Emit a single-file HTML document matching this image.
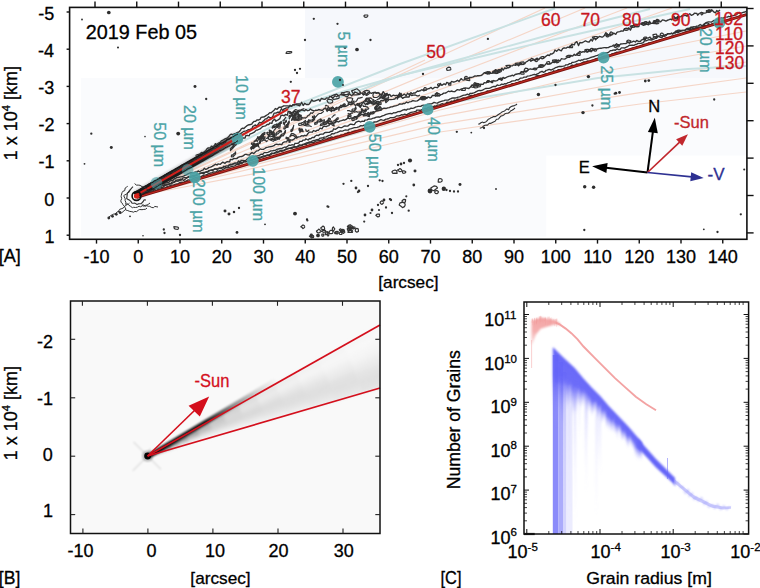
<!DOCTYPE html>
<html><head><meta charset="utf-8"><style>
html,body{margin:0;padding:0;background:#fff;width:760px;height:588px;overflow:hidden;font-family:"Liberation Sans",sans-serif;}
svg{display:block}
</style></head><body>
<svg width="760" height="588" viewBox="0 0 760 588" font-family="Liberation Sans, sans-serif">
<rect width="760" height="588" fill="#fff"/>
<path d="M81,78 H746 V155.4 H546.3 V236.5 H81 Z" fill="#fafbfd"/>
<rect x="305" y="8.3" width="441.5" height="69.7" fill="#f6f8fc"/>
<polyline points="136.5,196.0 425.0,60.0" fill="none" stroke="#f5d6c8" stroke-width="1.2" stroke-linejoin="round"/>
<polyline points="136.5,196.0 545.0,8.0" fill="none" stroke="#f5d6c8" stroke-width="1.2" stroke-linejoin="round"/>
<polyline points="136.5,196.0 585.0,8.0" fill="none" stroke="#f5d6c8" stroke-width="1.2" stroke-linejoin="round"/>
<polyline points="136.5,196.0 627.0,8.0" fill="none" stroke="#f5d6c8" stroke-width="1.2" stroke-linejoin="round"/>
<polyline points="136.5,196.0 672.0,8.0" fill="none" stroke="#f5d6c8" stroke-width="1.2" stroke-linejoin="round"/>
<polyline points="136.5,196.0 440.0,104.0 600.0,60.0 746.0,31.0" fill="none" stroke="#f5d6c8" stroke-width="1.2" stroke-linejoin="round"/>
<polyline points="136.5,196.0 440.0,110.0 600.0,72.0 746.0,46.0" fill="none" stroke="#f5d6c8" stroke-width="1.2" stroke-linejoin="round"/>
<polyline points="136.5,196.0 440.0,116.3 640.0,79.5 746.0,62.0" fill="none" stroke="#f5d6c8" stroke-width="1.2" stroke-linejoin="round"/>
<polyline points="136.5,196.0 440.0,124.2 640.0,92.6 746.0,78.0" fill="none" stroke="#f5d6c8" stroke-width="1.2" stroke-linejoin="round"/>
<polyline points="136.5,196.0 300.0,165.0 440.0,132.0 640.0,104.0 746.0,92.0" fill="none" stroke="#f5d6c8" stroke-width="1.2" stroke-linejoin="round"/>
<polyline points="136.5,196.0 288.7,107.9 400.0,64.0 540.0,13.7 555.0,8.5" fill="none" stroke="#c9e2e3" stroke-width="1.9" stroke-linejoin="round"/>
<polyline points="136.5,196.0 288.7,109.0 345.0,91.0 450.0,62.0 560.0,32.0 650.0,9.0" fill="none" stroke="#c9e2e3" stroke-width="1.9" stroke-linejoin="round"/>
<polyline points="136.5,196.0 300.0,150.0 455.8,101.8 598.0,78.0 688.0,69.0 746.0,66.0" fill="none" stroke="#c9e2e3" stroke-width="1.9" stroke-linejoin="round"/>
<polyline points="136.5,196.0 300.0,112.0 400.0,75.7 500.0,52.0 560.0,38.0 640.0,20.0 690.0,9.0" fill="none" stroke="#c9e2e3" stroke-width="1.9" stroke-linejoin="round"/>
<linearGradient id="bbg" gradientUnits="userSpaceOnUse" x1="136.5" y1="196" x2="246" y2="133"><stop offset="0" stop-color="#0a0a0a" stop-opacity="1"/><stop offset="0.6" stop-color="#111" stop-opacity="0.95"/><stop offset="0.82" stop-color="#222" stop-opacity="0.65"/><stop offset="1" stop-color="#333" stop-opacity="0"/></linearGradient>
<path d="M133.0,192.5 L246.0,127.5 L246.0,137.5 L138.0,198.6 Z" fill="url(#bbg)"/>
<path d="M134.0,190.4 L236.0,131.7 L236.0,144.7 L138.0,200.1 Z" fill="#444" opacity="0.22" filter="url(#bl1)"/>
<polyline points="149.8,185.6 151.0,185.1 152.9,183.0 154.3,182.6 155.3,181.3 156.7,180.9 158.5,180.2 159.7,178.8 161.6,179.5 162.8,177.2 164.8,178.5 165.5,176.5 166.8,175.7 168.9,174.8 169.7,172.4 171.3,172.1 172.9,172.2 174.0,171.2 175.9,169.6 177.2,169.8 178.5,168.2 180.2,169.4 181.2,166.1 183.2,165.7 184.5,164.8 185.3,167.1 187.1,163.8 188.6,162.5 189.5,161.4 191.5,160.1 193.2,160.0 194.4,161.0 195.8,157.3 197.6,158.6 198.5,157.2 200.2,156.3 201.6,157.4 202.6,154.8 204.2,154.0 205.7,153.1 206.8,152.7 208.8,151.9 209.6,150.9 211.8,151.0 212.4,148.2 214.7,148.8 216.0,148.1 217.1,146.3 218.4,147.7 219.7,143.7 221.1,144.5 222.8,144.2 224.4,142.8 225.6,142.1 227.0,139.1 228.8,139.5 230.0,138.6 231.0,137.8 233.3,138.3 234.6,135.3 235.6,136.0 237.3,135.8 238.1,135.3 239.7,134.1 241.3,133.1 242.5,132.3 243.9,131.3 246.1,130.8 247.3,130.3 248.4,129.6 249.9,129.5 251.9,128.7 252.8,126.3 253.8,125.9 255.5,124.9 256.7,125.9 258.0,124.5 259.5,122.3 261.3,122.9 263.1,121.2 264.4,120.0 265.3,118.8 266.6,118.8 268.6,116.8 269.5,117.4 271.6,117.9 272.9,116.1 274.2,113.1 275.1,113.1 276.3,113.0 277.7,112.2 279.7,112.2 281.4,108.7 282.9,110.6 284.2,108.7 284.9,108.8 286.3,107.9 288.4,107.9 290.1,105.2 291.7,106.4 292.7,104.9 295.1,104.1 296.8,104.9 298.6,105.3 299.8,105.8 301.6,102.3 303.2,105.5 304.7,103.3 306.3,104.5 308.6,104.5 309.6,103.7 311.8,99.8 313.2,101.2 314.5,101.1 317.1,100.2 318.8,99.5 319.9,101.2 321.4,98.4 323.1,99.0 325.1,99.4 326.4,97.9 328.7,98.1 329.9,96.3 332.1,97.4 333.3,97.6 335.0,95.7 336.7,96.8 338.0,95.5 339.5,95.2 341.6,94.4 343.6,94.0 345.0,94.4 346.7,94.6 348.4,94.0 349.7,94.1 351.7,95.7 353.4,94.2 354.9,92.0 356.8,92.8 358.5,93.7 360.0,92.7 362.1,93.3 363.5,95.0 364.8,91.8 366.7,94.8 368.0,92.5 369.6,92.7 371.4,93.3 372.9,92.6 375.4,92.1 376.3,93.4 378.0,92.5 380.4,94.6 382.1,94.0 383.2,91.6 385.3,94.7 386.3,93.7 388.2,95.3 389.7,94.4 391.2,96.5 393.4,95.2 394.8,95.6 396.8,95.3 398.8,95.8 400.3,96.4 401.3,95.5 402.7,95.3 404.3,94.1 406.2,95.8 407.6,93.1 409.0,94.6 411.1,92.6 412.1,94.0 414.0,92.8 415.2,93.1 417.5,91.0 418.3,91.3 420.7,90.5 421.8,89.7 423.9,90.9 424.8,90.3 426.3,89.9 427.7,88.8 429.4,88.5 431.1,87.4 432.6,88.9 434.4,87.4 435.5,87.4 437.3,87.7 439.1,86.0 440.3,83.4 441.8,85.4 444.1,83.7 445.6,84.7 446.8,82.4 448.9,83.3 449.8,83.7 451.7,81.4 453.0,82.0 454.3,82.0 455.8,81.3 457.5,80.3 459.0,81.5 461.1,78.6 462.3,79.8 464.0,80.1 465.3,78.3 467.6,78.8 469.2,77.5 470.8,77.5 471.7,77.3 473.3,76.9 475.0,75.9 476.6,76.1 477.6,75.7 479.6,75.7 480.8,75.6 482.5,74.6 484.5,72.6 486.1,73.4 487.7,73.9 488.9,72.2 491.1,73.3 492.3,73.2 493.3,72.6 495.4,69.6 497.1,71.0 498.5,70.0 500.0,70.8 501.9,68.1 503.2,70.1 504.8,67.8 505.9,68.6 507.6,67.8 508.8,67.8 510.9,65.8 512.4,65.9 513.3,64.9 515.7,65.4 517.0,63.9 518.6,65.8 519.8,64.6 521.1,63.4 522.8,64.5 524.9,63.7 526.0,62.0 527.7,61.1 529.3,59.8 530.9,61.2 532.1,60.5 534.1,59.5 534.9,60.5 536.5,58.8 538.7,59.8 540.2,57.7 541.5,58.5 543.0,58.2 544.3,57.6 546.6,55.8 547.7,55.0 549.6,55.5 550.5,53.8 552.0,54.0 553.9,52.6 555.0,50.0 556.6,51.3 558.8,49.2 560.2,50.4 561.3,50.8 562.6,48.7 564.1,47.8 566.0,48.2 567.3,47.2 569.6,47.7 570.3,46.5 571.9,44.2 574.3,44.9 575.2,42.8 576.8,41.6 578.6,45.6 579.9,42.4 581.1,42.9 582.7,42.5 585.1,41.0 585.9,41.0 587.4,41.8 589.1,42.0 591.1,39.3 592.4,41.1 593.9,37.7 595.6,39.8 596.9,38.4 598.7,37.0 599.5,36.4 602.0,37.2 602.9,36.8 604.4,35.4 605.9,32.7 607.8,34.3 609.1,35.3 610.4,34.1 612.7,33.8 613.8,33.2 615.9,34.3 616.9,32.3 618.1,31.9 619.8,31.6 621.3,30.9 623.1,31.2 624.5,28.6 626.1,28.3 627.5,28.6 628.8,27.8 630.4,30.1 632.3,26.1 633.6,25.5 635.2,26.4 636.9,26.8 638.9,26.5 639.5,23.5 641.1,24.2 643.2,22.5 644.9,24.9 646.9,23.7 648.4,24.9 649.4,21.2 650.9,23.4 653.1,23.3 655.0,21.9 656.4,20.5 657.7,21.2 659.6,21.0 660.7,21.9 662.4,19.9 663.8,20.1 666.0,21.1 667.0,20.5 669.1,19.7 670.5,19.1 671.8,19.8 673.7,16.0 675.6,18.5 677.5,16.9 678.5,17.4 680.8,16.7 681.5,15.9 683.5,15.9 684.9,15.1 686.9,16.2 687.9,15.0 689.8,13.8 691.3,15.4 693.5,14.4 694.4,13.1 696.8,13.3 697.6,15.2 699.2,13.5 701.5,12.4 702.6,13.1 704.1,13.2 706.0,12.8 707.3,11.9 708.7,12.3 710.1,11.5 711.7,9.8 714.1,12.2 715.5,12.9 716.7,10.5 718.1,11.6 720.0,10.0" fill="none" stroke="#333333" stroke-width="1.35" stroke-linejoin="round"/>
<polyline points="195.5,155.5 197.6,154.6 198.7,154.5 199.9,153.7 201.5,152.5 203.6,152.6 204.2,151.7 205.8,150.4 207.3,148.4 208.3,148.0 210.6,147.7 211.3,146.1 212.6,146.7 214.4,145.5 215.4,143.6 216.8,144.5 218.5,143.1 220.4,142.2 221.3,140.8 223.4,139.9 224.6,139.2 225.6,138.6 227.5,137.8 229.1,136.2 229.6,135.3 231.2,134.1 233.4,134.7 234.2,133.7 235.7,133.4 237.6,132.4 238.8,132.0 240.3,130.5 241.3,128.9 242.7,128.2 243.9,128.6 245.4,127.1 246.7,125.9 248.1,125.0 250.5,124.5 251.8,124.2 252.4,122.9 253.9,121.4 255.7,121.3 256.9,119.9 258.7,120.0 260.2,119.2 261.0,117.4 263.2,117.0 264.2,116.9 266.0,115.6 266.9,115.0 268.2,114.3 269.8,112.6 271.3,112.8 272.6,111.4 274.6,109.7 275.3,108.5 277.1,109.3 279.0,107.2 279.5,107.2 281.4,107.2 283.8,105.8 284.9,105.9 287.0,105.8 288.6,106.0 290.4,106.1 291.8,105.8 293.1,104.9 294.7,105.0 296.4,104.0 298.0,103.9 300.0,104.0" fill="none" stroke="#333333" stroke-width="1.35" stroke-linejoin="round"/>
<polyline points="231.5,143.7 233.1,144.9 234.6,143.3 236.2,143.7 237.2,142.0 239.1,141.0 240.5,140.1 242.0,139.2 243.1,137.9 245.1,138.1 245.8,135.7 247.3,135.3 249.2,135.8 249.9,134.1 251.8,133.4 253.4,132.6 254.3,132.2 256.2,130.1 257.2,130.2 258.7,129.5 260.1,128.9 261.6,127.6 262.7,126.5 264.1,126.2 265.7,125.8 267.1,124.4 268.9,124.5 269.6,122.9 271.9,123.4 272.4,121.3 274.7,119.1 275.8,121.3 277.5,120.1 278.3,119.8 279.9,118.6 281.1,115.3 282.6,115.1 284.2,115.9 285.3,114.5 287.5,115.2 288.1,111.4 289.5,111.5 291.9,112.9 293.3,112.6 294.9,111.3 296.5,112.4 297.9,110.7 299.5,110.2 300.7,110.1 302.5,110.0 304.7,110.8 305.7,109.4 307.6,110.7 309.1,110.4 310.4,108.9 311.9,110.2 314.1,111.0 315.9,110.2 317.2,110.4 318.7,109.5 320.9,110.2 322.5,110.2 323.8,108.9 325.7,107.9 326.8,110.4 328.1,107.6 330.3,108.3 331.5,107.6 333.5,108.7 334.6,109.0 336.8,107.8 338.5,107.8 339.4,106.6 341.1,107.6 342.4,106.4 345.0,106.5 346.3,106.2 348.0,105.2 349.0,104.0 350.8,104.8 353.0,103.6 354.6,104.2 355.4,105.7 357.3,104.1 359.3,103.7 360.7,106.6 362.1,103.6 363.5,102.2 365.7,104.7 366.9,103.3 368.8,103.8 370.5,102.2 371.7,102.4 373.2,101.9 375.3,100.6 377.2,101.9 378.0,101.4 379.5,102.4 381.1,100.5 383.1,100.9 384.5,99.2 386.1,99.4 388.1,99.3 390.0,99.6 390.9,99.6 392.9,99.4 394.8,99.0 395.8,97.6 397.1,97.6 399.1,97.1 400.9,95.8 402.6,98.4 403.7,97.6 405.6,97.0 407.1,96.9 409.1,97.0 409.9,94.3 411.6,95.5 413.3,95.1 415.3,95.0 417.1,95.9 418.2,96.0 420.0,95.0" fill="none" stroke="#333333" stroke-width="1.35" stroke-linejoin="round"/>
<polyline points="139.5,195.4 141.7,193.1 142.5,193.8 144.4,191.7 146.2,191.5 147.0,191.4 148.6,191.2 150.6,190.1 152.0,189.9 153.1,187.8 154.9,186.9 156.3,187.8 157.5,185.6 159.0,184.7 161.1,185.9 162.0,184.8 163.9,185.2 165.0,183.1 167.0,182.6 168.6,182.6 169.8,181.2 171.6,180.0 172.6,180.8 174.4,178.7 175.5,178.8 176.8,177.4 178.2,177.5 180.4,176.8 181.2,176.8 183.5,176.1 184.5,175.6 185.7,175.1 187.9,173.8 189.5,173.2 190.3,173.0 192.6,172.7 194.2,172.7 195.8,171.8 197.3,171.8 198.2,170.9 199.6,171.8 201.9,170.3 203.2,169.9 204.4,168.2 205.8,169.4 207.4,168.6 209.0,167.4 210.5,167.1 212.1,166.4 213.7,165.4 215.8,164.2 217.0,165.0 218.0,163.9 220.3,164.4 221.4,163.2 222.8,162.1 225.0,163.4 225.8,162.5 227.2,161.6 229.7,161.8 230.3,159.5 232.6,159.7 233.5,158.5 235.7,158.6 236.7,158.6 238.2,157.4 240.2,156.7 241.7,156.5 242.7,156.2 244.9,154.4 246.3,154.4 247.6,154.8 249.6,155.0 250.3,153.9 252.0,152.6 253.8,153.6 255.3,152.0 256.9,150.8 258.5,150.6 260.1,148.9 261.4,149.3 263.4,149.3 264.8,148.5 266.1,147.6 268.0,147.2 269.2,146.8 271.2,146.5 272.1,146.4 274.0,145.7 275.0,144.7 276.7,144.1 278.1,144.7 279.8,144.2 281.8,144.7 282.7,142.8 284.5,141.9 286.6,141.8 287.6,140.0 288.9,140.3 290.5,139.8 292.2,140.2 294.1,139.1 295.6,137.6 296.9,138.0 298.1,137.0 300.2,136.6 301.9,135.6 303.3,136.1 304.5,135.3 306.5,135.6 308.0,133.5 309.4,132.1 310.9,132.1 312.4,132.2 313.4,130.5 315.6,131.4 317.1,130.2 318.4,130.3 320.1,128.2 322.0,128.9 322.8,127.1 324.5,126.2 326.1,126.7 327.7,125.9 328.9,125.6 330.8,123.2 331.9,123.3 334.1,123.1 335.4,122.1 336.9,121.3 338.4,122.0 340.2,120.9 341.5,120.6 343.6,119.8 344.6,120.2 346.2,119.4 347.4,118.2 349.7,118.7 350.9,117.9 352.9,118.0 354.7,116.6 356.1,116.6 357.3,116.3 359.2,116.1 360.8,114.9 362.2,114.4 363.4,115.1 365.4,113.9 367.2,113.9 368.2,112.5 370.0,113.6 371.4,113.2 373.5,111.8 374.5,112.1 376.2,111.0 378.1,110.6 379.3,110.2 381.0,110.3 382.6,108.6 384.1,108.1 386.2,108.5 387.7,107.8 389.4,107.6 390.9,106.8 392.2,106.8 394.1,106.2 395.4,105.8 396.5,105.7 398.2,105.0 399.7,103.9 402.0,104.2 403.5,103.3 404.8,103.5 406.6,102.0 408.1,102.8 409.6,101.8 411.0,101.7 412.9,100.7 414.1,100.9 415.3,101.1 417.2,100.9 418.4,100.1 420.3,98.6 422.2,99.0 422.9,99.0 425.1,97.6 426.7,98.2 428.0,96.9 430.1,97.9 431.4,97.1 432.3,95.5 434.8,95.3 435.8,96.3 437.5,95.0 439.5,95.8 440.8,94.6 442.0,94.4 443.7,93.1 445.3,93.2 446.8,92.3 448.4,91.2 449.8,91.6 451.9,91.0 452.9,91.6 454.7,91.7 456.5,90.2 457.6,89.7 459.5,90.1 461.1,89.2 462.7,88.6 464.4,88.1 465.4,87.9 466.7,88.1 468.9,88.5 470.5,87.1 472.0,84.9 473.6,85.2 475.1,84.8 476.7,85.3 478.1,85.6 480.0,84.6 480.8,84.1 483.1,84.3 484.2,82.6 486.3,82.8 487.3,81.4 488.9,81.3 490.6,81.7 492.3,81.2 493.8,80.5 494.9,81.1 497.0,80.6 498.9,79.3 499.9,79.0 501.6,80.3 503.1,77.4 504.5,78.4 505.9,77.7 507.3,76.8 509.4,76.2 510.4,76.0 512.7,75.2 513.5,75.9 515.1,74.5 517.2,74.0 518.7,73.7 520.2,73.7 521.1,71.7 523.2,71.9 525.0,70.9 525.9,72.2 527.2,70.5 528.7,69.5 530.3,68.8 532.1,69.3 534.2,68.5 535.4,69.0 537.0,68.2 538.4,67.3 540.3,66.7 541.4,65.9 543.0,65.2 544.5,65.7 546.4,63.3 547.8,64.2 549.7,64.0 551.0,63.5 552.4,62.2 554.3,62.6 555.2,60.8 556.9,61.6 558.6,60.1 560.1,61.0 561.3,58.7 562.6,58.9 564.7,59.1 566.5,58.0 568.0,57.2 569.5,57.3 570.5,55.6 572.7,56.0 574.3,54.2 575.2,55.3 577.2,54.5 578.2,53.5 579.7,51.5 581.7,52.3 582.9,51.7 584.5,52.0 586.3,50.5 587.5,51.7 589.2,49.9 591.1,51.7 592.7,49.4 594.2,49.6 595.5,49.4 597.0,49.0 599.0,48.3 600.4,48.2 601.6,48.2 604.2,47.6 605.4,47.7 607.1,47.7 608.3,47.6 610.0,46.7 612.1,46.2 613.5,45.0 614.5,45.5 616.6,43.7 618.2,45.5 619.8,44.9 620.6,44.0 622.3,43.9 623.8,43.7 625.8,43.6 627.8,42.2 629.4,43.2 630.4,42.4 631.7,42.2 633.7,41.2 635.4,42.0 636.7,40.4 638.4,41.3 640.5,41.4 641.3,40.2 643.0,39.4 645.1,40.0 645.9,37.9 648.2,38.1 650.0,37.0 650.6,38.3 653.1,38.1 654.4,36.7 656.0,37.4 657.0,36.0 658.6,36.3 660.5,35.8 661.7,35.6 663.9,35.9 665.0,34.6 666.4,34.6 668.9,33.6 670.4,33.8 671.5,32.9 672.8,34.0 674.9,31.9 676.3,31.5 677.9,32.8 679.6,31.7 680.6,31.5 682.8,30.4 684.6,30.3 685.6,29.8 687.1,29.9 689.3,29.2 690.5,29.4 691.9,29.0 694.2,28.2 694.8,28.8 696.6,27.1 698.4,27.2 699.7,27.5 701.5,28.9 703.6,26.1 704.4,25.5 706.0,26.8 708.2,24.5 709.1,26.4 711.5,24.0 712.3,24.1 714.7,23.0 716.0,23.0" fill="none" stroke="#333333" stroke-width="1.35" stroke-linejoin="round"/>
<polyline points="139.9,195.4 142.0,195.0 142.7,194.9 144.3,193.8 145.9,192.3 147.3,193.0 149.2,192.2 150.5,191.4 152.5,191.2 154.2,189.7 155.0,189.2 157.2,188.1 158.0,188.5 160.3,187.0 161.9,187.7 163.1,187.3 164.6,185.8 166.5,185.0 168.0,184.7 169.1,184.0 170.9,183.6 171.8,182.1 173.9,181.9 175.0,181.2 177.3,179.9 178.3,180.0 180.3,179.0 181.1,179.9 183.1,177.8 184.6,177.6 185.7,177.6 188.2,177.3 188.8,177.1 190.5,176.5 191.9,175.9 194.0,175.5 195.5,175.2 197.0,173.9 198.1,174.1 200.4,173.7 201.2,173.2 203.1,172.5 204.2,172.4 206.1,172.4 208.1,172.0 208.9,170.4 210.4,170.3 212.6,170.7 213.8,169.6 215.7,168.9 217.4,168.8 218.7,168.3 219.8,168.3 221.5,168.4 223.5,166.9 224.9,166.6 226.2,165.9 228.2,165.8 229.2,164.9 230.9,164.1 231.9,164.4 233.8,163.4 235.0,163.0 237.4,162.7 238.6,160.9 240.3,162.2 241.1,160.3 243.2,160.4 244.4,160.7 246.2,160.1 247.4,158.7 249.3,157.4 250.6,158.5 252.1,157.4 253.9,156.8 255.8,156.1 256.9,156.0 258.5,155.6 259.6,155.2 261.3,154.2 262.8,154.2 264.2,152.6 266.3,152.7 267.8,152.3 269.4,151.7 270.7,150.9 272.3,150.8 273.7,150.5 275.4,150.3 276.8,149.4 278.3,149.0 280.4,148.5 281.5,148.6 282.9,147.9 284.9,147.0 285.8,147.4 287.6,146.4 288.8,145.1 291.0,145.3 291.9,144.7 294.1,145.2 295.0,143.3 297.1,143.4 298.6,143.0 300.0,141.3 301.8,141.4 303.1,140.1 304.9,140.1 305.8,138.8 308.1,140.0 309.3,138.7 310.8,138.7 312.2,137.4 314.1,137.5 315.3,136.0 316.9,135.2 318.3,135.6 319.9,134.4 321.4,134.1 323.4,134.0 324.6,132.7 325.8,132.5 327.8,132.3 329.3,132.4 330.6,131.5 332.7,131.0 333.6,128.8 335.3,129.3 336.5,128.7 338.5,127.1 340.3,127.6 341.6,127.7 343.2,126.7 344.9,125.9 346.4,126.1 347.7,126.1 349.5,124.7 350.7,124.2 352.7,124.5 354.3,124.6 355.8,122.4 357.3,121.7 358.8,121.2 360.6,122.0 361.9,121.2 364.2,121.3 364.9,120.1 367.2,119.8 368.9,118.9 370.4,119.1 371.4,119.0 373.2,118.1 374.4,118.0 376.4,117.2 378.4,116.8 379.6,117.2 381.3,116.4 382.4,115.8 384.0,115.3 386.1,114.3 387.1,114.1 388.9,113.7 390.7,113.5 392.1,113.8 393.6,112.7 394.9,112.8 396.4,112.5 398.0,111.7 400.3,111.5 401.7,110.7 402.6,110.1 405.0,109.5 406.1,110.2 407.5,109.1 409.8,109.0 411.0,108.1 412.4,108.4 413.6,108.1 416.1,106.8 417.1,106.6 418.3,106.3 420.7,106.4 422.3,105.4 423.8,105.2 425.5,105.6 426.6,105.0 428.0,104.1 429.9,103.9 431.6,103.9 432.8,103.2 434.0,102.4 435.8,102.9 437.3,103.2 439.1,102.1 440.5,101.6 442.1,101.1 444.1,100.6 445.2,100.1 446.7,100.1 448.2,100.1 449.8,99.2 451.2,98.5 452.9,97.9 455.0,98.0 456.6,97.6 458.1,97.1 459.6,96.8 460.8,96.3 463.0,95.4 464.1,95.1 465.3,95.1 467.4,94.1 468.8,94.8 470.2,93.3 471.6,93.5 473.8,92.9 475.0,92.4 476.3,91.6 478.3,90.7 479.8,90.5 480.8,90.7 482.5,90.1 484.5,89.0 485.5,88.5 487.5,88.3 488.9,88.4 490.4,87.8 491.8,87.1 493.7,86.4 495.7,86.5 497.2,84.9 498.1,85.4 500.2,85.1 501.7,84.2 503.2,84.5 504.8,83.6 506.0,84.0 507.8,82.7 509.6,82.4 511.0,81.7 511.8,81.1 513.5,80.9 515.3,80.7 516.5,79.6 518.1,80.0 520.3,78.2 521.3,78.1 523.0,77.8 524.1,77.1 526.5,77.1 527.2,76.1 529.6,75.9 530.5,75.5 531.9,75.2 534.3,74.3 535.6,74.8 536.8,74.1 538.7,73.4 539.6,72.4 542.0,71.3 543.3,72.3 544.9,71.7 546.1,70.3 547.2,70.2 549.2,69.4 551.2,70.0 551.9,69.6 554.0,68.6 555.4,67.7 557.4,67.2 558.2,66.6 559.6,66.3 561.2,66.5 562.9,66.2 564.8,65.8 565.9,64.8 567.6,64.8 569.7,63.6 571.2,63.7 571.9,62.5 574.2,62.2 575.4,61.9 577.1,61.2 578.6,60.2 580.3,60.7 581.2,59.9 582.8,60.0 584.2,59.1 586.4,59.0 587.6,58.6 589.2,58.1 590.6,57.5 591.8,57.1 594.3,56.5 595.6,55.8 597.4,55.4 598.5,55.0 599.9,54.9 601.0,54.8 603.5,53.4 605.1,52.8 606.3,52.9 607.3,52.8 608.8,52.1 610.6,50.6 612.0,50.5 614.3,49.9 615.1,50.4 617.2,48.8 618.3,49.6 619.8,49.7 621.4,47.9 623.4,47.8 624.4,48.1 626.3,47.2 628.0,46.3 629.7,45.1 630.8,45.4 632.1,45.2 633.9,45.4 635.0,44.7 636.9,44.1 638.0,43.4 639.9,43.3 641.0,43.3 643.4,42.6 644.5,40.9 645.9,40.8 647.6,40.2 649.1,39.6 651.1,40.0 652.7,39.5 653.8,39.2 655.4,38.2 656.5,38.2 658.3,36.2 660.4,37.3 661.9,37.7 663.2,35.9 664.9,36.3 666.3,35.4 667.5,33.6 669.2,33.7 670.9,33.6 672.7,33.7 673.4,33.1 675.3,33.1 676.5,31.7 678.5,31.1 679.9,30.4 681.4,30.4 682.7,30.5 684.7,30.5 685.8,29.4 687.3,28.4 689.3,28.2 690.8,28.3 692.0,27.1 693.9,26.7 695.5,26.8 696.5,26.2 698.4,25.9 700.2,24.5 701.8,25.6 703.4,25.0 704.4,23.8 706.0,22.7 708.4,21.9 709.2,21.9 711.4,22.1 712.6,21.4 713.8,20.5 715.7,20.2 717.7,19.0 719.2,19.9 721.0,18.0 722.6,18.1 723.5,18.0 725.6,17.1 727.1,17.2 728.4,16.4 730.4,16.9 731.3,15.4 733.4,15.7 735.2,15.1 736.1,14.9 737.8,13.5 739.3,12.5 741.3,13.2 742.4,12.7 744.7,12.0 746.0,11.5" fill="none" stroke="#333333" stroke-width="1.35" stroke-linejoin="round"/>
<polyline points="139.7,195.2 141.7,194.9 143.0,195.0 144.7,194.6 146.3,193.9 147.2,192.2 149.1,192.8 151.1,192.4 152.6,191.8 154.2,191.2 155.6,190.3 156.6,190.4 158.8,189.1 160.1,189.6 161.1,188.6 163.5,188.4 164.7,187.9 166.0,187.3 167.7,186.4 169.1,186.1 170.3,185.5 171.8,185.1 173.8,184.9 175.0,184.3 177.1,183.8 178.5,183.6 179.8,182.4 182.0,182.2 183.6,182.3 184.9,181.5 186.5,181.0 187.8,179.9 189.1,179.8 191.1,180.1 192.7,178.8 194.1,178.2 195.6,177.5 196.8,177.4 198.5,176.9 199.8,176.6 201.4,176.4 202.9,175.5 204.4,175.1 205.8,174.9 207.2,174.3 209.2,173.3 210.8,173.0 211.9,172.8 213.6,171.9 215.4,172.2 217.4,170.7 218.5,171.3 219.6,170.4 222.0,170.1 222.9,169.3 225.0,168.3 225.7,167.5 227.5,167.8 229.0,167.5 230.5,166.8 232.5,166.3 233.5,166.1 235.5,165.6 236.6,164.4 238.7,164.8 239.6,163.7 241.8,163.6 242.7,162.6 244.3,161.7 246.3,161.7 248.1,161.5 249.5,161.2 250.9,160.0 252.1,160.2 253.4,159.4 255.5,159.0 256.8,158.0 258.2,158.0 260.0,158.3 261.6,157.1 263.6,157.0 264.8,156.3 266.0,155.8 267.3,155.3 269.5,155.3 270.7,154.6 272.3,153.4 274.0,153.1 275.5,152.6 276.7,152.9 278.7,152.0 279.8,150.9 281.8,151.4 282.9,150.5 284.6,150.3 285.7,149.6 287.7,148.8 289.1,148.2 291.3,148.4 291.9,148.4 293.4,147.4 295.4,147.0 297.0,146.8 298.3,146.7 299.6,145.8 302.0,145.5 302.7,145.0 304.4,144.0 306.6,142.8 307.5,142.8 309.5,142.0 311.2,141.8 311.9,141.2 314.0,140.5 315.3,140.2 317.0,139.5 318.4,139.8 320.1,138.1 321.3,138.0 323.0,137.7 324.3,137.1 326.3,136.9 327.5,136.1 329.3,135.3 330.4,135.2 332.1,133.6 334.1,133.8 335.2,132.9 336.9,132.7 338.6,131.9 340.1,131.0 342.0,131.2 342.9,130.9 345.0,130.0 346.7,130.1 348.4,130.0 349.3,129.1 351.5,128.6 352.1,128.3 354.4,127.6 355.4,127.6 357.0,127.3 358.8,126.9 360.9,125.7 362.6,125.9 364.0,125.2 365.5,125.2 366.6,124.4 368.4,124.0 370.5,123.5 371.4,123.2 373.1,122.5 374.4,122.0 376.5,121.9 377.5,121.4 379.1,120.6 380.9,119.7 382.5,120.2 383.9,120.4 386.0,119.1 387.1,119.0 388.5,118.7 390.1,117.7 392.2,117.6 393.5,117.7 395.4,116.8 396.9,115.8 398.9,115.8 400.4,115.4 401.4,114.7 403.0,115.0 404.6,114.2 406.2,114.6 407.3,114.4 409.5,113.2 411.0,112.4 412.4,112.1 413.7,111.9 416.0,111.4 416.7,110.1 418.9,110.2 420.4,110.5 421.7,109.6 423.7,109.2 425.4,108.3 427.1,108.3 427.9,107.5 429.6,107.1 431.5,106.7 432.9,106.9 434.6,106.0 436.0,106.3 437.2,105.2 439.5,104.8 440.6,104.5 442.2,103.7 443.5,104.2 445.3,103.9 446.9,102.2 448.2,102.3 449.7,102.2 451.7,101.2 453.5,101.7 454.2,100.2 456.1,100.6 457.4,99.2 459.0,99.4 460.8,99.1 462.8,98.1 463.7,98.0 465.5,98.2 467.1,97.2 468.7,96.9 470.0,95.7 472.1,95.6 473.2,95.8 474.9,94.8 476.1,94.9 477.8,94.0 479.4,93.6 481.5,93.2 482.6,93.1 484.7,92.8 486.3,92.2 487.2,90.9 489.2,91.4 490.5,91.0 492.1,90.3 494.0,89.6 495.5,89.7 497.2,88.7 498.5,88.7 500.4,88.3 501.8,88.4 502.9,86.9 504.2,86.3 506.4,85.8 507.7,85.9 509.6,85.2 510.9,84.6 512.3,83.6 513.8,83.9 515.4,83.6 516.9,82.6 518.5,82.6 520.2,81.4 521.4,81.9 523.1,81.1 524.9,80.5 525.9,79.8 527.3,79.6 528.8,78.9 531.0,78.5 532.5,78.1 534.1,77.5 535.6,77.2 536.8,75.6 538.8,75.6 540.4,75.9 541.6,75.5 542.6,75.1 544.4,74.3 546.0,73.8 547.7,74.1 549.2,72.8 550.6,72.5 552.7,72.2 553.6,70.8 555.1,71.5 556.8,70.7 558.4,69.6 559.9,69.7 561.8,69.4 563.1,69.5 564.2,68.0 566.1,68.1 567.8,67.1 569.5,67.1 570.6,66.2 572.4,65.2 573.8,65.7 575.8,64.8 576.5,64.0 578.0,64.2 580.4,63.9 581.2,63.3 583.5,62.0 584.6,61.9 586.3,61.6 587.4,61.0 589.6,61.3 590.5,61.0 591.9,60.4 594.3,59.8 595.3,58.9 597.3,58.3 598.6,58.2 600.2,57.8 601.1,57.4 602.8,56.5 604.7,56.1 605.8,56.3 608.1,55.1 608.9,55.6 611.1,54.9 611.8,54.0 613.7,53.5 615.4,53.0 616.5,52.2 618.4,52.4 620.2,52.3 621.2,51.8 623.5,51.8 624.6,50.5 625.9,49.7 627.7,50.1 629.7,49.5 631.1,48.9 632.4,48.1 633.5,47.8 635.2,47.9 636.7,46.5 638.9,46.9 640.5,46.1 641.4,46.0 642.6,44.9 644.4,44.4 646.4,44.2 647.4,43.8 648.8,42.9 650.8,43.1 652.6,42.6 653.9,41.8 655.4,41.4 656.5,40.8 658.5,40.3 659.9,39.6 661.2,39.9 662.7,39.4 665.0,38.5 666.5,38.0 667.3,37.7 669.6,37.5 670.8,37.1 671.9,36.1 673.9,35.9 675.4,35.2 676.8,35.1 678.2,34.6 680.4,34.2 681.5,33.6 683.5,33.0 684.6,32.7 686.3,31.7 687.4,31.7 689.0,31.0 690.3,30.4 692.1,30.6 694.2,30.3 695.1,29.6 697.0,29.0 698.0,27.9 699.7,27.2 701.1,26.9 703.3,26.8 704.6,26.0 706.7,25.4 707.4,25.9 710.0,24.9 710.7,24.9 712.4,24.2 713.9,23.3 715.7,23.5 717.2,23.1 718.9,23.6 720.9,21.8 722.2,20.9 724.2,21.0 725.6,20.4 727.1,19.9 728.9,19.7 730.4,19.0 731.6,19.2 733.5,19.0 735.1,18.2 736.9,17.8 738.5,16.8 740.0,15.7 741.3,15.3 743.1,15.7 744.8,14.7 746.0,14.5" fill="none" stroke="#333333" stroke-width="1.35" stroke-linejoin="round"/>
<polyline points="140.0,195.7 142.0,194.9 143.4,194.2 144.5,192.9 146.0,191.9 147.9,191.7 149.9,191.6 151.2,190.3 152.9,189.4 154.5,188.8 156.1,187.7 157.3,188.7 159.3,187.9 160.4,186.2 162.4,185.9 163.2,185.7 164.9,185.2 167.2,184.1 168.4,184.4 169.8,183.6 171.9,183.5 173.2,182.5 174.4,182.3 176.4,180.9 178.0,181.3 178.9,180.6 181.1,180.0 182.0,179.5 183.7,180.4 185.1,179.2 187.3,177.8 188.4,176.5 190.0,177.3 192.0,177.1 192.7,177.1 194.6,176.1 196.6,175.3 197.6,175.0 199.1,174.0 200.4,173.0 202.3,173.1 203.7,173.8 205.6,172.0 206.5,171.6 208.9,171.1 209.9,170.6 211.5,170.0 213.2,169.7 214.8,168.7 216.3,169.4 218.3,168.8 219.8,167.9 221.5,167.7 223.2,167.4 223.9,166.2 225.8,167.4 228.0,167.1 228.8,165.2 230.3,165.0 232.3,164.8 233.8,163.7 235.9,163.8 237.1,164.1 239.3,162.6 240.6,161.9 241.9,162.9 243.8,161.6 245.0,161.7 247.1,161.4 248.7,160.3 250.0,160.2 251.9,160.0 252.7,159.7 254.4,159.0 256.0,158.3 258.2,158.0 259.0,157.2 261.2,156.9 262.2,156.7 263.5,155.8 265.3,155.9 267.4,154.9 268.9,154.8 270.0,154.4 271.8,153.0 272.9,153.5 274.6,153.3 276.2,151.8 277.5,151.0 279.1,151.7 280.6,150.5 282.4,150.3 283.4,150.7 285.7,149.0 287.4,148.7 288.2,148.5 290.0,148.2 291.9,147.4 293.5,146.8 294.4,146.6 296.9,147.0 298.1,145.7 299.5,144.8 301.6,145.2 302.7,144.4 304.7,144.2 306.4,144.2 307.6,142.9 309.6,143.1 310.4,142.7 312.3,142.6 314.0,142.4 315.7,141.0 317.1,140.9 319.1,140.6 320.7,140.5 322.2,139.8 323.9,138.6 325.6,139.2 327.0,139.1 328.8,137.8 329.6,137.8 331.7,136.9 332.9,137.8 335.1,137.0 336.1,136.4 337.5,136.2 339.6,136.3 340.9,134.9 342.8,135.5 344.0,134.6 345.3,133.6 347.1,133.2 348.5,132.4 350.8,132.7 351.6,132.2 353.4,131.5 355.4,131.0 356.9,131.2 358.1,130.5 360.0,130.0" fill="none" stroke="#333333" stroke-width="1.35" stroke-linejoin="round"/>
<polyline points="140.3,189.1 141.7,188.3 143.1,187.6 143.8,186.6 145.3,186.0 147.3,185.1 148.5,184.1 150.0,183.4 151.8,182.7 153.4,182.1 154.1,180.7 156.2,180.5 156.8,179.6 158.5,178.6 160.0,177.6 161.3,177.1 162.6,176.4 164.0,175.4 165.7,174.4 166.8,173.8 168.3,172.9 170.1,172.1 171.7,170.9 173.3,170.8 174.5,169.6 175.3,169.0 177.5,168.2 178.8,167.3 179.9,166.4 181.1,165.4 182.7,164.5 183.8,164.2 186.1,163.5 187.4,162.4 188.2,161.7 189.7,160.9 191.9,159.9 193.2,159.4 194.6,158.3 195.3,157.9 197.1,157.0 198.2,156.1 200.3,155.3 201.5,155.0 202.6,153.5 204.4,152.7 205.9,152.3 206.6,151.4 208.4,150.5 209.6,150.0 211.5,148.9 212.6,148.5 214.0,147.4 215.0,146.4 217.2,145.9 218.2,144.8 219.4,144.0 221.5,143.3 222.6,142.6 223.5,141.8 225.4,141.1 226.8,140.1 227.7,139.1 229.8,138.7 230.8,137.8 232.5,136.9 233.9,136.0 235.4,135.2 237.0,134.5 238.0,133.7" fill="none" stroke="#1a1a1a" stroke-width="0.9" stroke-linejoin="round"/>
<polyline points="384.9,98.6 385.6,99.9 386.1,100.6 387.4,99.3 388.1,98.5 388.5,100.3 387.1,101.5 385.8,102.7 385.5,101.1 384.9,100.7 384.9,98.6" fill="none" stroke="#333333" stroke-width="1.2" stroke-linejoin="round"/>
<polyline points="289.0,119.4 290.1,117.4 290.7,116.0 292.1,114.7 293.2,115.7 294.6,114.8 295.4,114.5" fill="none" stroke="#333333" stroke-width="1.2" stroke-linejoin="round"/>
<polyline points="230.4,148.6 232.3,147.0 234.3,144.1 236.3,143.1 236.4,144.6 234.6,146.0 232.5,148.5 230.4,150.5 230.4,148.6" fill="none" stroke="#333333" stroke-width="1.2" stroke-linejoin="round"/>
<polyline points="263.8,140.3 265.3,139.9 266.4,141.6 267.7,140.5" fill="none" stroke="#333333" stroke-width="1.2" stroke-linejoin="round"/>
<polyline points="231.5,154.9 232.0,154.9 232.8,155.1 233.7,153.7 234.7,153.3 235.6,151.9 235.6,153.7 235.0,154.8 234.1,155.6 233.3,156.6 231.7,156.9 231.4,156.8 231.5,154.9" fill="none" stroke="#333333" stroke-width="1.2" stroke-linejoin="round"/>
<polyline points="272.9,127.5 274.3,127.7 275.8,126.7 277.4,127.3 278.8,128.2 280.5,127.7" fill="none" stroke="#333333" stroke-width="1.2" stroke-linejoin="round"/>
<polyline points="376.6,99.6 377.5,99.6 378.9,98.7 380.4,97.5 381.5,97.7 382.3,98.4 383.1,98.9" fill="none" stroke="#333333" stroke-width="1.2" stroke-linejoin="round"/>
<polyline points="333.9,120.3 335.0,120.6 336.0,119.2 337.3,117.9 338.3,117.9 337.9,119.7 336.9,119.6 335.9,121.0 335.5,122.6 333.8,122.3 333.9,120.3" fill="none" stroke="#333333" stroke-width="1.2" stroke-linejoin="round"/>
<polyline points="348.0,114.8 348.5,115.6 349.2,115.0 350.2,114.5 350.8,114.7 351.1,116.1 350.3,116.4 349.0,116.4 348.0,117.8 347.8,117.0 348.0,114.8" fill="none" stroke="#333333" stroke-width="1.2" stroke-linejoin="round"/>
<polyline points="272.1,126.8 274.6,124.8 277.3,124.6 280.3,124.5 280.1,126.4 277.6,126.0 274.1,126.6 272.3,128.2 272.1,126.8" fill="none" stroke="#333333" stroke-width="1.2" stroke-linejoin="round"/>
<polyline points="366.5,101.3 368.1,102.1 369.4,102.3 370.8,103.3 372.1,103.9 373.2,102.0 374.7,102.0" fill="none" stroke="#333333" stroke-width="1.2" stroke-linejoin="round"/>
<polyline points="283.3,121.5 283.4,122.4 283.7,122.6 284.6,123.1 284.9,122.2 285.7,120.9 286.3,120.4 286.5,121.7 285.3,122.5 284.4,123.5 284.7,125.1 284.1,124.0 283.4,123.9 283.4,123.2 283.3,121.5" fill="none" stroke="#333333" stroke-width="1.2" stroke-linejoin="round"/>
<polyline points="266.9,131.9 268.2,132.9 269.3,132.5 270.2,130.8 271.2,130.9 271.5,132.7 270.1,132.4 269.3,134.6 267.8,134.7 266.9,133.5 266.9,131.9" fill="none" stroke="#333333" stroke-width="1.2" stroke-linejoin="round"/>
<polyline points="254.7,144.6 255.6,145.0 256.5,144.6 257.3,145.6 258.5,146.5 259.5,147.6" fill="none" stroke="#333333" stroke-width="1.2" stroke-linejoin="round"/>
<polyline points="293.0,117.8 294.1,117.9 295.7,117.5 296.7,117.9 298.0,117.8 299.2,115.5 299.2,117.5 297.6,119.8 296.5,119.6 295.4,119.7 293.6,119.8 293.1,119.6 293.0,117.8" fill="none" stroke="#333333" stroke-width="1.2" stroke-linejoin="round"/>
<polyline points="375.7,108.0 376.8,107.9 378.6,107.8 379.9,106.3 380.9,107.3 381.4,108.6 379.6,107.5 378.5,109.0 376.5,109.6 375.5,109.3 375.7,108.0" fill="none" stroke="#333333" stroke-width="1.2" stroke-linejoin="round"/>
<polyline points="299.6,130.2 300.3,131.2 301.1,129.3 302.3,129.2 302.2,130.9 301.3,131.1 299.9,132.4 299.8,132.0 299.6,130.2" fill="none" stroke="#333333" stroke-width="1.2" stroke-linejoin="round"/>
<polyline points="361.6,108.4 362.8,109.6 363.3,110.3 364.1,111.0 364.6,110.2 365.9,108.9 365.5,110.8 364.9,111.4 363.7,112.7 362.9,112.3 362.8,111.1 361.4,109.8 361.6,108.4" fill="none" stroke="#333333" stroke-width="1.2" stroke-linejoin="round"/>
<polyline points="268.0,136.5 269.2,134.7 270.0,135.4 270.9,134.5 271.8,134.8 273.1,134.2 274.4,133.9 274.7,135.5 272.6,136.4 271.3,136.5 270.9,136.6 269.9,136.8 269.0,136.1 268.1,138.1 268.0,136.5" fill="none" stroke="#333333" stroke-width="1.2" stroke-linejoin="round"/>
<polyline points="290.3,135.5 291.4,133.5 293.0,133.5 294.7,134.5 296.0,135.6 296.9,136.6 296.5,137.9 296.4,137.1 294.5,136.5 293.5,135.3 291.5,135.2 289.8,136.8 290.3,135.5" fill="none" stroke="#333333" stroke-width="1.2" stroke-linejoin="round"/>
<polyline points="253.7,142.6 254.4,140.9 255.1,141.4 256.2,139.6 257.5,137.9 258.3,136.4" fill="none" stroke="#333333" stroke-width="1.2" stroke-linejoin="round"/>
<polyline points="282.7,120.9 283.5,119.9 284.1,120.3 284.8,118.6 286.1,117.0" fill="none" stroke="#333333" stroke-width="1.2" stroke-linejoin="round"/>
<polyline points="315.0,117.7 316.6,115.8 318.1,114.2 319.3,113.5 320.9,113.5 322.2,112.6 323.8,111.3" fill="none" stroke="#333333" stroke-width="1.2" stroke-linejoin="round"/>
<polyline points="294.6,114.1 295.6,114.7 297.4,115.0 298.6,114.1 299.7,114.9 301.3,115.3 300.9,116.9 300.2,116.2 298.5,115.5 297.9,116.5 295.8,116.0 295.0,115.9 294.6,114.1" fill="none" stroke="#333333" stroke-width="1.2" stroke-linejoin="round"/>
<polyline points="397.2,97.0 398.0,95.5 398.9,94.4 399.7,92.7 400.2,94.0 400.8,95.0 401.2,93.3 401.5,95.0 401.1,97.1 400.3,95.8 399.7,94.1 398.8,96.3 398.3,97.5 397.2,99.1 397.2,97.0" fill="none" stroke="#333333" stroke-width="1.2" stroke-linejoin="round"/>
<polyline points="291.8,118.5 292.4,118.5 292.7,117.0 293.4,115.2 294.0,116.0 295.0,114.6 295.3,116.7 294.1,117.3 293.1,117.3 293.2,118.2 292.0,120.2 291.6,120.4 291.8,118.5" fill="none" stroke="#333333" stroke-width="1.2" stroke-linejoin="round"/>
<polyline points="356.2,116.9 358.0,115.4 359.1,113.5 360.4,112.3 362.0,110.5 361.7,112.0 360.6,113.7 358.9,115.5 357.8,117.3 356.6,118.9 356.2,116.9" fill="none" stroke="#333333" stroke-width="1.2" stroke-linejoin="round"/>
<polyline points="338.6,108.4 339.5,107.0 340.9,105.2 341.8,105.5 342.9,104.8 344.2,103.7 345.3,104.3 345.1,106.0 344.3,105.1 342.8,106.0 341.4,107.1 340.5,107.4 339.3,108.4 338.9,110.4 338.6,108.4" fill="none" stroke="#333333" stroke-width="1.2" stroke-linejoin="round"/>
<polyline points="352.0,118.0 353.0,118.8 353.8,118.6 354.7,117.8 355.1,117.3 355.9,117.3 356.7,117.4 356.6,119.1 355.9,119.0 355.2,119.0 354.9,119.7 354.0,120.4 352.6,120.7 351.8,119.8 352.0,118.0" fill="none" stroke="#333333" stroke-width="1.2" stroke-linejoin="round"/>
<polyline points="276.7,123.5 277.7,124.8 278.6,123.7 279.4,123.0 280.7,122.0 281.3,121.6 281.3,123.4 280.8,123.4 279.0,124.7 278.8,125.4 277.8,126.9 276.4,125.0 276.7,123.5" fill="none" stroke="#333333" stroke-width="1.2" stroke-linejoin="round"/>
<polyline points="375.1,107.2 376.3,105.7 378.1,104.4 379.1,102.1 378.7,104.0 378.5,106.0 376.3,106.9 375.1,109.3 375.1,107.2" fill="none" stroke="#333333" stroke-width="1.2" stroke-linejoin="round"/>
<polyline points="365.2,112.5 366.2,110.9 367.0,109.2 368.2,109.1 369.0,108.0" fill="none" stroke="#333333" stroke-width="1.2" stroke-linejoin="round"/>
<polyline points="314.5,122.7 315.5,122.7 316.7,122.0 318.1,120.3 319.4,119.8 321.0,120.3 320.7,121.8 319.5,121.7 317.8,122.0 316.8,124.0 315.5,124.2 314.9,124.5 314.5,122.7" fill="none" stroke="#333333" stroke-width="1.2" stroke-linejoin="round"/>
<polyline points="328.1,110.0 330.0,109.9 331.3,110.4 332.9,110.7 334.7,109.6" fill="none" stroke="#333333" stroke-width="1.2" stroke-linejoin="round"/>
<polyline points="363.8,113.9 365.5,113.6 367.1,114.3 369.3,115.1 369.4,116.8 366.7,115.7 366.0,115.7 363.5,115.9 363.8,113.9" fill="none" stroke="#333333" stroke-width="1.2" stroke-linejoin="round"/>
<polyline points="323.4,122.0 324.8,122.2 326.2,121.8 326.9,121.1 328.1,119.6 328.9,118.1 330.4,118.9 330.2,120.2 329.2,120.0 328.2,121.3 327.1,122.9 326.6,123.9 324.5,124.1 323.3,123.7 323.4,122.0" fill="none" stroke="#333333" stroke-width="1.2" stroke-linejoin="round"/>
<polyline points="269.4,129.6 270.4,130.7 271.6,131.5 272.3,131.9 273.3,133.0 274.3,132.7 274.1,134.1 273.5,134.9 272.0,133.6 271.9,133.0 270.0,132.5 269.2,131.0 269.4,129.6" fill="none" stroke="#333333" stroke-width="1.2" stroke-linejoin="round"/>
<polyline points="305.2,122.4 306.8,121.7 307.7,121.6 308.9,119.6 308.6,121.1 308.0,122.8 306.9,123.7 305.7,124.5 305.2,122.4" fill="none" stroke="#333333" stroke-width="1.2" stroke-linejoin="round"/>
<polyline points="251.1,146.9 253.5,146.5 255.7,144.5 258.1,143.1 258.1,145.1 255.2,145.8 253.7,148.6 250.7,148.2 251.1,146.9" fill="none" stroke="#333333" stroke-width="1.2" stroke-linejoin="round"/>
<polyline points="352.2,109.2 353.2,109.0 354.3,109.0 355.0,108.6 355.7,106.8 356.2,108.9 354.6,110.2 354.1,111.1 353.0,110.8 351.9,110.8 352.2,109.2" fill="none" stroke="#333333" stroke-width="1.2" stroke-linejoin="round"/>
<polyline points="256.3,141.5 256.6,140.2 257.5,141.3 258.0,140.3 258.8,138.5 259.6,136.7" fill="none" stroke="#333333" stroke-width="1.2" stroke-linejoin="round"/>
<polyline points="356.9,103.5 357.6,103.7 358.7,104.4 359.6,105.5 360.7,106.0 360.4,107.7 359.7,106.8 358.9,105.9 357.6,105.4 357.3,105.0 356.9,103.5" fill="none" stroke="#333333" stroke-width="1.2" stroke-linejoin="round"/>
<polyline points="259.2,137.2 260.5,136.1 262.1,134.1 263.7,133.0 265.0,132.4 264.7,134.3 263.4,134.3 261.7,135.7 260.4,138.0 258.7,139.1 259.2,137.2" fill="none" stroke="#333333" stroke-width="1.2" stroke-linejoin="round"/>
<polyline points="259.1,141.9 260.2,141.3 260.8,139.9 261.4,137.7 261.9,136.1 262.5,136.3 263.6,135.3 263.4,137.1 262.5,137.7 261.9,137.5 261.1,139.7 260.4,141.6 260.4,143.0 259.5,143.4 259.1,141.9" fill="none" stroke="#333333" stroke-width="1.2" stroke-linejoin="round"/>
<polyline points="305.3,129.3 305.8,129.4 306.2,131.0 306.7,131.3 307.7,131.4 308.4,130.4 309.3,130.4" fill="none" stroke="#333333" stroke-width="1.2" stroke-linejoin="round"/>
<polyline points="252.4,145.4 252.6,145.9 252.9,144.9 253.3,144.8 253.6,145.8 254.1,144.3 254.3,145.4" fill="none" stroke="#333333" stroke-width="1.2" stroke-linejoin="round"/>
<polyline points="251.1,147.8 252.5,146.4 254.1,145.7 255.3,145.6 256.4,144.8 257.4,143.4 258.5,144.2 258.3,145.7 257.8,145.5 256.6,146.3 254.8,147.3 254.6,147.0 252.1,147.9 251.3,149.8 251.1,147.8" fill="none" stroke="#333333" stroke-width="1.2" stroke-linejoin="round"/>
<polyline points="268.8,139.7 270.1,139.2 271.7,138.6 273.4,137.9 275.3,137.7" fill="none" stroke="#333333" stroke-width="1.2" stroke-linejoin="round"/>
<polyline points="298.4,123.6 301.0,123.1 303.2,122.2 305.5,120.4 305.1,122.2 303.3,124.4 301.1,125.1 298.9,125.3 298.4,123.6" fill="none" stroke="#333333" stroke-width="1.2" stroke-linejoin="round"/>
<polyline points="304.1,125.1 306.8,126.0 309.5,125.8 311.7,126.7" fill="none" stroke="#333333" stroke-width="1.2" stroke-linejoin="round"/>
<polyline points="355.4,102.1 356.7,100.6 358.2,98.0 359.5,98.2 361.2,97.7 362.7,97.0" fill="none" stroke="#333333" stroke-width="1.2" stroke-linejoin="round"/>
<polyline points="294.3,118.3 296.6,118.9 299.2,119.0 301.8,117.2 301.7,119.3 299.1,120.3 296.8,120.1 294.1,120.2 294.3,118.3" fill="none" stroke="#333333" stroke-width="1.2" stroke-linejoin="round"/>
<polyline points="265.7,138.4 266.6,138.4 267.6,137.6 268.3,139.1 269.0,138.0" fill="none" stroke="#333333" stroke-width="1.2" stroke-linejoin="round"/>
<polyline points="253.8,145.1 255.3,145.1 257.2,144.1 258.7,145.9" fill="none" stroke="#333333" stroke-width="1.2" stroke-linejoin="round"/>
<polyline points="320.3,118.6 321.1,119.3 322.1,120.3 323.4,120.2 324.5,119.9 324.1,121.7 323.5,122.2 322.1,121.8 321.1,120.7 320.2,120.1 320.3,118.6" fill="none" stroke="#333333" stroke-width="1.2" stroke-linejoin="round"/>
<polyline points="289.0,115.6 291.2,114.7 293.6,113.8 296.0,112.6 297.9,111.5 298.3,113.7 295.9,114.0 294.0,115.8 291.0,116.2 289.0,117.0 289.0,115.6" fill="none" stroke="#333333" stroke-width="1.2" stroke-linejoin="round"/>
<polyline points="347.1,110.6 349.1,110.6 350.5,111.2 352.0,112.0 353.4,111.6 355.5,112.4" fill="none" stroke="#333333" stroke-width="1.2" stroke-linejoin="round"/>
<polyline points="331.1,108.8 332.4,107.5 333.2,108.4 334.3,109.3 335.6,108.1 336.9,107.2 337.2,109.2 335.4,109.7 334.5,110.7 333.2,110.6 332.0,109.6 331.5,111.0 331.1,108.8" fill="none" stroke="#333333" stroke-width="1.2" stroke-linejoin="round"/>
<polyline points="320.7,123.8 323.0,123.8 325.3,122.2 327.4,120.7 327.9,122.2 325.6,124.2 322.9,125.0 320.3,125.6 320.7,123.8" fill="none" stroke="#333333" stroke-width="1.2" stroke-linejoin="round"/>
<polyline points="305.3,118.4 306.7,117.1 308.1,115.5 309.5,114.9 310.8,112.7 312.3,113.4 313.7,111.9" fill="none" stroke="#333333" stroke-width="1.2" stroke-linejoin="round"/>
<polyline points="286.2,125.1 286.5,124.6 287.5,124.9 287.7,123.1 288.5,122.2 289.0,121.1 289.2,121.0 289.3,122.8 288.5,122.6 288.8,124.1 288.2,124.7 287.6,126.5 286.6,126.6 286.5,126.4 286.2,125.1" fill="none" stroke="#333333" stroke-width="1.2" stroke-linejoin="round"/>
<polyline points="355.2,110.6 356.3,111.6 357.7,112.2 358.9,112.0 359.9,111.8 360.8,112.7 362.1,113.0" fill="none" stroke="#333333" stroke-width="1.2" stroke-linejoin="round"/>
<polyline points="270.5,139.1 273.6,139.5 276.1,137.3 278.5,137.1 278.4,138.5 276.5,138.7 273.3,141.3 270.7,140.3 270.5,139.1" fill="none" stroke="#333333" stroke-width="1.2" stroke-linejoin="round"/>
<polyline points="368.0,113.3 368.7,114.1 369.7,114.0 370.8,112.0 372.2,112.4 373.3,111.8 374.2,112.2 373.9,113.6 373.6,113.4 371.8,114.1 371.0,113.4 369.5,115.4 368.4,116.3 368.0,115.4 368.0,113.3" fill="none" stroke="#333333" stroke-width="1.2" stroke-linejoin="round"/>
<polyline points="326.7,111.9 328.1,110.2 328.9,110.0 330.1,108.5 331.3,108.6 332.6,107.0 333.9,108.0" fill="none" stroke="#333333" stroke-width="1.2" stroke-linejoin="round"/>
<polyline points="374.6,107.1 375.6,107.3 376.6,108.7 378.1,109.0 379.0,108.7 380.3,109.0 380.2,110.2 378.9,110.7 378.0,110.6 376.3,110.6 375.5,108.9 374.9,108.6 374.6,107.1" fill="none" stroke="#333333" stroke-width="1.2" stroke-linejoin="round"/>
<polyline points="272.7,134.9 273.9,135.5 275.6,133.8 276.9,132.3 277.9,131.7 279.7,130.3 281.3,130.8 281.6,132.0 280.0,131.7 278.3,133.6 277.0,134.1 275.7,136.0 273.4,136.9 273.2,137.0 272.7,134.9" fill="none" stroke="#333333" stroke-width="1.2" stroke-linejoin="round"/>
<polyline points="367.9,100.5 368.7,101.1 369.4,101.4 369.9,101.4 370.4,102.3 370.9,101.6 371.4,100.9" fill="none" stroke="#333333" stroke-width="1.2" stroke-linejoin="round"/>
<polyline points="283.7,127.6 285.0,126.8 286.2,125.5 287.6,125.4 288.1,127.2 285.9,127.6 285.1,128.6 284.0,129.1 283.7,127.6" fill="none" stroke="#333333" stroke-width="1.2" stroke-linejoin="round"/>
<polyline points="270.3,133.5 270.7,133.0 271.7,133.8 272.2,132.3 272.5,132.8 273.1,132.6 273.5,131.5" fill="none" stroke="#333333" stroke-width="1.2" stroke-linejoin="round"/>
<polyline points="366.9,104.7 368.0,103.9 368.6,102.3 369.5,101.4 370.8,100.2" fill="none" stroke="#333333" stroke-width="1.2" stroke-linejoin="round"/>
<polyline points="289.1,113.2 291.3,113.7 293.4,111.5 295.3,109.6 297.4,110.1" fill="none" stroke="#333333" stroke-width="1.2" stroke-linejoin="round"/>
<polyline points="296.0,113.7 297.8,112.3 300.0,111.1 302.1,109.2 304.4,108.5" fill="none" stroke="#333333" stroke-width="1.2" stroke-linejoin="round"/>
<polyline points="279.0,137.5 281.4,134.3 283.7,133.7 285.5,130.3 285.4,132.5 283.4,135.8 281.7,135.6 279.1,139.4 279.0,137.5" fill="none" stroke="#333333" stroke-width="1.2" stroke-linejoin="round"/>
<polyline points="312.4,118.2 312.5,116.4 312.5,116.7 312.8,116.9 313.3,117.6 313.8,116.7 314.4,115.0" fill="none" stroke="#333333" stroke-width="1.2" stroke-linejoin="round"/>
<polyline points="312.0,119.7 312.9,120.4 313.9,118.6 314.5,116.5 315.4,116.5" fill="none" stroke="#333333" stroke-width="1.2" stroke-linejoin="round"/>
<polyline points="359.0,103.6 360.6,103.1 362.9,102.0 365.3,100.5" fill="none" stroke="#333333" stroke-width="1.2" stroke-linejoin="round"/>
<polyline points="299.0,117.4 300.1,116.5 301.5,117.3 302.7,118.1 304.0,117.8 305.7,117.8" fill="none" stroke="#333333" stroke-width="1.2" stroke-linejoin="round"/>
<polyline points="274.7,140.4 276.4,139.9 277.5,139.5 279.0,138.2" fill="none" stroke="#333333" stroke-width="1.2" stroke-linejoin="round"/>
<polyline points="378.9,99.1 380.5,97.7 381.7,96.7 383.3,95.4 384.8,95.9 386.3,97.3" fill="none" stroke="#333333" stroke-width="1.2" stroke-linejoin="round"/>
<polyline points="260.2,136.6 262.0,135.9 263.6,137.0 265.1,136.8 264.6,138.9 263.8,138.8 262.1,137.9 259.9,138.7 260.2,136.6" fill="none" stroke="#333333" stroke-width="1.2" stroke-linejoin="round"/>
<polyline points="365.1,99.9 366.5,98.1 368.2,98.5 369.3,99.0 369.5,100.8 368.0,99.8 366.3,99.9 365.1,101.9 365.1,99.9" fill="none" stroke="#333333" stroke-width="1.2" stroke-linejoin="round"/>
<polyline points="325.1,106.4 326.1,105.2 327.2,105.7 328.0,106.0 328.6,107.5 329.7,108.9 330.1,109.1" fill="none" stroke="#333333" stroke-width="1.2" stroke-linejoin="round"/>
<polyline points="347.8,113.1 349.1,114.3 350.3,113.5 351.9,113.2 353.1,113.0" fill="none" stroke="#333333" stroke-width="1.2" stroke-linejoin="round"/>
<polyline points="257.5,136.7 259.2,138.0 260.6,139.1 262.4,139.1 264.1,137.9 263.6,140.0 262.3,140.9 260.5,141.1 259.4,139.6 257.6,138.1 257.5,136.7" fill="none" stroke="#333333" stroke-width="1.2" stroke-linejoin="round"/>
<polyline points="251.7,142.7 253.0,143.3 254.1,143.1 254.8,144.1 255.6,143.9 255.4,145.6 254.7,145.7 254.0,144.3 253.1,144.8 251.4,144.2 251.7,142.7" fill="none" stroke="#333333" stroke-width="1.2" stroke-linejoin="round"/>
<polyline points="291.1,129.4 291.9,130.0 292.3,128.6 293.4,126.8 293.7,125.3 293.3,127.2 293.2,128.1 292.8,130.0 291.6,131.6 290.8,131.3 291.1,129.4" fill="none" stroke="#333333" stroke-width="1.2" stroke-linejoin="round"/>
<polyline points="379.7,97.4 380.4,95.9 381.3,96.0 382.0,94.4 382.9,94.0" fill="none" stroke="#333333" stroke-width="1.2" stroke-linejoin="round"/>
<polyline points="271.0,134.8 272.2,133.6 273.3,132.2 274.1,130.2 275.2,129.1 276.7,127.0" fill="none" stroke="#333333" stroke-width="1.2" stroke-linejoin="round"/>
<polyline points="362.6,104.8 363.5,106.4 364.7,106.3 365.6,106.3 366.2,106.8 367.3,106.8 368.3,108.1" fill="none" stroke="#333333" stroke-width="1.2" stroke-linejoin="round"/>
<polyline points="331.6,117.6 332.7,116.6 334.0,115.2 335.5,114.6" fill="none" stroke="#333333" stroke-width="1.2" stroke-linejoin="round"/>
<polyline points="286.2,136.8 287.1,137.9 288.0,137.4 288.9,138.7 289.1,140.0 289.7,140.3 290.1,140.2 290.1,141.5 290.0,142.3 288.8,142.0 289.2,140.0 288.1,138.7 287.5,139.2 286.0,138.5 286.2,136.8" fill="none" stroke="#333333" stroke-width="1.2" stroke-linejoin="round"/>
<polyline points="328.4,122.2 329.7,121.0 330.9,121.9 331.6,121.0 332.2,122.0 332.7,123.1 333.9,124.7 334.2,125.9 332.3,125.2 331.8,124.0 332.1,122.7 330.9,124.0 329.9,123.2 328.6,123.9 328.4,122.2" fill="none" stroke="#333333" stroke-width="1.2" stroke-linejoin="round"/>
<polyline points="382.3,96.8 383.6,97.2 384.6,95.5 385.9,94.4 387.1,93.1 387.2,95.2 385.7,95.6 384.6,97.5 383.6,98.5 382.3,98.1 382.3,96.8" fill="none" stroke="#333333" stroke-width="1.2" stroke-linejoin="round"/>
<polyline points="288.6,112.6 289.9,111.7 291.6,113.4 293.2,114.6" fill="none" stroke="#333333" stroke-width="1.2" stroke-linejoin="round"/>
<polyline points="348.5,102.3 350.0,102.2 351.1,102.8 352.5,102.1 353.9,100.9 354.3,102.3 352.3,103.9 351.1,104.1 349.8,104.2 348.2,103.9 348.5,102.3" fill="none" stroke="#333333" stroke-width="1.2" stroke-linejoin="round"/>
<polyline points="298.8,128.5 299.7,128.4 300.5,129.3 301.6,129.1 302.7,130.2 303.2,131.7 301.7,131.0 300.8,130.8 299.8,130.2 299.1,130.4 298.8,128.5" fill="none" stroke="#333333" stroke-width="1.2" stroke-linejoin="round"/>
<polyline points="308.0,121.9 309.9,120.3 312.3,119.9 314.8,117.4 314.6,119.5 312.3,121.5 309.6,122.0 307.9,123.1 308.0,121.9" fill="none" stroke="#333333" stroke-width="1.2" stroke-linejoin="round"/>
<polyline points="300.5,123.3 302.5,124.5 304.8,125.4 307.3,124.6 309.5,124.0" fill="none" stroke="#333333" stroke-width="1.2" stroke-linejoin="round"/>
<polyline points="325.7,109.6 326.6,109.8 327.3,110.2 328.5,110.1 329.7,110.2 330.8,111.1 332.0,111.9" fill="none" stroke="#333333" stroke-width="1.2" stroke-linejoin="round"/>
<polyline points="373.3,103.4 375.9,102.4 378.5,103.4 381.1,102.7 381.1,104.3 378.7,104.7 375.7,103.6 372.9,104.9 373.3,103.4" fill="none" stroke="#333333" stroke-width="1.2" stroke-linejoin="round"/>
<polyline points="339.5,97.0 338.7,98.4 336.5,98.9 333.7,99.5 332.1,97.9 331.4,96.0 334.1,94.9 336.8,94.2 338.4,95.7 339.5,97.0" fill="none" stroke="#333333" stroke-width="1.2" stroke-linejoin="round"/>
<polyline points="349.0,94.0 348.5,95.3 346.9,97.1 344.5,95.6 341.4,95.0 341.3,92.9 344.5,92.4 346.6,91.7 349.5,92.2 349.0,94.0" fill="none" stroke="#333333" stroke-width="1.2" stroke-linejoin="round"/>
<polyline points="360.5,92.0 360.1,94.3 356.7,94.8 353.5,94.9 352.9,92.8 351.5,90.9 354.2,89.9 356.9,88.8 358.9,90.4 360.5,92.0" fill="none" stroke="#333333" stroke-width="1.2" stroke-linejoin="round"/>
<polyline points="369.8,93.0 368.5,94.3 366.7,95.4 364.6,94.5 362.5,93.8 362.9,92.3 364.2,91.1 366.7,90.4 369.4,91.2 369.8,93.0" fill="none" stroke="#333333" stroke-width="1.2" stroke-linejoin="round"/>
<polyline points="379.7,95.0 378.6,96.4 376.7,97.5 373.8,97.4 372.9,95.7 373.1,94.3 373.8,92.6 376.6,92.9 379.4,93.2 379.7,95.0" fill="none" stroke="#333333" stroke-width="1.2" stroke-linejoin="round"/>
<polyline points="352.3,100.0 352.0,101.1 350.6,102.4 348.3,102.0 347.0,100.7 346.5,99.1 348.1,97.8 350.6,97.8 352.7,98.5 352.3,100.0" fill="none" stroke="#333333" stroke-width="1.2" stroke-linejoin="round"/>
<polyline points="374.2,100.0 372.3,101.1 370.7,102.4 367.8,102.1 366.2,100.8 366.0,99.2 368.1,98.1 370.7,97.9 372.0,99.0 374.2,100.0" fill="none" stroke="#333333" stroke-width="1.2" stroke-linejoin="round"/>
<polyline points="388.2,96.0 388.7,97.5 386.6,98.3 384.2,98.0 382.9,96.8 383.6,95.4 384.5,94.2 386.5,94.1 388.7,94.5 388.2,96.0" fill="none" stroke="#333333" stroke-width="1.2" stroke-linejoin="round"/>
<polyline points="332.8,101.0 332.5,102.4 330.6,103.2 328.4,102.8 327.5,101.6 327.0,100.3 328.5,99.2 330.4,99.5 332.0,99.9 332.8,101.0" fill="none" stroke="#333333" stroke-width="1.2" stroke-linejoin="round"/>
<polyline points="533.7,59.5 532.8,60.2 531.7,60.4 530.6,60.0 530.7,59.1 531.6,58.3 532.9,58.7 533.7,59.5" fill="none" stroke="#333333" stroke-width="1.2" stroke-linejoin="round"/>
<polyline points="597.6,37.6 597.0,38.5 594.7,38.4 592.7,38.1 592.4,37.0 594.7,36.6 597.2,36.5 597.6,37.6" fill="none" stroke="#333333" stroke-width="1.2" stroke-linejoin="round"/>
<polyline points="645.2,24.1 644.8,24.8 643.4,25.4 642.2,24.6 642.3,23.7 643.4,22.9 645.1,23.3 645.2,24.1" fill="none" stroke="#333333" stroke-width="1.2" stroke-linejoin="round"/>
<polyline points="521.0,63.8 519.7,64.5 517.2,64.9 515.0,64.2 515.4,63.3 517.5,63.1 519.2,63.2 521.0,63.8" fill="none" stroke="#333333" stroke-width="1.2" stroke-linejoin="round"/>
<polyline points="659.2,20.2 658.4,20.7 657.2,21.0 655.9,20.6 656.2,19.9 657.1,19.3 658.4,19.7 659.2,20.2" fill="none" stroke="#333333" stroke-width="1.2" stroke-linejoin="round"/>
<polyline points="490.4,72.9 489.6,73.9 487.4,73.7 485.2,73.4 485.5,72.4 487.2,71.7 489.4,72.0 490.4,72.9" fill="none" stroke="#333333" stroke-width="1.2" stroke-linejoin="round"/>
<polyline points="440.3,84.8 439.9,85.4 438.8,85.7 437.6,85.2 437.6,84.3 438.8,83.7 439.8,84.2 440.3,84.8" fill="none" stroke="#333333" stroke-width="1.2" stroke-linejoin="round"/>
<polyline points="467.4,77.5 467.0,78.3 465.8,78.7 464.4,78.2 464.8,77.0 465.8,76.4 467.1,76.6 467.4,77.5" fill="none" stroke="#333333" stroke-width="1.2" stroke-linejoin="round"/>
<polyline points="677.9,19.1 676.9,19.9 675.1,20.3 673.4,19.7 673.8,18.7 675.0,17.9 677.2,18.2 677.9,19.1" fill="none" stroke="#333333" stroke-width="1.2" stroke-linejoin="round"/>
<polyline points="656.2,22.6 655.1,23.2 654.1,23.6 652.6,23.2 653.2,22.3 654.1,21.7 655.6,21.7 656.2,22.6" fill="none" stroke="#333333" stroke-width="1.2" stroke-linejoin="round"/>
<polyline points="651.2,23.5 649.6,24.2 647.4,24.5 645.5,23.9 646.0,23.1 647.4,22.4 649.8,22.7 651.2,23.5" fill="none" stroke="#333333" stroke-width="1.2" stroke-linejoin="round"/>
<polyline points="613.0,33.4 612.6,34.7 610.9,35.0 609.4,34.2 610.1,32.9 610.9,31.8 612.3,32.5 613.0,33.4" fill="none" stroke="#333333" stroke-width="1.2" stroke-linejoin="round"/>
<polyline points="611.5,35.2 609.9,35.9 607.9,36.1 606.7,35.5 606.2,34.8 608.1,34.5 609.9,34.5 611.5,35.2" fill="none" stroke="#333333" stroke-width="1.2" stroke-linejoin="round"/>
<polyline points="637.8,25.3 637.5,26.3 635.2,26.5 633.6,25.8 633.6,24.8 635.2,24.1 637.4,24.3 637.8,25.3" fill="none" stroke="#333333" stroke-width="1.2" stroke-linejoin="round"/>
<polyline points="643.3,23.7 643.0,24.4 641.9,24.7 641.2,24.0 641.2,23.3 641.9,22.8 643.2,22.8 643.3,23.7" fill="none" stroke="#333333" stroke-width="1.2" stroke-linejoin="round"/>
<polyline points="501.7,71.0 500.5,71.9 498.6,72.3 497.2,71.5 497.2,70.5 498.6,69.7 501.2,69.7 501.7,71.0" fill="none" stroke="#333333" stroke-width="1.2" stroke-linejoin="round"/>
<polyline points="537.5,60.5 537.2,61.3 535.9,61.6 535.1,60.9 534.7,60.0 535.9,59.3 537.2,59.7 537.5,60.5" fill="none" stroke="#333333" stroke-width="1.2" stroke-linejoin="round"/>
<polyline points="679.8,17.2 679.4,17.9 678.3,17.8 677.4,17.5 677.3,16.9 678.3,16.5 679.6,16.5 679.8,17.2" fill="none" stroke="#333333" stroke-width="1.2" stroke-linejoin="round"/>
<polyline points="572.7,46.8 572.3,47.7 570.6,47.6 569.6,47.1 569.3,46.4 570.6,45.9 572.5,45.8 572.7,46.8" fill="none" stroke="#333333" stroke-width="1.2" stroke-linejoin="round"/>
<polyline points="544.0,57.6 543.5,58.5 542.2,58.8 541.1,58.2 540.9,57.0 542.3,56.5 543.8,56.5 544.0,57.6" fill="none" stroke="#333333" stroke-width="1.2" stroke-linejoin="round"/>
<polyline points="608.5,35.8 608.0,37.0 606.9,36.8 606.2,36.3 605.7,35.2 606.8,34.4 607.7,35.0 608.5,35.8" fill="none" stroke="#333333" stroke-width="1.2" stroke-linejoin="round"/>
<polyline points="628.7,29.4 627.6,30.1 626.0,30.5 624.2,30.0 624.8,28.9 626.1,28.4 627.7,28.6 628.7,29.4" fill="none" stroke="#333333" stroke-width="1.2" stroke-linejoin="round"/>
<polyline points="703.2,13.7 702.5,14.4 701.6,14.9 701.0,14.1 700.9,13.3 701.6,12.5 702.8,12.7 703.2,13.7" fill="none" stroke="#333333" stroke-width="1.2" stroke-linejoin="round"/>
<polyline points="659.1,22.8 658.2,23.7 656.4,23.8 654.7,23.3 654.8,22.2 656.4,21.7 658.7,21.4 659.1,22.8" fill="none" stroke="#333333" stroke-width="1.2" stroke-linejoin="round"/>
<polyline points="655.6,21.5 655.3,22.3 654.2,22.6 653.4,21.9 653.4,21.0 654.3,20.5 655.5,20.5 655.6,21.5" fill="none" stroke="#333333" stroke-width="1.2" stroke-linejoin="round"/>
<polyline points="657.3,22.2 657.3,23.4 655.4,23.3 654.1,22.7 654.0,21.6 655.2,20.6 656.9,21.3 657.3,22.2" fill="none" stroke="#333333" stroke-width="1.2" stroke-linejoin="round"/>
<polyline points="711.7,10.9 710.8,11.6 709.0,11.8 708.0,11.2 707.8,10.6 708.9,9.8 710.6,10.3 711.7,10.9" fill="none" stroke="#333333" stroke-width="1.2" stroke-linejoin="round"/>
<polyline points="710.2,11.1 710.1,12.1 708.3,12.2 706.4,11.7 706.4,10.5 708.4,10.3 710.1,10.2 710.2,11.1" fill="none" stroke="#333333" stroke-width="1.2" stroke-linejoin="round"/>
<polyline points="451.0,84.3 450.7,85.2 449.6,85.2 448.5,84.9 448.8,83.8 449.6,83.3 450.8,83.2 451.0,84.3" fill="none" stroke="#333333" stroke-width="1.2" stroke-linejoin="round"/>
<polyline points="635.6,26.4 634.6,27.2 632.4,27.3 630.2,26.9 630.6,25.9 632.5,25.6 634.5,25.6 635.6,26.4" fill="none" stroke="#333333" stroke-width="1.2" stroke-linejoin="round"/>
<polyline points="538.6,58.9 537.9,59.6 536.9,59.7 535.8,59.4 536.3,58.6 536.9,58.2 537.7,58.4 538.6,58.9" fill="none" stroke="#333333" stroke-width="1.2" stroke-linejoin="round"/>
<polyline points="426.5,88.9 426.1,90.1 424.8,90.1 423.5,89.6 424.0,88.3 424.8,87.5 425.9,87.9 426.5,88.9" fill="none" stroke="#333333" stroke-width="1.2" stroke-linejoin="round"/>
<polyline points="490.9,72.8 490.4,73.5 487.9,73.7 486.4,73.1 486.4,72.5 488.1,72.1 490.2,72.2 490.9,72.8" fill="none" stroke="#333333" stroke-width="1.2" stroke-linejoin="round"/>
<polyline points="647.0,22.5 646.5,23.3 645.3,23.2 644.6,22.8 644.5,22.1 645.2,21.6 646.5,21.6 647.0,22.5" fill="none" stroke="#333333" stroke-width="1.2" stroke-linejoin="round"/>
<polyline points="524.8,63.3 523.0,64.2 521.0,64.8 519.0,64.0 519.7,62.7 521.2,62.1 523.6,61.9 524.8,63.3" fill="none" stroke="#333333" stroke-width="1.2" stroke-linejoin="round"/>
<polyline points="510.6,66.3 510.0,67.2 507.9,67.5 506.8,66.7 505.9,65.6 508.0,65.3 509.9,65.3 510.6,66.3" fill="none" stroke="#333333" stroke-width="1.2" stroke-linejoin="round"/>
<polyline points="497.7,72.0 497.3,73.3 494.7,73.2 492.3,72.8 492.8,71.4 494.7,70.7 497.2,70.8 497.7,72.0" fill="none" stroke="#333333" stroke-width="1.2" stroke-linejoin="round"/>
<polyline points="497.8,71.7 497.3,72.9 496.2,73.6 495.7,72.2 495.7,71.3 496.2,70.2 497.4,70.5 497.8,71.7" fill="none" stroke="#333333" stroke-width="1.2" stroke-linejoin="round"/>
<polyline points="469.7,79.4 469.7,80.6 467.7,80.5 465.9,80.0 465.6,78.8 467.7,78.6 469.4,78.5 469.7,79.4" fill="none" stroke="#333333" stroke-width="1.2" stroke-linejoin="round"/>
<polyline points="499.8,71.9 498.3,73.0 496.2,72.9 494.0,72.6 494.1,71.2 496.1,70.7 497.8,71.1 499.8,71.9" fill="none" stroke="#333333" stroke-width="1.2" stroke-linejoin="round"/>
<polyline points="571.3,56.1 570.3,56.7 568.3,57.1 566.1,56.6 566.9,55.8 568.4,55.3 571.0,55.3 571.3,56.1" fill="none" stroke="#333333" stroke-width="1.2" stroke-linejoin="round"/>
<polyline points="478.0,86.8 477.2,87.6 475.1,87.9 473.6,87.2 474.0,86.5 475.2,85.9 476.9,86.2 478.0,86.8" fill="none" stroke="#333333" stroke-width="1.2" stroke-linejoin="round"/>
<polyline points="596.8,50.0 596.2,51.0 595.1,51.1 594.0,50.6 594.2,49.5 595.0,48.6 595.9,49.3 596.8,50.0" fill="none" stroke="#333333" stroke-width="1.2" stroke-linejoin="round"/>
<polyline points="550.0,62.9 549.1,63.9 548.0,64.0 546.8,63.6 546.8,62.1 548.0,61.7 549.2,61.6 550.0,62.9" fill="none" stroke="#333333" stroke-width="1.2" stroke-linejoin="round"/>
<polyline points="437.9,94.1 437.6,95.1 436.7,95.2 435.7,94.8 435.9,93.6 436.6,92.7 437.6,93.1 437.9,94.1" fill="none" stroke="#333333" stroke-width="1.2" stroke-linejoin="round"/>
<polyline points="426.2,98.2 424.9,99.6 422.3,100.0 420.5,98.9 420.5,97.5 422.3,96.6 425.0,96.7 426.2,98.2" fill="none" stroke="#333333" stroke-width="1.2" stroke-linejoin="round"/>
<polyline points="580.1,54.3 580.0,55.3 577.8,55.3 576.6,54.7 576.7,53.9 577.8,53.1 580.3,53.1 580.1,54.3" fill="none" stroke="#333333" stroke-width="1.2" stroke-linejoin="round"/>
<polyline points="663.7,34.3 663.1,35.6 661.5,35.6 660.2,35.0 660.5,33.7 661.6,33.0 662.7,33.3 663.7,34.3" fill="none" stroke="#333333" stroke-width="1.2" stroke-linejoin="round"/>
<polyline points="440.3,94.7 439.6,95.7 437.2,96.1 436.0,95.1 435.1,94.0 437.2,93.2 439.4,93.8 440.3,94.7" fill="none" stroke="#333333" stroke-width="1.2" stroke-linejoin="round"/>
<polyline points="617.2,46.5 616.5,47.2 615.2,47.6 614.3,46.9 613.7,46.0 615.3,45.6 616.5,45.9 617.2,46.5" fill="none" stroke="#333333" stroke-width="1.2" stroke-linejoin="round"/>
<polyline points="709.5,24.3 708.5,25.5 705.8,25.6 704.0,24.9 704.5,23.8 705.9,23.1 708.2,23.2 709.5,24.3" fill="none" stroke="#333333" stroke-width="1.2" stroke-linejoin="round"/>
<polyline points="544.2,66.3 542.4,67.0 540.5,67.4 538.9,66.7 539.2,65.9 540.5,65.1 543.1,65.2 544.2,66.3" fill="none" stroke="#333333" stroke-width="1.2" stroke-linejoin="round"/>
<polyline points="657.2,35.5 656.3,36.9 654.6,36.8 653.2,36.2 653.0,34.6 654.7,34.3 656.3,34.0 657.2,35.5" fill="none" stroke="#333333" stroke-width="1.2" stroke-linejoin="round"/>
<polyline points="693.7,28.7 693.0,29.9 691.1,29.8 690.1,29.1 689.9,28.2 690.9,27.0 692.8,27.7 693.7,28.7" fill="none" stroke="#333333" stroke-width="1.2" stroke-linejoin="round"/>
<polyline points="705.2,27.5 704.5,28.4 702.5,28.6 701.7,27.8 701.7,27.2 702.7,26.8 704.1,26.8 705.2,27.5" fill="none" stroke="#333333" stroke-width="1.2" stroke-linejoin="round"/>
<polyline points="524.3,73.1 524.0,74.1 521.6,74.2 520.6,73.4 520.2,72.7 521.5,72.0 523.7,72.3 524.3,73.1" fill="none" stroke="#333333" stroke-width="1.2" stroke-linejoin="round"/>
<polyline points="537.0,68.9 536.1,69.7 535.0,69.8 533.6,69.5 533.7,68.4 535.0,68.1 535.9,68.4 537.0,68.9" fill="none" stroke="#333333" stroke-width="1.2" stroke-linejoin="round"/>
<polyline points="706.5,26.5 705.7,27.8 704.4,27.5 703.2,27.1 703.4,25.9 704.3,25.2 705.5,25.4 706.5,26.5" fill="none" stroke="#333333" stroke-width="1.2" stroke-linejoin="round"/>
<polyline points="678.4,31.6 677.8,32.2 676.7,32.6 675.7,32.0 675.6,31.2 676.8,30.9 678.0,30.9 678.4,31.6" fill="none" stroke="#333333" stroke-width="1.2" stroke-linejoin="round"/>
<polyline points="427.4,98.1 425.7,98.6 424.2,98.7 422.4,98.5 422.0,97.6 424.0,97.0 426.0,97.3 427.4,98.1" fill="none" stroke="#333333" stroke-width="1.2" stroke-linejoin="round"/>
<polyline points="476.4,84.2 476.3,85.4 474.8,85.2 473.9,84.6 473.8,83.6 474.7,82.6 476.0,83.3 476.4,84.2" fill="none" stroke="#333333" stroke-width="1.2" stroke-linejoin="round"/>
<polyline points="631.3,41.2 630.0,41.9 628.5,42.1 626.7,41.7 627.0,40.7 628.3,40.0 630.0,40.5 631.3,41.2" fill="none" stroke="#333333" stroke-width="1.2" stroke-linejoin="round"/>
<polyline points="543.4,65.9 543.0,66.9 540.6,67.3 539.3,66.3 538.9,65.4 540.7,64.7 542.6,65.1 543.4,65.9" fill="none" stroke="#333333" stroke-width="1.2" stroke-linejoin="round"/>
<polyline points="559.5,61.3 558.4,62.3 556.6,62.8 554.9,62.0 555.4,60.8 556.8,60.3 558.4,60.3 559.5,61.3" fill="none" stroke="#333333" stroke-width="1.2" stroke-linejoin="round"/>
<polyline points="679.9,31.1 679.0,31.7 678.0,32.2 677.3,31.5 677.2,30.7 678.1,30.1 679.3,30.2 679.9,31.1" fill="none" stroke="#333333" stroke-width="1.2" stroke-linejoin="round"/>
<polyline points="590.1,50.4 589.3,51.4 587.0,52.1 584.8,51.1 585.0,49.7 587.4,49.4 589.2,49.5 590.1,50.4" fill="none" stroke="#333333" stroke-width="1.2" stroke-linejoin="round"/>
<polyline points="473.6,86.2 473.3,87.3 472.2,87.2 471.1,86.8 471.5,85.8 472.2,85.4 473.1,85.4 473.6,86.2" fill="none" stroke="#333333" stroke-width="1.2" stroke-linejoin="round"/>
<polyline points="701.6,28.3 700.4,29.2 697.9,29.1 695.6,28.8 696.2,27.9 697.9,27.5 700.2,27.5 701.6,28.3" fill="none" stroke="#333333" stroke-width="1.2" stroke-linejoin="round"/>
<polyline points="502.7,79.1 502.5,79.7 500.7,79.7 499.6,79.4 498.6,78.7 500.5,78.1 502.6,78.4 502.7,79.1" fill="none" stroke="#333333" stroke-width="1.2" stroke-linejoin="round"/>
<polyline points="619.5,46.0 619.0,46.7 618.2,46.9 617.4,46.4 617.2,45.4 618.1,44.7 619.3,44.9 619.5,46.0" fill="none" stroke="#333333" stroke-width="1.2" stroke-linejoin="round"/>
<polyline points="593.8,49.6 592.9,50.5 591.8,51.0 590.4,50.3 590.5,48.9 591.8,48.4 593.1,48.5 593.8,49.6" fill="none" stroke="#333333" stroke-width="1.2" stroke-linejoin="round"/>
<polyline points="479.6,84.3 478.2,85.2 476.0,85.7 475.1,84.7 474.7,83.8 476.2,83.3 478.0,83.5 479.6,84.3" fill="none" stroke="#333333" stroke-width="1.2" stroke-linejoin="round"/>
<polyline points="465.5,89.5 465.0,90.4 463.7,90.5 461.6,90.3 462.2,88.9 463.6,88.4 465.1,88.5 465.5,89.5" fill="none" stroke="#333333" stroke-width="1.2" stroke-linejoin="round"/>
<polyline points="489.7,81.5 488.9,82.1 487.8,82.5 486.6,82.0 487.0,81.2 487.8,80.5 489.2,80.7 489.7,81.5" fill="none" stroke="#333333" stroke-width="1.2" stroke-linejoin="round"/>
<polyline points="528.6,70.1 527.2,71.1 525.7,71.5 524.2,70.8 524.4,69.5 525.5,68.2 527.7,68.6 528.6,70.1" fill="none" stroke="#333333" stroke-width="1.2" stroke-linejoin="round"/>
<polyline points="480.9,85.4 480.0,86.7 478.0,86.9 477.0,85.8 476.6,84.8 478.0,83.9 479.5,84.5 480.9,85.4" fill="none" stroke="#333333" stroke-width="1.2" stroke-linejoin="round"/>
<polyline points="493.0,82.1 492.7,82.6 492.0,82.7 491.3,82.4 490.9,81.7 491.8,81.1 493.0,81.3 493.0,82.1" fill="none" stroke="#333333" stroke-width="1.2" stroke-linejoin="round"/>
<polyline points="646.8,37.9 646.2,38.4 644.9,38.6 643.4,38.3 643.9,37.5 644.9,37.0 646.5,37.2 646.8,37.9" fill="none" stroke="#333333" stroke-width="1.2" stroke-linejoin="round"/>
<polyline points="424.2,97.9 423.9,98.9 422.5,99.1 421.9,98.3 421.3,97.3 422.6,96.8 423.7,97.2 424.2,97.9" fill="none" stroke="#333333" stroke-width="1.2" stroke-linejoin="round"/>
<polyline points="557.0,60.6 556.5,61.3 554.7,61.3 552.5,61.1 552.6,60.1 554.7,59.9 556.4,59.9 557.0,60.6" fill="none" stroke="#333333" stroke-width="1.2" stroke-linejoin="round"/>
<polyline points="478.3,124.1 479.4,124.0 480.9,122.8 482.7,122.1 483.7,122.7 485.6,122.0 486.5,121.4 488.2,119.3 489.6,118.8 490.4,118.1 492.5,117.3 493.3,116.5 495.4,116.6 496.7,115.8 497.7,115.0 499.6,113.7 501.2,112.6 502.0,111.9 503.8,111.2 504.9,110.7 507.0,108.9 508.7,109.8 509.5,107.8 510.9,106.8 512.3,106.1 514.4,105.6 515.7,105.1 517.0,104.0" fill="none" stroke="#333333" stroke-width="1.1" stroke-linejoin="round"/>
<polyline points="479.8,128.3 482.0,127.6 483.2,126.3 484.9,125.3 486.5,125.0 487.2,125.3 489.4,123.2 490.6,123.4 492.4,122.5 494.0,121.7 495.1,121.3 496.5,119.3 498.5,119.0 499.7,117.4 501.1,116.0 502.6,115.6 503.4,115.3 504.9,113.8 506.6,113.2 507.9,113.3 509.6,112.2 510.5,111.0 512.0,110.2 513.7,109.2 515.0,108.0" fill="none" stroke="#333333" stroke-width="1.1" stroke-linejoin="round"/>
<line x1="136.1" y1="195.2" x2="288" y2="109.2" stroke="#d0201c" stroke-width="2.1"/>
<line x1="136.5" y1="197.5" x2="746.5" y2="14.7" stroke="#7a1410" stroke-width="2.8"/>
<line x1="136.5" y1="197.5" x2="746.5" y2="14.7" stroke="#c42a22" stroke-width="1.0"/>
<circle cx="337.9" cy="81.9" r="5.9" fill="#4ba4a7" fill-opacity="0.93"/>
<circle cx="237.4" cy="138.6" r="5.9" fill="#4ba4a7" fill-opacity="0.93"/>
<circle cx="252.8" cy="160.9" r="5.9" fill="#4ba4a7" fill-opacity="0.93"/>
<circle cx="194.8" cy="177.3" r="5.9" fill="#4ba4a7" fill-opacity="0.93"/>
<circle cx="187.6" cy="169.9" r="5.9" fill="#4ba4a7" fill-opacity="0.6"/>
<circle cx="156.5" cy="183" r="5.9" fill="#4ba4a7" fill-opacity="0.6"/>
<circle cx="369.7" cy="126.9" r="5.9" fill="#4ba4a7" fill-opacity="0.93"/>
<circle cx="427.7" cy="109.3" r="5.9" fill="#4ba4a7" fill-opacity="0.93"/>
<circle cx="603.5" cy="57.6" r="5.9" fill="#4ba4a7" fill-opacity="0.93"/>
<circle cx="719.3" cy="22.9" r="5.9" fill="#4ba4a7" fill-opacity="0.93"/>
<polyline points="140.3,189.2 141.2,188.4 143.2,188.0 144.7,186.9 145.8,186.0 146.7,185.4 148.7,184.7 149.7,183.6 151.0,183.0 153.2,182.3 153.9,181.0 156.0,180.6 156.9,179.7 158.4,179.0 160.2,178.3 161.5,177.5 163.1,176.3 164.2,175.6 165.7,174.7 166.9,173.9 168.1,173.3 170.0,172.5 171.5,171.8 172.8,171.0 174.5,169.8 176.2,168.8 177.1,168.5 178.1,167.6 180.1,166.9 181.1,165.9 183.0,165.0 184.7,164.2 185.8,163.3 187.2,162.4 188.5,161.9 189.9,161.2 190.9,160.0 192.6,159.4 193.9,158.8 195.6,157.7 196.9,157.2 198.8,156.3 199.4,155.1 201.6,154.9 202.7,153.9 204.5,153.0 205.5,152.6 207.3,151.5 208.0,150.5 209.6,149.8 210.9,149.0 212.4,148.1 214.2,147.5 214.9,146.6 216.9,145.9 218.0,145.1 219.3,144.1 221.1,143.2 222.9,142.8 224.4,142.0 225.3,141.1 226.6,140.4 228.5,139.4 229.2,138.8 230.8,138.0 232.7,136.9 234.1,136.5 234.8,135.3 236.8,134.7 238.0,133.9" fill="none" stroke="#1a1a1a" stroke-width="1.0" stroke-linejoin="round"/>
<polyline points="139.6,196.0 141.1,195.6 142.4,194.6 144.3,193.7 145.6,192.6 147.4,192.3 148.8,191.5 150.3,190.2 151.0,189.6 153.3,188.9 154.5,188.2 155.6,187.1 157.0,186.8 158.2,185.5 159.6,184.8 161.5,183.9 163.0,183.2 164.3,182.5 166.1,181.5 166.8,180.9 169.0,180.0 170.0,179.1 171.8,178.3 173.2,177.6 174.4,176.7 175.9,176.0 177.2,175.1 178.6,175.0 180.1,173.5 181.0,172.7 183.2,171.8 184.0,171.3 185.8,170.3 187.1,169.3 188.3,168.6 190.3,167.8 191.8,167.3 192.7,166.3 194.0,165.5 195.2,164.8 196.7,164.0 198.9,163.1 199.7,162.4 201.5,161.4 203.2,160.8 204.3,160.1 205.0,159.3 206.7,158.3 208.2,157.2 209.5,156.6 211.5,155.9 213.0,155.4 213.6,154.3 215.0,153.5 216.9,152.4 218.4,151.7 219.3,150.7 221.4,150.2 222.7,149.5 224.0,148.9 224.9,147.8 226.6,147.2 228.4,146.3 230.0,145.7 231.0,144.4 232.6,143.9 233.8,143.0 235.6,142.5 236.5,141.5 238.0,140.7" fill="none" stroke="#1a1a1a" stroke-width="1.0" stroke-linejoin="round"/>
<polyline points="133.0,186.6 131.6,188.1 130.2,189.9 128.8,192.2 128.2,192.5 127.4,192.9 127.0,196.4 126.7,198.5 128.2,199.6 129.1,199.8 130.9,201.4 132.1,203.2 133.6,203.2 134.9,203.1 137.0,204.5 138.2,203.9 139.6,203.7 141.2,203.6 143.2,201.5 144.0,199.9 146.0,200.0" fill="none" stroke="#333333" stroke-width="1.1" stroke-linejoin="round"/>
<polyline points="130.0,189.6 129.0,190.9 127.9,192.8 126.7,194.1 124.8,194.9 123.7,195.7 124.8,198.0 125.2,198.8 125.1,200.4 126.0,202.9 125.6,204.3 127.7,203.8 128.8,205.2 130.7,206.4 132.4,207.7 133.6,207.3 135.5,207.5 137.4,207.2 139.1,206.2 140.4,206.8 142.8,205.6 144.0,206.3 145.9,205.1 147.0,205.1 148.3,204.3 150.0,203.0" fill="none" stroke="#333333" stroke-width="1.0" stroke-linejoin="round"/>
<polyline points="129.5,203.1 128.5,204.0 127.5,204.4 125.4,205.6 124.5,206.8 123.0,208.1 121.9,208.6 119.7,209.3 118.6,211.2 117.1,212.0 115.9,213.3 115.0,213.9 113.3,214.2 112.2,214.7 110.0,216.2 109.0,217.0" fill="none" stroke="#333333" stroke-width="1.0" stroke-linejoin="round"/>
<polyline points="141.8,205.1 143.8,205.0 145.7,206.3 146.7,205.7 148.4,206.3 149.6,206.3 151.8,207.5 153.6,207.7 154.7,206.4 156.9,206.8 158.0,207.0" fill="none" stroke="#333333" stroke-width="1.0" stroke-linejoin="round"/>
<polyline points="127.7,186.3 126.5,187.1 125.2,188.0 124.7,190.7 122.8,191.3 122.0,192.7 121.3,195.4 121.1,196.3 121.7,198.7 120.8,200.7 121.2,202.5 122.4,203.3 122.8,204.5 124.2,206.1 125.1,207.6 125.9,209.0 124.8,210.1 123.9,211.0 121.9,212.6 120.6,213.5 119.6,212.7 118.0,211.0" fill="none" stroke="#333333" stroke-width="1.0" stroke-linejoin="round"/>
<polyline points="134.6,183.6 136.4,185.1 138.2,185.1 140.1,185.3 142.1,186.7 143.4,186.6 145.0,187.7 146.7,189.0 148.0,190.0" fill="none" stroke="#333333" stroke-width="1.0" stroke-linejoin="round"/>
<polyline points="125.5,209.9 127.8,210.6 129.8,211.4 131.9,211.7 133.6,212.2 134.9,211.4 136.4,211.7 138.4,210.2 139.7,209.5 142.0,209.7 143.2,209.5 145.6,209.2 147.0,208.0" fill="none" stroke="#333333" stroke-width="1.0" stroke-linejoin="round"/>
<circle cx="136.5" cy="196" r="2.6" fill="#d8231d"/>
<circle cx="136.5" cy="196" r="4.4" fill="none" stroke="#111" stroke-width="1.6"/>
<circle cx="108.8" cy="12.5" r="1.84" fill="#2e2e2e"/>
<circle cx="82" cy="19.5" r="0.92" fill="#2e2e2e"/>
<circle cx="118" cy="47.5" r="1.03" fill="#2e2e2e"/>
<circle cx="91.3" cy="133.7" r="1.15" fill="#2e2e2e"/>
<circle cx="178.2" cy="133.6" r="1.95" fill="#2e2e2e"/>
<circle cx="145" cy="136.6" r="0.80" fill="#2e2e2e"/>
<circle cx="313.8" cy="18.8" r="1.15" fill="#2e2e2e"/>
<circle cx="305" cy="40" r="1.15" fill="#2e2e2e"/>
<circle cx="295" cy="70" r="1.15" fill="#2e2e2e"/>
<circle cx="297" cy="73" r="1.15" fill="#2e2e2e"/>
<circle cx="300" cy="68.8" r="1.15" fill="#2e2e2e"/>
<circle cx="290.8" cy="81.8" r="1.15" fill="#2e2e2e"/>
<circle cx="195" cy="86.5" r="1.49" fill="#2e2e2e"/>
<circle cx="206.2" cy="99" r="1.15" fill="#2e2e2e"/>
<circle cx="337.5" cy="23.8" r="1.15" fill="#2e2e2e"/>
<circle cx="345" cy="47.5" r="1.49" fill="#2e2e2e"/>
<circle cx="357" cy="49.5" r="1.84" fill="#2e2e2e"/>
<circle cx="370.5" cy="40" r="1.15" fill="#2e2e2e"/>
<circle cx="340" cy="80" r="1.15" fill="#2e2e2e"/>
<circle cx="343" cy="85" r="1.03" fill="#2e2e2e"/>
<circle cx="111.3" cy="147.5" r="1.49" fill="#2e2e2e"/>
<circle cx="84.5" cy="163.8" r="0.92" fill="#2e2e2e"/>
<circle cx="108.8" cy="218" r="1.38" fill="#2e2e2e"/>
<circle cx="112.5" cy="216.3" r="1.38" fill="#2e2e2e"/>
<circle cx="116.3" cy="214.3" r="1.38" fill="#2e2e2e"/>
<circle cx="120" cy="212.5" r="1.38" fill="#2e2e2e"/>
<circle cx="130" cy="216.3" r="0.92" fill="#2e2e2e"/>
<circle cx="163.8" cy="229.5" r="1.15" fill="#2e2e2e"/>
<circle cx="164.5" cy="233" r="1.15" fill="#2e2e2e"/>
<circle cx="180" cy="235" r="1.15" fill="#2e2e2e"/>
<circle cx="143" cy="235.8" r="0.80" fill="#2e2e2e"/>
<circle cx="225" cy="211" r="1.49" fill="#2e2e2e"/>
<circle cx="229" cy="214" r="1.49" fill="#2e2e2e"/>
<circle cx="234" cy="212" r="1.26" fill="#2e2e2e"/>
<circle cx="239" cy="208" r="1.15" fill="#2e2e2e"/>
<circle cx="237" cy="232.4" r="1.38" fill="#2e2e2e"/>
<circle cx="265" cy="224.3" r="0.92" fill="#2e2e2e"/>
<circle cx="295" cy="213.6" r="1.95" fill="#2e2e2e"/>
<circle cx="307" cy="219.4" r="1.15" fill="#2e2e2e"/>
<circle cx="327.5" cy="206.4" r="1.15" fill="#2e2e2e"/>
<circle cx="318" cy="235.4" r="1.84" fill="#2e2e2e"/>
<circle cx="343.5" cy="183.8" r="1.15" fill="#2e2e2e"/>
<circle cx="351.3" cy="180.9" r="1.15" fill="#2e2e2e"/>
<circle cx="356" cy="188" r="1.38" fill="#2e2e2e"/>
<circle cx="359" cy="191" r="1.38" fill="#2e2e2e"/>
<circle cx="368" cy="186" r="1.15" fill="#2e2e2e"/>
<circle cx="379.7" cy="180.3" r="1.15" fill="#2e2e2e"/>
<circle cx="365" cy="215" r="1.38" fill="#2e2e2e"/>
<circle cx="372" cy="210" r="1.38" fill="#2e2e2e"/>
<circle cx="378" cy="205" r="1.15" fill="#2e2e2e"/>
<circle cx="384" cy="200" r="1.38" fill="#2e2e2e"/>
<circle cx="389.9" cy="199.1" r="1.15" fill="#2e2e2e"/>
<circle cx="408.7" cy="210.7" r="1.15" fill="#2e2e2e"/>
<circle cx="401" cy="164" r="1.38" fill="#2e2e2e"/>
<circle cx="404" cy="163" r="1.15" fill="#2e2e2e"/>
<circle cx="398" cy="165" r="1.15" fill="#2e2e2e"/>
<circle cx="410" cy="160.5" r="2.07" fill="#2e2e2e"/>
<circle cx="415" cy="171" r="1.49" fill="#2e2e2e"/>
<circle cx="413.8" cy="185" r="1.38" fill="#2e2e2e"/>
<circle cx="430" cy="191" r="2.42" fill="#2e2e2e"/>
<circle cx="443.8" cy="188.8" r="2.18" fill="#2e2e2e"/>
<circle cx="446.5" cy="190" r="1.15" fill="#2e2e2e"/>
<circle cx="450" cy="191" r="1.15" fill="#2e2e2e"/>
<circle cx="454" cy="191.5" r="1.15" fill="#2e2e2e"/>
<circle cx="458" cy="191.5" r="1.15" fill="#2e2e2e"/>
<circle cx="460" cy="184.5" r="1.49" fill="#2e2e2e"/>
<circle cx="382.5" cy="181" r="1.15" fill="#2e2e2e"/>
<circle cx="391" cy="200" r="1.15" fill="#2e2e2e"/>
<circle cx="386" cy="207.5" r="1.15" fill="#2e2e2e"/>
<circle cx="392" cy="213" r="1.15" fill="#2e2e2e"/>
<circle cx="496" cy="189" r="0.92" fill="#2e2e2e"/>
<circle cx="487.9" cy="38.9" r="1.15" fill="#2e2e2e"/>
<circle cx="423" cy="74" r="1.15" fill="#2e2e2e"/>
<circle cx="588.4" cy="76.6" r="1.72" fill="#2e2e2e"/>
<circle cx="538.4" cy="94.5" r="1.72" fill="#2e2e2e"/>
<circle cx="555.5" cy="85" r="1.15" fill="#2e2e2e"/>
<circle cx="583" cy="112.6" r="1.72" fill="#2e2e2e"/>
<circle cx="592.4" cy="105.5" r="1.15" fill="#2e2e2e"/>
<circle cx="456.8" cy="131.8" r="1.15" fill="#2e2e2e"/>
<circle cx="471.3" cy="132.6" r="0.92" fill="#2e2e2e"/>
<circle cx="484" cy="128" r="1.15" fill="#2e2e2e"/>
<circle cx="614.7" cy="93.7" r="1.15" fill="#2e2e2e"/>
<circle cx="584.7" cy="186.8" r="1.72" fill="#2e2e2e"/>
<circle cx="593.6" cy="187.3" r="1.72" fill="#2e2e2e"/>
<circle cx="645.3" cy="81" r="1.38" fill="#2e2e2e"/>
<circle cx="648.8" cy="80.6" r="1.38" fill="#2e2e2e"/>
<circle cx="615.9" cy="93.2" r="1.38" fill="#2e2e2e"/>
<circle cx="619.5" cy="92.5" r="1.38" fill="#2e2e2e"/>
<circle cx="714.2" cy="99.5" r="1.15" fill="#2e2e2e"/>
<circle cx="744.2" cy="169.5" r="1.03" fill="#2e2e2e"/>
<circle cx="740.8" cy="214.3" r="1.15" fill="#2e2e2e"/>
<circle cx="584.3" cy="230" r="1.15" fill="#2e2e2e"/>
<circle cx="703.8" cy="229.3" r="0.92" fill="#2e2e2e"/>
<circle cx="717.5" cy="232" r="1.15" fill="#2e2e2e"/>
<polyline points="442.5,180.5 441.4,181.7 440.0,182.2 438.2,182.1 438.3,180.5 438.5,179.1 440.0,178.5 441.6,179.0 442.5,180.5" fill="none" stroke="#333333" stroke-width="1.2" stroke-linejoin="round"/>
<polyline points="304.9,226.7 304.2,227.8 303.0,228.6 302.1,227.5 300.8,226.7 302.0,225.8 303.0,224.9 304.2,225.6 304.9,226.7" fill="none" stroke="#333333" stroke-width="1.2" stroke-linejoin="round"/>
<polyline points="451.0,68.7 450.6,69.9 449.0,70.2 447.0,70.3 446.5,68.7 447.6,67.6 449.0,67.1 450.3,67.6 451.0,68.7" fill="none" stroke="#333333" stroke-width="1.2" stroke-linejoin="round"/>
<polyline points="405.3,205.0 404.4,206.6 402.5,207.6 401.0,206.3 399.2,205.0 400.0,202.9 402.5,202.3 404.7,203.1 405.3,205.0" fill="none" stroke="#333333" stroke-width="1.2" stroke-linejoin="round"/>
<polyline points="405.5,201.0 405.3,202.2 404.0,202.3 402.4,202.4 402.0,201.0 402.9,200.0 404.0,199.3 405.6,199.6 405.5,201.0" fill="none" stroke="#333333" stroke-width="1.2" stroke-linejoin="round"/>
<polyline points="396.9,172.0 397.1,173.4 395.0,173.2 392.9,173.3 391.9,172.0 393.0,170.7 395.0,170.0 396.8,170.9 396.9,172.0" fill="none" stroke="#333333" stroke-width="1.2" stroke-linejoin="round"/>
<polyline points="401.9,170.0 401.6,171.2 400.0,171.7 398.7,171.0 397.6,170.0 399.0,169.2 400.0,168.5 401.0,169.2 401.9,170.0" fill="none" stroke="#333333" stroke-width="1.2" stroke-linejoin="round"/>
<polyline points="437.7,188.0 435.6,189.2 434.0,190.7 431.5,189.9 430.8,188.0 432.4,186.9 434.0,185.9 436.3,186.3 437.7,188.0" fill="none" stroke="#333333" stroke-width="1.2" stroke-linejoin="round"/>
<polyline points="438.7,192.0 438.1,192.8 437.0,193.7 435.3,193.3 434.6,192.0 435.4,190.8 437.0,190.5 438.0,191.2 438.7,192.0" fill="none" stroke="#333333" stroke-width="1.2" stroke-linejoin="round"/>
<polyline points="178.8,228.0 178.0,229.3 176.0,229.1 174.8,228.8 174.1,228.0 173.9,226.6 176.0,226.8 177.6,227.0 178.8,228.0" fill="none" stroke="#333333" stroke-width="1.2" stroke-linejoin="round"/>
<polyline points="292.1,52.5 290.1,53.2 288.5,53.5 286.1,53.5 286.3,52.5 286.8,51.8 288.5,51.6 291.1,51.5 292.1,52.5" fill="none" stroke="#333333" stroke-width="1.2" stroke-linejoin="round"/>
<polyline points="368.0,16.0 367.3,16.8 366.0,17.5 364.5,16.9 363.9,16.0 364.6,15.2 366.0,15.0 367.6,15.0 368.0,16.0" fill="none" stroke="#333333" stroke-width="1.2" stroke-linejoin="round"/>
<polyline points="406.1,172.0 405.2,172.9 404.0,173.3 402.7,173.0 402.4,172.0 402.5,170.9 404.0,170.9 405.0,171.2 406.1,172.0" fill="none" stroke="#333333" stroke-width="1.2" stroke-linejoin="round"/>
<polyline points="324.5,228.0 324.7,229.3 323.0,229.6 321.5,229.2 320.7,228.0 321.9,227.1 323.0,226.0 324.3,227.0 324.5,228.0" fill="none" stroke="#333333" stroke-width="1.2" stroke-linejoin="round"/>
<polyline points="379.6,215.3 379.3,216.4 377.9,217.0 376.9,216.2 375.8,215.3 376.7,214.3 377.9,214.0 379.4,214.1 379.6,215.3" fill="none" stroke="#333333" stroke-width="1.2" stroke-linejoin="round"/>
<polyline points="383.8,202.6 382.9,203.5 382.0,204.4 380.8,203.8 380.1,202.6 380.8,201.4 382.0,200.7 383.0,201.6 383.8,202.6" fill="none" stroke="#333333" stroke-width="1.2" stroke-linejoin="round"/>
<polyline points="351.1,229.0 350.2,229.8 349.1,230.4 347.8,229.9 347.2,229.0 348.0,228.2 349.1,228.1 350.4,228.1 351.1,229.0" fill="none" stroke="#333333" stroke-width="1.2" stroke-linejoin="round"/>
<polyline points="329.1,234.1 328.7,235.4 328.0,236.0 327.4,235.0 327.2,234.1 327.1,232.8 328.0,232.4 328.8,232.9 329.1,234.1" fill="none" stroke="#333333" stroke-width="1.2" stroke-linejoin="round"/>
<polyline points="325.9,231.2 325.3,231.9 323.5,232.3 322.3,231.7 321.0,231.2 322.3,230.7 323.5,230.3 325.3,230.5 325.9,231.2" fill="none" stroke="#333333" stroke-width="1.2" stroke-linejoin="round"/>
<polyline points="313.9,236.6 313.4,237.6 312.4,237.5 311.8,237.2 311.5,236.6 311.4,235.6 312.4,235.7 313.3,235.6 313.9,236.6" fill="none" stroke="#333333" stroke-width="1.2" stroke-linejoin="round"/>
<polyline points="352.8,231.2 352.3,232.4 350.9,232.4 349.5,232.3 348.5,231.2 349.7,230.1 350.9,229.4 351.9,230.2 352.8,231.2" fill="none" stroke="#333333" stroke-width="1.2" stroke-linejoin="round"/>
<polyline points="338.2,232.5 338.1,233.5 337.1,234.1 336.1,233.4 335.5,232.5 336.0,231.6 337.1,231.4 338.2,231.5 338.2,232.5" fill="none" stroke="#333333" stroke-width="1.2" stroke-linejoin="round"/>
<polyline points="342.0,233.2 341.8,234.4 340.7,234.5 339.7,234.3 339.1,233.2 339.9,232.4 340.7,231.9 341.5,232.4 342.0,233.2" fill="none" stroke="#333333" stroke-width="1.2" stroke-linejoin="round"/>
<polyline points="345.0,231.8 344.5,232.6 343.5,233.4 342.3,232.7 341.6,231.8 342.5,231.0 343.5,230.8 344.4,231.1 345.0,231.8" fill="none" stroke="#333333" stroke-width="1.2" stroke-linejoin="round"/>
<polyline points="333.2,232.1 332.5,233.3 331.0,233.7 329.4,233.3 329.1,232.1 329.7,231.0 331.0,230.2 332.5,230.8 333.2,232.1" fill="none" stroke="#333333" stroke-width="1.2" stroke-linejoin="round"/>
<polyline points="355.5,227.7 355.1,228.5 353.4,228.6 351.7,228.5 351.2,227.7 352.3,227.2 353.4,227.0 354.6,227.1 355.5,227.7" fill="none" stroke="#333333" stroke-width="1.2" stroke-linejoin="round"/>
<polyline points="344.6,230.5 344.3,231.3 342.8,232.0 341.6,231.2 340.7,230.5 341.5,229.8 342.8,229.4 344.0,229.9 344.6,230.5" fill="none" stroke="#333333" stroke-width="1.2" stroke-linejoin="round"/>
<polyline points="323.7,235.1 323.7,236.0 322.8,236.3 322.0,235.9 321.8,235.1 321.9,234.1 322.8,234.1 323.9,234.0 323.7,235.1" fill="none" stroke="#333333" stroke-width="1.2" stroke-linejoin="round"/>
<polyline points="341.7,229.9 341.3,230.5 340.5,230.6 339.8,230.5 339.3,229.9 339.8,229.2 340.5,228.9 341.3,229.2 341.7,229.9" fill="none" stroke="#333333" stroke-width="1.2" stroke-linejoin="round"/>
<polyline points="313.0,236.2 313.1,237.5 311.6,238.0 310.5,237.1 309.4,236.2 310.6,235.4 311.6,234.7 312.5,235.4 313.0,236.2" fill="none" stroke="#333333" stroke-width="1.2" stroke-linejoin="round"/>
<polyline points="343.6,231.3 343.0,232.1 341.9,232.3 340.8,232.0 340.3,231.3 340.9,230.6 341.9,230.4 343.1,230.5 343.6,231.3" fill="none" stroke="#333333" stroke-width="1.2" stroke-linejoin="round"/>
<polyline points="351.6,231.5 351.2,232.4 349.6,232.5 348.0,232.5 348.2,231.5 347.9,230.4 349.6,230.3 351.3,230.5 351.6,231.5" fill="none" stroke="#333333" stroke-width="1.2" stroke-linejoin="round"/>
<polyline points="353.7,227.8 353.4,228.8 352.5,228.7 351.7,228.6 351.2,227.8 351.8,227.2 352.5,226.9 353.3,227.0 353.7,227.8" fill="none" stroke="#333333" stroke-width="1.2" stroke-linejoin="round"/>
<polyline points="328.3,233.2 327.8,234.4 326.7,234.6 325.3,234.7 325.4,233.2 325.8,232.4 326.7,231.7 328.0,231.8 328.3,233.2" fill="none" stroke="#333333" stroke-width="1.2" stroke-linejoin="round"/>
<polyline points="335.0,229.1 334.1,230.0 333.4,231.2 332.5,230.3 332.3,229.1 332.5,228.0 333.4,226.9 334.2,228.1 335.0,229.1" fill="none" stroke="#333333" stroke-width="1.2" stroke-linejoin="round"/>
<polyline points="358.4,230.0 358.4,231.4 356.8,232.2 355.4,231.2 355.3,230.0 355.6,229.0 356.8,228.4 358.2,228.9 358.4,230.0" fill="none" stroke="#333333" stroke-width="1.2" stroke-linejoin="round"/>
<polyline points="320.5,231.1 320.1,232.4 318.7,233.0 317.2,232.4 316.5,231.1 317.7,230.2 318.7,229.1 320.0,229.9 320.5,231.1" fill="none" stroke="#333333" stroke-width="1.2" stroke-linejoin="round"/>
<polyline points="352.8,226.5 352.1,227.8 350.1,227.8 348.5,227.6 347.4,226.5 348.5,225.3 350.1,224.7 351.4,225.6 352.8,226.5" fill="none" stroke="#333333" stroke-width="1.2" stroke-linejoin="round"/>
<polyline points="312.1,235.4 311.9,236.1 311.3,236.3 310.5,236.3 310.3,235.4 310.5,234.4 311.3,234.0 312.1,234.4 312.1,235.4" fill="none" stroke="#333333" stroke-width="1.2" stroke-linejoin="round"/>
<polyline points="337.6,232.7 336.9,233.3 336.1,233.7 334.9,233.6 334.6,232.7 335.0,231.9 336.1,231.8 337.0,232.0 337.6,232.7" fill="none" stroke="#333333" stroke-width="1.2" stroke-linejoin="round"/>
<polyline points="352.6,227.8 351.3,228.6 350.0,229.6 348.5,228.8 348.2,227.8 348.8,227.1 350.0,226.8 351.1,227.1 352.6,227.8" fill="none" stroke="#333333" stroke-width="1.2" stroke-linejoin="round"/>
<polyline points="350.9,227.4 350.9,228.8 349.7,229.3 348.8,228.5 348.4,227.4 348.8,226.2 349.7,225.8 350.8,226.0 350.9,227.4" fill="none" stroke="#333333" stroke-width="1.2" stroke-linejoin="round"/>
<circle cx="364.2" cy="221.6" r="1.1" fill="#333"/>
<circle cx="370.5" cy="213" r="1.1" fill="#333"/>
<circle cx="379" cy="210" r="1.1" fill="#333"/>
<circle cx="390.5" cy="199.5" r="1.1" fill="#333"/>
<circle cx="406.3" cy="196.3" r="1.1" fill="#333"/>
<circle cx="357.9" cy="192.1" r="1.1" fill="#333"/>
<circle cx="307.4" cy="220.5" r="1.1" fill="#333"/>
<circle cx="328.4" cy="206.8" r="1.1" fill="#333"/>
<rect x="69.6" y="7.4" width="677.3" height="231.9" fill="none" stroke="#111" stroke-width="1.6"/>
<line x1="96.50" y1="239.3" x2="96.50" y2="243.6" stroke="#111" stroke-width="1.4"/>
<line x1="95.00" y1="7.4" x2="95.00" y2="1.6" stroke="#111" stroke-width="1.4"/>
<line x1="138.25" y1="239.3" x2="138.25" y2="243.6" stroke="#111" stroke-width="1.4"/>
<line x1="136.75" y1="7.4" x2="136.75" y2="1.6" stroke="#111" stroke-width="1.4"/>
<line x1="180.00" y1="239.3" x2="180.00" y2="243.6" stroke="#111" stroke-width="1.4"/>
<line x1="178.50" y1="7.4" x2="178.50" y2="1.6" stroke="#111" stroke-width="1.4"/>
<line x1="221.75" y1="239.3" x2="221.75" y2="243.6" stroke="#111" stroke-width="1.4"/>
<line x1="220.25" y1="7.4" x2="220.25" y2="1.6" stroke="#111" stroke-width="1.4"/>
<line x1="263.50" y1="239.3" x2="263.50" y2="243.6" stroke="#111" stroke-width="1.4"/>
<line x1="262.00" y1="7.4" x2="262.00" y2="1.6" stroke="#111" stroke-width="1.4"/>
<line x1="305.25" y1="239.3" x2="305.25" y2="243.6" stroke="#111" stroke-width="1.4"/>
<line x1="303.75" y1="7.4" x2="303.75" y2="1.6" stroke="#111" stroke-width="1.4"/>
<line x1="347.00" y1="239.3" x2="347.00" y2="243.6" stroke="#111" stroke-width="1.4"/>
<line x1="345.50" y1="7.4" x2="345.50" y2="1.6" stroke="#111" stroke-width="1.4"/>
<line x1="388.75" y1="239.3" x2="388.75" y2="243.6" stroke="#111" stroke-width="1.4"/>
<line x1="387.25" y1="7.4" x2="387.25" y2="1.6" stroke="#111" stroke-width="1.4"/>
<line x1="430.50" y1="239.3" x2="430.50" y2="243.6" stroke="#111" stroke-width="1.4"/>
<line x1="429.00" y1="7.4" x2="429.00" y2="1.6" stroke="#111" stroke-width="1.4"/>
<line x1="472.25" y1="239.3" x2="472.25" y2="243.6" stroke="#111" stroke-width="1.4"/>
<line x1="470.75" y1="7.4" x2="470.75" y2="1.6" stroke="#111" stroke-width="1.4"/>
<line x1="514.00" y1="239.3" x2="514.00" y2="243.6" stroke="#111" stroke-width="1.4"/>
<line x1="512.50" y1="7.4" x2="512.50" y2="1.6" stroke="#111" stroke-width="1.4"/>
<line x1="555.75" y1="239.3" x2="555.75" y2="243.6" stroke="#111" stroke-width="1.4"/>
<line x1="554.25" y1="7.4" x2="554.25" y2="1.6" stroke="#111" stroke-width="1.4"/>
<line x1="597.50" y1="239.3" x2="597.50" y2="243.6" stroke="#111" stroke-width="1.4"/>
<line x1="596.00" y1="7.4" x2="596.00" y2="1.6" stroke="#111" stroke-width="1.4"/>
<line x1="639.25" y1="239.3" x2="639.25" y2="243.6" stroke="#111" stroke-width="1.4"/>
<line x1="637.75" y1="7.4" x2="637.75" y2="1.6" stroke="#111" stroke-width="1.4"/>
<line x1="681.00" y1="239.3" x2="681.00" y2="243.6" stroke="#111" stroke-width="1.4"/>
<line x1="679.50" y1="7.4" x2="679.50" y2="1.6" stroke="#111" stroke-width="1.4"/>
<line x1="722.75" y1="239.3" x2="722.75" y2="243.6" stroke="#111" stroke-width="1.4"/>
<line x1="721.25" y1="7.4" x2="721.25" y2="1.6" stroke="#111" stroke-width="1.4"/>
<line x1="66.6" y1="12.0" x2="69.6" y2="12.0" stroke="#111" stroke-width="1.4"/>
<line x1="66.6" y1="49.2" x2="69.6" y2="49.2" stroke="#111" stroke-width="1.4"/>
<line x1="66.6" y1="86.4" x2="69.6" y2="86.4" stroke="#111" stroke-width="1.4"/>
<line x1="66.6" y1="123.60000000000001" x2="69.6" y2="123.60000000000001" stroke="#111" stroke-width="1.4"/>
<line x1="66.6" y1="160.8" x2="69.6" y2="160.8" stroke="#111" stroke-width="1.4"/>
<line x1="66.6" y1="198.0" x2="69.6" y2="198.0" stroke="#111" stroke-width="1.4"/>
<line x1="66.6" y1="235.20000000000002" x2="69.6" y2="235.20000000000002" stroke="#111" stroke-width="1.4"/>
<line x1="746.9" y1="8.5" x2="753.6" y2="8.5" stroke="#111" stroke-width="1.4"/>
<line x1="746.9" y1="45.9" x2="753.6" y2="45.9" stroke="#111" stroke-width="1.4"/>
<line x1="746.9" y1="83.3" x2="753.6" y2="83.3" stroke="#111" stroke-width="1.4"/>
<line x1="746.9" y1="120.7" x2="753.6" y2="120.7" stroke="#111" stroke-width="1.4"/>
<line x1="746.9" y1="158.1" x2="753.6" y2="158.1" stroke="#111" stroke-width="1.4"/>
<line x1="746.9" y1="195.5" x2="753.6" y2="195.5" stroke="#111" stroke-width="1.4"/>
<line x1="746.9" y1="232.9" x2="753.6" y2="232.9" stroke="#111" stroke-width="1.4"/>
<defs><filter id="bl1"><feGaussianBlur stdDeviation="1.0"/></filter><filter id="bl2"><feGaussianBlur stdDeviation="1.6"/></filter></defs>
<rect x="70.5" y="301" width="309.5" height="232.5" fill="rgb(249,249,249)"/>
<clipPath id="cpB"><rect x="71" y="301.5" width="308.5" height="231.5"/></clipPath>
<g clip-path="url(#cpB)" filter="url(#bl2)"><path d="M152.8,453.1 L158.1,450.1 L158.1,450.3 L152.9,453.1 Z" fill="rgb(128,128,128)" stroke="rgb(128,128,128)" stroke-width="0.6"/><path d="M152.9,453.1 L158.1,450.3 L158.2,450.4 L152.9,453.2 Z" fill="rgb(119,119,119)" stroke="rgb(119,119,119)" stroke-width="0.6"/><path d="M152.9,453.2 L158.2,450.4 L158.3,450.6 L152.9,453.3 Z" fill="rgb(111,111,111)" stroke="rgb(111,111,111)" stroke-width="0.6"/><path d="M152.9,453.3 L158.3,450.6 L158.4,450.7 L153.0,453.4 Z" fill="rgb(105,105,105)" stroke="rgb(105,105,105)" stroke-width="0.6"/><path d="M153.0,453.4 L158.4,450.7 L158.4,450.9 L153.0,453.4 Z" fill="rgb(100,100,100)" stroke="rgb(100,100,100)" stroke-width="0.6"/><path d="M153.0,453.4 L158.4,450.9 L158.5,451.0 L153.1,453.5 Z" fill="rgb(98,98,98)" stroke="rgb(98,98,98)" stroke-width="0.6"/><path d="M153.1,453.5 L158.5,451.0 L158.6,451.2 L153.1,453.6 Z" fill="rgb(99,99,99)" stroke="rgb(99,99,99)" stroke-width="0.6"/><path d="M153.1,453.6 L158.6,451.2 L158.7,451.3 L153.1,453.7 Z" fill="rgb(101,101,101)" stroke="rgb(101,101,101)" stroke-width="0.6"/><path d="M153.1,453.7 L158.7,451.3 L158.7,451.5 L153.2,453.7 Z" fill="rgb(105,105,105)" stroke="rgb(105,105,105)" stroke-width="0.6"/><path d="M153.2,453.7 L158.7,451.5 L158.8,451.7 L153.2,453.8 Z" fill="rgb(109,109,109)" stroke="rgb(109,109,109)" stroke-width="0.6"/><path d="M153.2,453.8 L158.8,451.7 L158.8,451.8 L153.2,453.9 Z" fill="rgb(113,113,113)" stroke="rgb(113,113,113)" stroke-width="0.6"/><path d="M153.2,453.9 L158.8,451.8 L158.9,452.0 L153.3,454.0 Z" fill="rgb(116,116,116)" stroke="rgb(116,116,116)" stroke-width="0.6"/><path d="M153.3,454.0 L158.9,452.0 L159.0,452.1 L153.3,454.1 Z" fill="rgb(119,119,119)" stroke="rgb(119,119,119)" stroke-width="0.6"/><path d="M153.3,454.1 L159.0,452.1 L159.0,452.3 L153.3,454.2 Z" fill="rgb(121,121,121)" stroke="rgb(121,121,121)" stroke-width="0.6"/><path d="M153.3,454.2 L159.0,452.3 L159.1,452.5 L153.3,454.2 Z" fill="rgb(122,122,122)" stroke="rgb(122,122,122)" stroke-width="0.6"/><path d="M153.3,454.2 L159.1,452.5 L159.1,452.6 L153.4,454.3 Z" fill="rgb(123,123,123)" stroke="rgb(123,123,123)" stroke-width="0.6"/><path d="M158.1,450.1 L163.3,447.2 L163.4,447.4 L158.1,450.3 Z" fill="rgb(136,136,136)" stroke="rgb(136,136,136)" stroke-width="0.6"/><path d="M158.1,450.3 L163.4,447.4 L163.5,447.6 L158.2,450.4 Z" fill="rgb(127,127,127)" stroke="rgb(127,127,127)" stroke-width="0.6"/><path d="M158.2,450.4 L163.5,447.6 L163.6,447.8 L158.3,450.6 Z" fill="rgb(118,118,118)" stroke="rgb(118,118,118)" stroke-width="0.6"/><path d="M158.3,450.6 L163.6,447.8 L163.8,448.1 L158.4,450.7 Z" fill="rgb(110,110,110)" stroke="rgb(110,110,110)" stroke-width="0.6"/><path d="M158.4,450.7 L163.8,448.1 L163.9,448.3 L158.4,450.9 Z" fill="rgb(105,105,105)" stroke="rgb(105,105,105)" stroke-width="0.6"/><path d="M158.4,450.9 L163.9,448.3 L164.0,448.5 L158.5,451.0 Z" fill="rgb(102,102,102)" stroke="rgb(102,102,102)" stroke-width="0.6"/><path d="M158.5,451.0 L164.0,448.5 L164.1,448.8 L158.6,451.2 Z" fill="rgb(102,102,102)" stroke="rgb(102,102,102)" stroke-width="0.6"/><path d="M158.6,451.2 L164.1,448.8 L164.2,449.0 L158.7,451.3 Z" fill="rgb(104,104,104)" stroke="rgb(104,104,104)" stroke-width="0.6"/><path d="M158.7,451.3 L164.2,449.0 L164.3,449.2 L158.7,451.5 Z" fill="rgb(108,108,108)" stroke="rgb(108,108,108)" stroke-width="0.6"/><path d="M158.7,451.5 L164.3,449.2 L164.4,449.5 L158.8,451.7 Z" fill="rgb(113,113,113)" stroke="rgb(113,113,113)" stroke-width="0.6"/><path d="M158.8,451.7 L164.4,449.5 L164.5,449.7 L158.8,451.8 Z" fill="rgb(119,119,119)" stroke="rgb(119,119,119)" stroke-width="0.6"/><path d="M158.8,451.8 L164.5,449.7 L164.6,450.0 L158.9,452.0 Z" fill="rgb(125,125,125)" stroke="rgb(125,125,125)" stroke-width="0.6"/><path d="M158.9,452.0 L164.6,450.0 L164.6,450.2 L159.0,452.1 Z" fill="rgb(130,130,130)" stroke="rgb(130,130,130)" stroke-width="0.6"/><path d="M159.0,452.1 L164.6,450.2 L164.7,450.5 L159.0,452.3 Z" fill="rgb(135,135,135)" stroke="rgb(135,135,135)" stroke-width="0.6"/><path d="M159.0,452.3 L164.7,450.5 L164.8,450.7 L159.1,452.5 Z" fill="rgb(140,140,140)" stroke="rgb(140,140,140)" stroke-width="0.6"/><path d="M159.1,452.5 L164.8,450.7 L164.9,450.9 L159.1,452.6 Z" fill="rgb(144,144,144)" stroke="rgb(144,144,144)" stroke-width="0.6"/><path d="M163.3,447.2 L170.2,443.2 L170.4,443.6 L163.4,447.4 Z" fill="rgb(147,147,147)" stroke="rgb(147,147,147)" stroke-width="0.6"/><path d="M163.4,447.4 L170.4,443.6 L170.6,443.9 L163.5,447.6 Z" fill="rgb(137,137,137)" stroke="rgb(137,137,137)" stroke-width="0.6"/><path d="M163.5,447.6 L170.6,443.9 L170.8,444.2 L163.6,447.8 Z" fill="rgb(127,127,127)" stroke="rgb(127,127,127)" stroke-width="0.6"/><path d="M163.6,447.8 L170.8,444.2 L170.9,444.5 L163.8,448.1 Z" fill="rgb(119,119,119)" stroke="rgb(119,119,119)" stroke-width="0.6"/><path d="M163.8,448.1 L170.9,444.5 L171.1,444.9 L163.9,448.3 Z" fill="rgb(113,113,113)" stroke="rgb(113,113,113)" stroke-width="0.6"/><path d="M163.9,448.3 L171.1,444.9 L171.3,445.2 L164.0,448.5 Z" fill="rgb(111,111,111)" stroke="rgb(111,111,111)" stroke-width="0.6"/><path d="M164.0,448.5 L171.3,445.2 L171.4,445.6 L164.1,448.8 Z" fill="rgb(112,112,112)" stroke="rgb(112,112,112)" stroke-width="0.6"/><path d="M164.1,448.8 L171.4,445.6 L171.6,445.9 L164.2,449.0 Z" fill="rgb(115,115,115)" stroke="rgb(115,115,115)" stroke-width="0.6"/><path d="M164.2,449.0 L171.6,445.9 L171.7,446.2 L164.3,449.2 Z" fill="rgb(121,121,121)" stroke="rgb(121,121,121)" stroke-width="0.6"/><path d="M164.3,449.2 L171.7,446.2 L171.8,446.6 L164.4,449.5 Z" fill="rgb(129,129,129)" stroke="rgb(129,129,129)" stroke-width="0.6"/><path d="M164.4,449.5 L171.8,446.6 L172.0,446.9 L164.5,449.7 Z" fill="rgb(139,139,139)" stroke="rgb(139,139,139)" stroke-width="0.6"/><path d="M164.5,449.7 L172.0,446.9 L172.1,447.3 L164.6,450.0 Z" fill="rgb(148,148,148)" stroke="rgb(148,148,148)" stroke-width="0.6"/><path d="M164.6,450.0 L172.1,447.3 L172.2,447.6 L164.6,450.2 Z" fill="rgb(158,158,158)" stroke="rgb(158,158,158)" stroke-width="0.6"/><path d="M164.6,450.2 L172.2,447.6 L172.3,448.0 L164.7,450.5 Z" fill="rgb(168,168,168)" stroke="rgb(168,168,168)" stroke-width="0.6"/><path d="M164.7,450.5 L172.3,448.0 L172.4,448.3 L164.8,450.7 Z" fill="rgb(177,177,177)" stroke="rgb(177,177,177)" stroke-width="0.6"/><path d="M164.8,450.7 L172.4,448.3 L172.6,448.7 L164.9,450.9 Z" fill="rgb(185,185,185)" stroke="rgb(185,185,185)" stroke-width="0.6"/><path d="M170.2,443.2 L177.2,439.3 L177.5,439.7 L170.4,443.6 Z" fill="rgb(159,159,159)" stroke="rgb(159,159,159)" stroke-width="0.6"/><path d="M170.4,443.6 L177.5,439.7 L177.7,440.2 L170.6,443.9 Z" fill="rgb(147,147,147)" stroke="rgb(147,147,147)" stroke-width="0.6"/><path d="M170.6,443.9 L177.7,440.2 L177.9,440.6 L170.8,444.2 Z" fill="rgb(137,137,137)" stroke="rgb(137,137,137)" stroke-width="0.6"/><path d="M170.8,444.2 L177.9,440.6 L178.1,441.0 L170.9,444.5 Z" fill="rgb(130,130,130)" stroke="rgb(130,130,130)" stroke-width="0.6"/><path d="M170.9,444.5 L178.1,441.0 L178.3,441.5 L171.1,444.9 Z" fill="rgb(125,125,125)" stroke="rgb(125,125,125)" stroke-width="0.6"/><path d="M171.1,444.9 L178.3,441.5 L178.5,441.9 L171.3,445.2 Z" fill="rgb(124,124,124)" stroke="rgb(124,124,124)" stroke-width="0.6"/><path d="M171.3,445.2 L178.5,441.9 L178.7,442.3 L171.4,445.6 Z" fill="rgb(126,126,126)" stroke="rgb(126,126,126)" stroke-width="0.6"/><path d="M171.4,445.6 L178.7,442.3 L178.9,442.8 L171.6,445.9 Z" fill="rgb(133,133,133)" stroke="rgb(133,133,133)" stroke-width="0.6"/><path d="M171.6,445.9 L178.9,442.8 L179.1,443.2 L171.7,446.2 Z" fill="rgb(142,142,142)" stroke="rgb(142,142,142)" stroke-width="0.6"/><path d="M171.7,446.2 L179.1,443.2 L179.3,443.7 L171.8,446.6 Z" fill="rgb(153,153,153)" stroke="rgb(153,153,153)" stroke-width="0.6"/><path d="M171.8,446.6 L179.3,443.7 L179.5,444.1 L172.0,446.9 Z" fill="rgb(166,166,166)" stroke="rgb(166,166,166)" stroke-width="0.6"/><path d="M172.0,446.9 L179.5,444.1 L179.6,444.6 L172.1,447.3 Z" fill="rgb(180,180,180)" stroke="rgb(180,180,180)" stroke-width="0.6"/><path d="M172.1,447.3 L179.6,444.6 L179.8,445.1 L172.2,447.6 Z" fill="rgb(192,192,192)" stroke="rgb(192,192,192)" stroke-width="0.6"/><path d="M172.2,447.6 L179.8,445.1 L179.9,445.5 L172.3,448.0 Z" fill="rgb(204,204,204)" stroke="rgb(204,204,204)" stroke-width="0.6"/><path d="M172.3,448.0 L179.9,445.5 L180.1,446.0 L172.4,448.3 Z" fill="rgb(214,214,214)" stroke="rgb(214,214,214)" stroke-width="0.6"/><path d="M172.4,448.3 L180.1,446.0 L180.2,446.5 L172.6,448.7 Z" fill="rgb(222,222,222)" stroke="rgb(222,222,222)" stroke-width="0.6"/><path d="M177.2,439.3 L185.9,434.4 L186.2,434.9 L177.5,439.7 Z" fill="rgb(170,170,170)" stroke="rgb(170,170,170)" stroke-width="0.6"/><path d="M177.5,439.7 L186.2,434.9 L186.5,435.5 L177.7,440.2 Z" fill="rgb(159,159,159)" stroke="rgb(159,159,159)" stroke-width="0.6"/><path d="M177.7,440.2 L186.5,435.5 L186.8,436.1 L177.9,440.6 Z" fill="rgb(149,149,149)" stroke="rgb(149,149,149)" stroke-width="0.6"/><path d="M177.9,440.6 L186.8,436.1 L187.1,436.6 L178.1,441.0 Z" fill="rgb(143,143,143)" stroke="rgb(143,143,143)" stroke-width="0.6"/><path d="M178.1,441.0 L187.1,436.6 L187.4,437.2 L178.3,441.5 Z" fill="rgb(140,140,140)" stroke="rgb(140,140,140)" stroke-width="0.6"/><path d="M178.3,441.5 L187.4,437.2 L187.6,437.8 L178.5,441.9 Z" fill="rgb(141,141,141)" stroke="rgb(141,141,141)" stroke-width="0.6"/><path d="M178.5,441.9 L187.6,437.8 L187.9,438.3 L178.7,442.3 Z" fill="rgb(145,145,145)" stroke="rgb(145,145,145)" stroke-width="0.6"/><path d="M178.7,442.3 L187.9,438.3 L188.1,438.9 L178.9,442.8 Z" fill="rgb(154,154,154)" stroke="rgb(154,154,154)" stroke-width="0.6"/><path d="M178.9,442.8 L188.1,438.9 L188.4,439.5 L179.1,443.2 Z" fill="rgb(165,165,165)" stroke="rgb(165,165,165)" stroke-width="0.6"/><path d="M179.1,443.2 L188.4,439.5 L188.6,440.1 L179.3,443.7 Z" fill="rgb(179,179,179)" stroke="rgb(179,179,179)" stroke-width="0.6"/><path d="M179.3,443.7 L188.6,440.1 L188.8,440.7 L179.5,444.1 Z" fill="rgb(193,193,193)" stroke="rgb(193,193,193)" stroke-width="0.6"/><path d="M179.5,444.1 L188.8,440.7 L189.1,441.3 L179.6,444.6 Z" fill="rgb(206,206,206)" stroke="rgb(206,206,206)" stroke-width="0.6"/><path d="M179.6,444.6 L189.1,441.3 L189.3,441.8 L179.8,445.1 Z" fill="rgb(218,218,218)" stroke="rgb(218,218,218)" stroke-width="0.6"/><path d="M179.8,445.1 L189.3,441.8 L189.5,442.4 L179.9,445.5 Z" fill="rgb(228,228,228)" stroke="rgb(228,228,228)" stroke-width="0.6"/><path d="M179.9,445.5 L189.5,442.4 L189.6,443.0 L180.1,446.0 Z" fill="rgb(235,235,235)" stroke="rgb(235,235,235)" stroke-width="0.6"/><path d="M180.1,446.0 L189.6,443.0 L189.8,443.6 L180.2,446.5 Z" fill="rgb(240,240,240)" stroke="rgb(240,240,240)" stroke-width="0.6"/><path d="M185.9,434.4 L196.4,428.5 L196.8,429.2 L186.2,434.9 Z" fill="rgb(182,182,182)" stroke="rgb(182,182,182)" stroke-width="0.6"/><path d="M186.2,434.9 L196.8,429.2 L197.1,429.9 L186.5,435.5 Z" fill="rgb(171,171,171)" stroke="rgb(171,171,171)" stroke-width="0.6"/><path d="M186.5,435.5 L197.1,429.9 L197.5,430.6 L186.8,436.1 Z" fill="rgb(163,163,163)" stroke="rgb(163,163,163)" stroke-width="0.6"/><path d="M186.8,436.1 L197.5,430.6 L197.9,431.3 L187.1,436.6 Z" fill="rgb(159,159,159)" stroke="rgb(159,159,159)" stroke-width="0.6"/><path d="M187.1,436.6 L197.9,431.3 L198.2,432.1 L187.4,437.2 Z" fill="rgb(158,158,158)" stroke="rgb(158,158,158)" stroke-width="0.6"/><path d="M187.4,437.2 L198.2,432.1 L198.6,432.8 L187.6,437.8 Z" fill="rgb(162,162,162)" stroke="rgb(162,162,162)" stroke-width="0.6"/><path d="M187.6,437.8 L198.6,432.8 L198.9,433.5 L187.9,438.3 Z" fill="rgb(168,168,168)" stroke="rgb(168,168,168)" stroke-width="0.6"/><path d="M187.9,438.3 L198.9,433.5 L199.2,434.2 L188.1,438.9 Z" fill="rgb(177,177,177)" stroke="rgb(177,177,177)" stroke-width="0.6"/><path d="M188.1,438.9 L199.2,434.2 L199.5,435.0 L188.4,439.5 Z" fill="rgb(188,188,188)" stroke="rgb(188,188,188)" stroke-width="0.6"/><path d="M188.4,439.5 L199.5,435.0 L199.8,435.7 L188.6,440.1 Z" fill="rgb(200,200,200)" stroke="rgb(200,200,200)" stroke-width="0.6"/><path d="M188.6,440.1 L199.8,435.7 L200.1,436.5 L188.8,440.7 Z" fill="rgb(211,211,211)" stroke="rgb(211,211,211)" stroke-width="0.6"/><path d="M188.8,440.7 L200.1,436.5 L200.4,437.2 L189.1,441.3 Z" fill="rgb(222,222,222)" stroke="rgb(222,222,222)" stroke-width="0.6"/><path d="M189.1,441.3 L200.4,437.2 L200.6,438.0 L189.3,441.8 Z" fill="rgb(230,230,230)" stroke="rgb(230,230,230)" stroke-width="0.6"/><path d="M189.3,441.8 L200.6,438.0 L200.9,438.7 L189.5,442.4 Z" fill="rgb(237,237,237)" stroke="rgb(237,237,237)" stroke-width="0.6"/><path d="M189.5,442.4 L200.9,438.7 L201.1,439.5 L189.6,443.0 Z" fill="rgb(241,241,241)" stroke="rgb(241,241,241)" stroke-width="0.6"/><path d="M189.6,443.0 L201.1,439.5 L201.3,440.3 L189.8,443.6 Z" fill="rgb(245,245,245)" stroke="rgb(245,245,245)" stroke-width="0.6"/><path d="M196.4,428.5 L208.6,421.6 L209.1,422.5 L196.8,429.2 Z" fill="rgb(194,194,194)" stroke="rgb(194,194,194)" stroke-width="0.6"/><path d="M196.8,429.2 L209.1,422.5 L209.5,423.4 L197.1,429.9 Z" fill="rgb(185,185,185)" stroke="rgb(185,185,185)" stroke-width="0.6"/><path d="M197.1,429.9 L209.5,423.4 L210.0,424.3 L197.5,430.6 Z" fill="rgb(179,179,179)" stroke="rgb(179,179,179)" stroke-width="0.6"/><path d="M197.5,430.6 L210.0,424.3 L210.4,425.2 L197.9,431.3 Z" fill="rgb(177,177,177)" stroke="rgb(177,177,177)" stroke-width="0.6"/><path d="M197.9,431.3 L210.4,425.2 L210.9,426.1 L198.2,432.1 Z" fill="rgb(179,179,179)" stroke="rgb(179,179,179)" stroke-width="0.6"/><path d="M198.2,432.1 L210.9,426.1 L211.3,427.0 L198.6,432.8 Z" fill="rgb(184,184,184)" stroke="rgb(184,184,184)" stroke-width="0.6"/><path d="M198.6,432.8 L211.3,427.0 L211.7,427.9 L198.9,433.5 Z" fill="rgb(190,190,190)" stroke="rgb(190,190,190)" stroke-width="0.6"/><path d="M198.9,433.5 L211.7,427.9 L212.1,428.8 L199.2,434.2 Z" fill="rgb(196,196,196)" stroke="rgb(196,196,196)" stroke-width="0.6"/><path d="M199.2,434.2 L212.1,428.8 L212.5,429.7 L199.5,435.0 Z" fill="rgb(203,203,203)" stroke="rgb(203,203,203)" stroke-width="0.6"/><path d="M199.5,435.0 L212.5,429.7 L212.9,430.7 L199.8,435.7 Z" fill="rgb(211,211,211)" stroke="rgb(211,211,211)" stroke-width="0.6"/><path d="M199.8,435.7 L212.9,430.7 L213.2,431.6 L200.1,436.5 Z" fill="rgb(219,219,219)" stroke="rgb(219,219,219)" stroke-width="0.6"/><path d="M200.1,436.5 L213.2,431.6 L213.6,432.5 L200.4,437.2 Z" fill="rgb(226,226,226)" stroke="rgb(226,226,226)" stroke-width="0.6"/><path d="M200.4,437.2 L213.6,432.5 L213.9,433.5 L200.6,438.0 Z" fill="rgb(232,232,232)" stroke="rgb(232,232,232)" stroke-width="0.6"/><path d="M200.6,438.0 L213.9,433.5 L214.2,434.4 L200.9,438.7 Z" fill="rgb(237,237,237)" stroke="rgb(237,237,237)" stroke-width="0.6"/><path d="M200.9,438.7 L214.2,434.4 L214.5,435.4 L201.1,439.5 Z" fill="rgb(241,241,241)" stroke="rgb(241,241,241)" stroke-width="0.6"/><path d="M201.1,439.5 L214.5,435.4 L214.8,436.3 L201.3,440.3 Z" fill="rgb(244,244,244)" stroke="rgb(244,244,244)" stroke-width="0.6"/><path d="M208.6,421.6 L222.5,413.8 L223.1,414.8 L209.1,422.5 Z" fill="rgb(206,206,206)" stroke="rgb(206,206,206)" stroke-width="0.6"/><path d="M209.1,422.5 L223.1,414.8 L223.7,415.9 L209.5,423.4 Z" fill="rgb(198,198,198)" stroke="rgb(198,198,198)" stroke-width="0.6"/><path d="M209.5,423.4 L223.7,415.9 L224.3,417.0 L210.0,424.3 Z" fill="rgb(195,195,195)" stroke="rgb(195,195,195)" stroke-width="0.6"/><path d="M210.0,424.3 L224.3,417.0 L224.8,418.1 L210.4,425.2 Z" fill="rgb(196,196,196)" stroke="rgb(196,196,196)" stroke-width="0.6"/><path d="M210.4,425.2 L224.8,418.1 L225.3,419.2 L210.9,426.1 Z" fill="rgb(199,199,199)" stroke="rgb(199,199,199)" stroke-width="0.6"/><path d="M210.9,426.1 L225.3,419.2 L225.9,420.3 L211.3,427.0 Z" fill="rgb(203,203,203)" stroke="rgb(203,203,203)" stroke-width="0.6"/><path d="M211.3,427.0 L225.9,420.3 L226.4,421.5 L211.7,427.9 Z" fill="rgb(205,205,205)" stroke="rgb(205,205,205)" stroke-width="0.6"/><path d="M211.7,427.9 L226.4,421.5 L226.8,422.6 L212.1,428.8 Z" fill="rgb(208,208,208)" stroke="rgb(208,208,208)" stroke-width="0.6"/><path d="M212.1,428.8 L226.8,422.6 L227.3,423.7 L212.5,429.7 Z" fill="rgb(211,211,211)" stroke="rgb(211,211,211)" stroke-width="0.6"/><path d="M212.5,429.7 L227.3,423.7 L227.8,424.9 L212.9,430.7 Z" fill="rgb(215,215,215)" stroke="rgb(215,215,215)" stroke-width="0.6"/><path d="M212.9,430.7 L227.8,424.9 L228.2,426.0 L213.2,431.6 Z" fill="rgb(220,220,220)" stroke="rgb(220,220,220)" stroke-width="0.6"/><path d="M213.2,431.6 L228.2,426.0 L228.6,427.2 L213.6,432.5 Z" fill="rgb(226,226,226)" stroke="rgb(226,226,226)" stroke-width="0.6"/><path d="M213.6,432.5 L228.6,427.2 L229.0,428.3 L213.9,433.5 Z" fill="rgb(231,231,231)" stroke="rgb(231,231,231)" stroke-width="0.6"/><path d="M213.9,433.5 L229.0,428.3 L229.4,429.5 L214.2,434.4 Z" fill="rgb(236,236,236)" stroke="rgb(236,236,236)" stroke-width="0.6"/><path d="M214.2,434.4 L229.4,429.5 L229.8,430.7 L214.5,435.4 Z" fill="rgb(241,241,241)" stroke="rgb(241,241,241)" stroke-width="0.6"/><path d="M214.5,435.4 L229.8,430.7 L230.1,431.8 L214.8,436.3 Z" fill="rgb(244,244,244)" stroke="rgb(244,244,244)" stroke-width="0.6"/><path d="M222.5,413.8 L238.2,404.9 L238.9,406.2 L223.1,414.8 Z" fill="rgb(216,216,216)" stroke="rgb(216,216,216)" stroke-width="0.6"/><path d="M223.1,414.8 L238.9,406.2 L239.6,407.5 L223.7,415.9 Z" fill="rgb(210,210,210)" stroke="rgb(210,210,210)" stroke-width="0.6"/><path d="M223.7,415.9 L239.6,407.5 L240.3,408.9 L224.3,417.0 Z" fill="rgb(210,210,210)" stroke="rgb(210,210,210)" stroke-width="0.6"/><path d="M224.3,417.0 L240.3,408.9 L241.0,410.2 L224.8,418.1 Z" fill="rgb(213,213,213)" stroke="rgb(213,213,213)" stroke-width="0.6"/><path d="M224.8,418.1 L241.0,410.2 L241.6,411.5 L225.3,419.2 Z" fill="rgb(215,215,215)" stroke="rgb(215,215,215)" stroke-width="0.6"/><path d="M225.3,419.2 L241.6,411.5 L242.2,412.9 L225.9,420.3 Z" fill="rgb(216,216,216)" stroke="rgb(216,216,216)" stroke-width="0.6"/><path d="M225.9,420.3 L242.2,412.9 L242.8,414.2 L226.4,421.5 Z" fill="rgb(215,215,215)" stroke="rgb(215,215,215)" stroke-width="0.6"/><path d="M226.4,421.5 L242.8,414.2 L243.4,415.6 L226.8,422.6 Z" fill="rgb(214,214,214)" stroke="rgb(214,214,214)" stroke-width="0.6"/><path d="M226.8,422.6 L243.4,415.6 L244.0,417.0 L227.3,423.7 Z" fill="rgb(214,214,214)" stroke="rgb(214,214,214)" stroke-width="0.6"/><path d="M227.3,423.7 L244.0,417.0 L244.5,418.4 L227.8,424.9 Z" fill="rgb(216,216,216)" stroke="rgb(216,216,216)" stroke-width="0.6"/><path d="M227.8,424.9 L244.5,418.4 L245.1,419.7 L228.2,426.0 Z" fill="rgb(220,220,220)" stroke="rgb(220,220,220)" stroke-width="0.6"/><path d="M228.2,426.0 L245.1,419.7 L245.6,421.1 L228.6,427.2 Z" fill="rgb(225,225,225)" stroke="rgb(225,225,225)" stroke-width="0.6"/><path d="M228.6,427.2 L245.6,421.1 L246.1,422.5 L229.0,428.3 Z" fill="rgb(230,230,230)" stroke="rgb(230,230,230)" stroke-width="0.6"/><path d="M229.0,428.3 L246.1,422.5 L246.5,424.0 L229.4,429.5 Z" fill="rgb(235,235,235)" stroke="rgb(235,235,235)" stroke-width="0.6"/><path d="M229.4,429.5 L246.5,424.0 L247.0,425.4 L229.8,430.7 Z" fill="rgb(239,239,239)" stroke="rgb(239,239,239)" stroke-width="0.6"/><path d="M229.8,430.7 L247.0,425.4 L247.4,426.8 L230.1,431.8 Z" fill="rgb(243,243,243)" stroke="rgb(243,243,243)" stroke-width="0.6"/><path d="M238.2,404.9 L255.6,395.1 L256.5,396.7 L238.9,406.2 Z" fill="rgb(225,225,225)" stroke="rgb(225,225,225)" stroke-width="0.6"/><path d="M238.9,406.2 L256.5,396.7 L257.3,398.2 L239.6,407.5 Z" fill="rgb(221,221,221)" stroke="rgb(221,221,221)" stroke-width="0.6"/><path d="M239.6,407.5 L257.3,398.2 L258.1,399.8 L240.3,408.9 Z" fill="rgb(223,223,223)" stroke="rgb(223,223,223)" stroke-width="0.6"/><path d="M240.3,408.9 L258.1,399.8 L258.9,401.4 L241.0,410.2 Z" fill="rgb(226,226,226)" stroke="rgb(226,226,226)" stroke-width="0.6"/><path d="M241.0,410.2 L258.9,401.4 L259.7,403.0 L241.6,411.5 Z" fill="rgb(226,226,226)" stroke="rgb(226,226,226)" stroke-width="0.6"/><path d="M241.6,411.5 L259.7,403.0 L260.4,404.6 L242.2,412.9 Z" fill="rgb(224,224,224)" stroke="rgb(224,224,224)" stroke-width="0.6"/><path d="M242.2,412.9 L260.4,404.6 L261.2,406.2 L242.8,414.2 Z" fill="rgb(221,221,221)" stroke="rgb(221,221,221)" stroke-width="0.6"/><path d="M242.8,414.2 L261.2,406.2 L261.9,407.8 L243.4,415.6 Z" fill="rgb(218,218,218)" stroke="rgb(218,218,218)" stroke-width="0.6"/><path d="M243.4,415.6 L261.9,407.8 L262.5,409.5 L244.0,417.0 Z" fill="rgb(217,217,217)" stroke="rgb(217,217,217)" stroke-width="0.6"/><path d="M244.0,417.0 L262.5,409.5 L263.2,411.1 L244.5,418.4 Z" fill="rgb(218,218,218)" stroke="rgb(218,218,218)" stroke-width="0.6"/><path d="M244.5,418.4 L263.2,411.1 L263.8,412.8 L245.1,419.7 Z" fill="rgb(220,220,220)" stroke="rgb(220,220,220)" stroke-width="0.6"/><path d="M245.1,419.7 L263.8,412.8 L264.4,414.4 L245.6,421.1 Z" fill="rgb(224,224,224)" stroke="rgb(224,224,224)" stroke-width="0.6"/><path d="M245.6,421.1 L264.4,414.4 L265.0,416.1 L246.1,422.5 Z" fill="rgb(229,229,229)" stroke="rgb(229,229,229)" stroke-width="0.6"/><path d="M246.1,422.5 L265.0,416.1 L265.6,417.8 L246.5,424.0 Z" fill="rgb(234,234,234)" stroke="rgb(234,234,234)" stroke-width="0.6"/><path d="M246.5,424.0 L265.6,417.8 L266.1,419.5 L247.0,425.4 Z" fill="rgb(238,238,238)" stroke="rgb(238,238,238)" stroke-width="0.6"/><path d="M247.0,425.4 L266.1,419.5 L266.6,421.2 L247.4,426.8 Z" fill="rgb(241,241,241)" stroke="rgb(241,241,241)" stroke-width="0.6"/><path d="M255.6,395.1 L274.8,384.3 L275.8,386.1 L256.5,396.7 Z" fill="rgb(232,232,232)" stroke="rgb(232,232,232)" stroke-width="0.6"/><path d="M256.5,396.7 L275.8,386.1 L276.8,388.0 L257.3,398.2 Z" fill="rgb(230,230,230)" stroke="rgb(230,230,230)" stroke-width="0.6"/><path d="M257.3,398.2 L276.8,388.0 L277.7,389.8 L258.1,399.8 Z" fill="rgb(233,233,233)" stroke="rgb(233,233,233)" stroke-width="0.6"/><path d="M258.1,399.8 L277.7,389.8 L278.7,391.7 L258.9,401.4 Z" fill="rgb(235,235,235)" stroke="rgb(235,235,235)" stroke-width="0.6"/><path d="M258.9,401.4 L278.7,391.7 L279.6,393.6 L259.7,403.0 Z" fill="rgb(233,233,233)" stroke="rgb(233,233,233)" stroke-width="0.6"/><path d="M259.7,403.0 L279.6,393.6 L280.5,395.5 L260.4,404.6 Z" fill="rgb(230,230,230)" stroke="rgb(230,230,230)" stroke-width="0.6"/><path d="M260.4,404.6 L280.5,395.5 L281.3,397.4 L261.2,406.2 Z" fill="rgb(226,226,226)" stroke="rgb(226,226,226)" stroke-width="0.6"/><path d="M261.2,406.2 L281.3,397.4 L282.1,399.3 L261.9,407.8 Z" fill="rgb(222,222,222)" stroke="rgb(222,222,222)" stroke-width="0.6"/><path d="M261.9,407.8 L282.1,399.3 L282.9,401.2 L262.5,409.5 Z" fill="rgb(220,220,220)" stroke="rgb(220,220,220)" stroke-width="0.6"/><path d="M262.5,409.5 L282.9,401.2 L283.7,403.2 L263.2,411.1 Z" fill="rgb(220,220,220)" stroke="rgb(220,220,220)" stroke-width="0.6"/><path d="M263.2,411.1 L283.7,403.2 L284.4,405.1 L263.8,412.8 Z" fill="rgb(221,221,221)" stroke="rgb(221,221,221)" stroke-width="0.6"/><path d="M263.8,412.8 L284.4,405.1 L285.2,407.1 L264.4,414.4 Z" fill="rgb(224,224,224)" stroke="rgb(224,224,224)" stroke-width="0.6"/><path d="M264.4,414.4 L285.2,407.1 L285.8,409.0 L265.0,416.1 Z" fill="rgb(227,227,227)" stroke="rgb(227,227,227)" stroke-width="0.6"/><path d="M265.0,416.1 L285.8,409.0 L286.5,411.0 L265.6,417.8 Z" fill="rgb(232,232,232)" stroke="rgb(232,232,232)" stroke-width="0.6"/><path d="M265.6,417.8 L286.5,411.0 L287.1,413.0 L266.1,419.5 Z" fill="rgb(236,236,236)" stroke="rgb(236,236,236)" stroke-width="0.6"/><path d="M266.1,419.5 L287.1,413.0 L287.7,415.0 L266.6,421.2 Z" fill="rgb(240,240,240)" stroke="rgb(240,240,240)" stroke-width="0.6"/><path d="M274.8,384.3 L295.7,372.5 L296.9,374.6 L275.8,386.1 Z" fill="rgb(237,237,237)" stroke="rgb(237,237,237)" stroke-width="0.6"/><path d="M275.8,386.1 L296.9,374.6 L298.0,376.8 L276.8,388.0 Z" fill="rgb(237,237,237)" stroke="rgb(237,237,237)" stroke-width="0.6"/><path d="M276.8,388.0 L298.0,376.8 L299.1,378.9 L277.7,389.8 Z" fill="rgb(240,240,240)" stroke="rgb(240,240,240)" stroke-width="0.6"/><path d="M277.7,389.8 L299.1,378.9 L300.2,381.1 L278.7,391.7 Z" fill="rgb(240,240,240)" stroke="rgb(240,240,240)" stroke-width="0.6"/><path d="M278.7,391.7 L300.2,381.1 L301.3,383.3 L279.6,393.6 Z" fill="rgb(238,238,238)" stroke="rgb(238,238,238)" stroke-width="0.6"/><path d="M279.6,393.6 L301.3,383.3 L302.3,385.5 L280.5,395.5 Z" fill="rgb(234,234,234)" stroke="rgb(234,234,234)" stroke-width="0.6"/><path d="M280.5,395.5 L302.3,385.5 L303.3,387.7 L281.3,397.4 Z" fill="rgb(230,230,230)" stroke="rgb(230,230,230)" stroke-width="0.6"/><path d="M281.3,397.4 L303.3,387.7 L304.2,390.0 L282.1,399.3 Z" fill="rgb(226,226,226)" stroke="rgb(226,226,226)" stroke-width="0.6"/><path d="M282.1,399.3 L304.2,390.0 L305.2,392.2 L282.9,401.2 Z" fill="rgb(223,223,223)" stroke="rgb(223,223,223)" stroke-width="0.6"/><path d="M282.9,401.2 L305.2,392.2 L306.1,394.5 L283.7,403.2 Z" fill="rgb(222,222,222)" stroke="rgb(222,222,222)" stroke-width="0.6"/><path d="M283.7,403.2 L306.1,394.5 L306.9,396.7 L284.4,405.1 Z" fill="rgb(222,222,222)" stroke="rgb(222,222,222)" stroke-width="0.6"/><path d="M284.4,405.1 L306.9,396.7 L307.8,399.0 L285.2,407.1 Z" fill="rgb(223,223,223)" stroke="rgb(223,223,223)" stroke-width="0.6"/><path d="M285.2,407.1 L307.8,399.0 L308.6,401.3 L285.8,409.0 Z" fill="rgb(226,226,226)" stroke="rgb(226,226,226)" stroke-width="0.6"/><path d="M285.8,409.0 L308.6,401.3 L309.3,403.6 L286.5,411.0 Z" fill="rgb(230,230,230)" stroke="rgb(230,230,230)" stroke-width="0.6"/><path d="M286.5,411.0 L309.3,403.6 L310.1,405.9 L287.1,413.0 Z" fill="rgb(234,234,234)" stroke="rgb(234,234,234)" stroke-width="0.6"/><path d="M287.1,413.0 L310.1,405.9 L310.8,408.3 L287.7,415.0 Z" fill="rgb(238,238,238)" stroke="rgb(238,238,238)" stroke-width="0.6"/><path d="M295.7,372.5 L318.3,359.8 L319.7,362.2 L296.9,374.6 Z" fill="rgb(241,241,241)" stroke="rgb(241,241,241)" stroke-width="0.6"/><path d="M296.9,374.6 L319.7,362.2 L321.0,364.7 L298.0,376.8 Z" fill="rgb(242,242,242)" stroke="rgb(242,242,242)" stroke-width="0.6"/><path d="M298.0,376.8 L321.0,364.7 L322.3,367.2 L299.1,378.9 Z" fill="rgb(244,244,244)" stroke="rgb(244,244,244)" stroke-width="0.6"/><path d="M299.1,378.9 L322.3,367.2 L323.6,369.7 L300.2,381.1 Z" fill="rgb(244,244,244)" stroke="rgb(244,244,244)" stroke-width="0.6"/><path d="M300.2,381.1 L323.6,369.7 L324.8,372.2 L301.3,383.3 Z" fill="rgb(241,241,241)" stroke="rgb(241,241,241)" stroke-width="0.6"/><path d="M301.3,383.3 L324.8,372.2 L326.0,374.7 L302.3,385.5 Z" fill="rgb(238,238,238)" stroke="rgb(238,238,238)" stroke-width="0.6"/><path d="M302.3,385.5 L326.0,374.7 L327.1,377.3 L303.3,387.7 Z" fill="rgb(234,234,234)" stroke="rgb(234,234,234)" stroke-width="0.6"/><path d="M303.3,387.7 L327.1,377.3 L328.2,379.9 L304.2,390.0 Z" fill="rgb(230,230,230)" stroke="rgb(230,230,230)" stroke-width="0.6"/><path d="M304.2,390.0 L328.2,379.9 L329.3,382.4 L305.2,392.2 Z" fill="rgb(227,227,227)" stroke="rgb(227,227,227)" stroke-width="0.6"/><path d="M305.2,392.2 L329.3,382.4 L330.3,385.1 L306.1,394.5 Z" fill="rgb(224,224,224)" stroke="rgb(224,224,224)" stroke-width="0.6"/><path d="M306.1,394.5 L330.3,385.1 L331.3,387.7 L306.9,396.7 Z" fill="rgb(223,223,223)" stroke="rgb(223,223,223)" stroke-width="0.6"/><path d="M306.9,396.7 L331.3,387.7 L332.3,390.3 L307.8,399.0 Z" fill="rgb(223,223,223)" stroke="rgb(223,223,223)" stroke-width="0.6"/><path d="M307.8,399.0 L332.3,390.3 L333.2,392.9 L308.6,401.3 Z" fill="rgb(225,225,225)" stroke="rgb(225,225,225)" stroke-width="0.6"/><path d="M308.6,401.3 L333.2,392.9 L334.1,395.6 L309.3,403.6 Z" fill="rgb(228,228,228)" stroke="rgb(228,228,228)" stroke-width="0.6"/><path d="M309.3,403.6 L334.1,395.6 L334.9,398.3 L310.1,405.9 Z" fill="rgb(231,231,231)" stroke="rgb(231,231,231)" stroke-width="0.6"/><path d="M310.1,405.9 L334.9,398.3 L335.7,401.0 L310.8,408.3 Z" fill="rgb(235,235,235)" stroke="rgb(235,235,235)" stroke-width="0.6"/><path d="M318.3,359.8 L342.7,346.0 L344.3,348.8 L319.7,362.2 Z" fill="rgb(244,244,244)" stroke="rgb(244,244,244)" stroke-width="0.6"/><path d="M319.7,362.2 L344.3,348.8 L345.8,351.6 L321.0,364.7 Z" fill="rgb(245,245,245)" stroke="rgb(245,245,245)" stroke-width="0.6"/><path d="M321.0,364.7 L345.8,351.6 L347.3,354.5 L322.3,367.2 Z" fill="rgb(246,246,246)" stroke="rgb(246,246,246)" stroke-width="0.6"/><path d="M322.3,367.2 L347.3,354.5 L348.7,357.3 L323.6,369.7 Z" fill="rgb(246,246,246)" stroke="rgb(246,246,246)" stroke-width="0.6"/><path d="M323.6,369.7 L348.7,357.3 L350.1,360.2 L324.8,372.2 Z" fill="rgb(244,244,244)" stroke="rgb(244,244,244)" stroke-width="0.6"/><path d="M324.8,372.2 L350.1,360.2 L351.4,363.1 L326.0,374.7 Z" fill="rgb(241,241,241)" stroke="rgb(241,241,241)" stroke-width="0.6"/><path d="M326.0,374.7 L351.4,363.1 L352.7,366.0 L327.1,377.3 Z" fill="rgb(238,238,238)" stroke="rgb(238,238,238)" stroke-width="0.6"/><path d="M327.1,377.3 L352.7,366.0 L354.0,369.0 L328.2,379.9 Z" fill="rgb(235,235,235)" stroke="rgb(235,235,235)" stroke-width="0.6"/><path d="M328.2,379.9 L354.0,369.0 L355.2,371.9 L329.3,382.4 Z" fill="rgb(231,231,231)" stroke="rgb(231,231,231)" stroke-width="0.6"/><path d="M329.3,382.4 L355.2,371.9 L356.4,374.9 L330.3,385.1 Z" fill="rgb(227,227,227)" stroke="rgb(227,227,227)" stroke-width="0.6"/><path d="M330.3,385.1 L356.4,374.9 L357.5,377.9 L331.3,387.7 Z" fill="rgb(225,225,225)" stroke="rgb(225,225,225)" stroke-width="0.6"/><path d="M331.3,387.7 L357.5,377.9 L358.6,380.9 L332.3,390.3 Z" fill="rgb(224,224,224)" stroke="rgb(224,224,224)" stroke-width="0.6"/><path d="M332.3,390.3 L358.6,380.9 L359.7,383.9 L333.2,392.9 Z" fill="rgb(224,224,224)" stroke="rgb(224,224,224)" stroke-width="0.6"/><path d="M333.2,392.9 L359.7,383.9 L360.7,387.0 L334.1,395.6 Z" fill="rgb(226,226,226)" stroke="rgb(226,226,226)" stroke-width="0.6"/><path d="M334.1,395.6 L360.7,387.0 L361.7,390.0 L334.9,398.3 Z" fill="rgb(229,229,229)" stroke="rgb(229,229,229)" stroke-width="0.6"/><path d="M334.9,398.3 L361.7,390.0 L362.6,393.1 L335.7,401.0 Z" fill="rgb(232,232,232)" stroke="rgb(232,232,232)" stroke-width="0.6"/><path d="M342.7,346.0 L370.6,330.3 L372.4,333.5 L344.3,348.8 Z" fill="rgb(246,246,246)" stroke="rgb(246,246,246)" stroke-width="0.6"/><path d="M344.3,348.8 L372.4,333.5 L374.1,336.7 L345.8,351.6 Z" fill="rgb(247,247,247)" stroke="rgb(247,247,247)" stroke-width="0.6"/><path d="M347.3,354.5 L375.8,340.0 L377.4,343.2 L348.7,357.3 Z" fill="rgb(247,247,247)" stroke="rgb(247,247,247)" stroke-width="0.6"/><path d="M348.7,357.3 L377.4,343.2 L379.0,346.5 L350.1,360.2 Z" fill="rgb(246,246,246)" stroke="rgb(246,246,246)" stroke-width="0.6"/><path d="M350.1,360.2 L379.0,346.5 L380.6,349.9 L351.4,363.1 Z" fill="rgb(244,244,244)" stroke="rgb(244,244,244)" stroke-width="0.6"/><path d="M351.4,363.1 L380.6,349.9 L382.0,353.2 L352.7,366.0 Z" fill="rgb(242,242,242)" stroke="rgb(242,242,242)" stroke-width="0.6"/><path d="M352.7,366.0 L382.0,353.2 L383.5,356.6 L354.0,369.0 Z" fill="rgb(238,238,238)" stroke="rgb(238,238,238)" stroke-width="0.6"/><path d="M354.0,369.0 L383.5,356.6 L384.9,359.9 L355.2,371.9 Z" fill="rgb(235,235,235)" stroke="rgb(235,235,235)" stroke-width="0.6"/><path d="M355.2,371.9 L384.9,359.9 L386.2,363.3 L356.4,374.9 Z" fill="rgb(231,231,231)" stroke="rgb(231,231,231)" stroke-width="0.6"/><path d="M356.4,374.9 L386.2,363.3 L387.5,366.8 L357.5,377.9 Z" fill="rgb(228,228,228)" stroke="rgb(228,228,228)" stroke-width="0.6"/><path d="M357.5,377.9 L387.5,366.8 L388.8,370.2 L358.6,380.9 Z" fill="rgb(226,226,226)" stroke="rgb(226,226,226)" stroke-width="0.6"/><path d="M358.6,380.9 L388.8,370.2 L390.0,373.6 L359.7,383.9 Z" fill="rgb(224,224,224)" stroke="rgb(224,224,224)" stroke-width="0.6"/><path d="M359.7,383.9 L390.0,373.6 L391.1,377.1 L360.7,387.0 Z" fill="rgb(225,225,225)" stroke="rgb(225,225,225)" stroke-width="0.6"/><path d="M360.7,387.0 L391.1,377.1 L392.2,380.6 L361.7,390.0 Z" fill="rgb(226,226,226)" stroke="rgb(226,226,226)" stroke-width="0.6"/><path d="M361.7,390.0 L392.2,380.6 L393.3,384.1 L362.6,393.1 Z" fill="rgb(229,229,229)" stroke="rgb(229,229,229)" stroke-width="0.6"/><path d="M370.6,330.3 L400.2,313.6 L402.2,317.2 L372.4,333.5 Z" fill="rgb(247,247,247)" stroke="rgb(247,247,247)" stroke-width="0.6"/><path d="M375.8,340.0 L406.1,324.6 L408.0,328.3 L377.4,343.2 Z" fill="rgb(247,247,247)" stroke="rgb(247,247,247)" stroke-width="0.6"/><path d="M377.4,343.2 L408.0,328.3 L409.8,332.0 L379.0,346.5 Z" fill="rgb(246,246,246)" stroke="rgb(246,246,246)" stroke-width="0.6"/><path d="M379.0,346.5 L409.8,332.0 L411.5,335.8 L380.6,349.9 Z" fill="rgb(244,244,244)" stroke="rgb(244,244,244)" stroke-width="0.6"/><path d="M380.6,349.9 L411.5,335.8 L413.2,339.5 L382.0,353.2 Z" fill="rgb(242,242,242)" stroke="rgb(242,242,242)" stroke-width="0.6"/><path d="M382.0,353.2 L413.2,339.5 L414.8,343.3 L383.5,356.6 Z" fill="rgb(239,239,239)" stroke="rgb(239,239,239)" stroke-width="0.6"/><path d="M383.5,356.6 L414.8,343.3 L416.4,347.2 L384.9,359.9 Z" fill="rgb(235,235,235)" stroke="rgb(235,235,235)" stroke-width="0.6"/><path d="M384.9,359.9 L416.4,347.2 L417.9,351.0 L386.2,363.3 Z" fill="rgb(232,232,232)" stroke="rgb(232,232,232)" stroke-width="0.6"/><path d="M386.2,363.3 L417.9,351.0 L419.4,354.9 L387.5,366.8 Z" fill="rgb(228,228,228)" stroke="rgb(228,228,228)" stroke-width="0.6"/><path d="M387.5,366.8 L419.4,354.9 L420.8,358.8 L388.8,370.2 Z" fill="rgb(226,226,226)" stroke="rgb(226,226,226)" stroke-width="0.6"/><path d="M388.8,370.2 L420.8,358.8 L422.2,362.7 L390.0,373.6 Z" fill="rgb(225,225,225)" stroke="rgb(225,225,225)" stroke-width="0.6"/><path d="M390.0,373.6 L422.2,362.7 L423.5,366.6 L391.1,377.1 Z" fill="rgb(225,225,225)" stroke="rgb(225,225,225)" stroke-width="0.6"/><path d="M391.1,377.1 L423.5,366.6 L424.7,370.6 L392.2,380.6 Z" fill="rgb(227,227,227)" stroke="rgb(227,227,227)" stroke-width="0.6"/><path d="M392.2,380.6 L424.7,370.6 L425.9,374.6 L393.3,384.1 Z" fill="rgb(230,230,230)" stroke="rgb(230,230,230)" stroke-width="0.6"/></g>
<linearGradient id="stg" gradientUnits="userSpaceOnUse" x1="147.6" y1="456" x2="278.3" y2="382.3"><stop offset="0" stop-color="#000" stop-opacity="1"/><stop offset="0.45" stop-color="#000" stop-opacity="0.9"/><stop offset="0.65" stop-color="#000" stop-opacity="0.45"/><stop offset="0.85" stop-color="#000" stop-opacity="0.15"/><stop offset="1" stop-color="#000" stop-opacity="0"/></linearGradient>
<path d="M146.9,454.7 L275.6,377.6 L278.0,381.9 L149.1,458.6 Z" fill="url(#stg)" filter="url(#bl1)"/>
<line x1="147.6" y1="456" x2="161.0" y2="469.4" stroke="#000" stroke-width="1.0" opacity="0.22" filter="url(#bl1)"/>
<line x1="147.6" y1="456" x2="132.8" y2="470.8" stroke="#000" stroke-width="1.0" opacity="0.22" filter="url(#bl1)"/>
<line x1="147.6" y1="456" x2="133.5" y2="441.9" stroke="#000" stroke-width="1.0" opacity="0.22" filter="url(#bl1)"/>
<line x1="147.6" y1="456" x2="150.3" y2="448.5" stroke="#000" stroke-width="1.0" opacity="0.22" filter="url(#bl1)"/>
<circle cx="147.6" cy="456" r="5.5" fill="#000" opacity="0.25" filter="url(#bl1)"/>
<circle cx="147.6" cy="456" r="3.4" fill="#050505"/>
<line x1="147.6" y1="456" x2="380" y2="325" stroke="#d40f1c" stroke-width="1.7"/>
<line x1="147.6" y1="456" x2="380" y2="388" stroke="#d40f1c" stroke-width="1.7"/>
<line x1="147.6" y1="456" x2="196" y2="409" stroke="#d40f1c" stroke-width="1.6"/>
<path d="M209.2,396.6 L188.6,405.8 L199.8,416.6 Z" fill="#d40f1c"/>
<rect x="70.5" y="301" width="309.5" height="232.5" fill="none" stroke="#111" stroke-width="1.5"/>
<line x1="82.9" y1="533.5" x2="82.9" y2="528.6" stroke="#222" stroke-width="1.1"/>
<line x1="82.4" y1="301" x2="82.4" y2="305.8" stroke="#222" stroke-width="1.1"/>
<line x1="147.9" y1="533.5" x2="147.9" y2="528.6" stroke="#222" stroke-width="1.1"/>
<line x1="147.4" y1="301" x2="147.4" y2="305.8" stroke="#222" stroke-width="1.1"/>
<line x1="212.9" y1="533.5" x2="212.9" y2="528.6" stroke="#222" stroke-width="1.1"/>
<line x1="212.4" y1="301" x2="212.4" y2="305.8" stroke="#222" stroke-width="1.1"/>
<line x1="278.0" y1="533.5" x2="278.0" y2="528.6" stroke="#222" stroke-width="1.1"/>
<line x1="277.5" y1="301" x2="277.5" y2="305.8" stroke="#222" stroke-width="1.1"/>
<line x1="343.0" y1="533.5" x2="343.0" y2="528.6" stroke="#222" stroke-width="1.1"/>
<line x1="342.5" y1="301" x2="342.5" y2="305.8" stroke="#222" stroke-width="1.1"/>
<line x1="70.5" y1="339.3" x2="75.2" y2="339.3" stroke="#222" stroke-width="1.1"/>
<line x1="380" y1="339.3" x2="375.3" y2="339.3" stroke="#222" stroke-width="1.1"/>
<line x1="70.5" y1="397.8" x2="75.2" y2="397.8" stroke="#222" stroke-width="1.1"/>
<line x1="380" y1="397.8" x2="375.3" y2="397.8" stroke="#222" stroke-width="1.1"/>
<line x1="70.5" y1="456.2" x2="75.2" y2="456.2" stroke="#222" stroke-width="1.1"/>
<line x1="380" y1="456.2" x2="375.3" y2="456.2" stroke="#222" stroke-width="1.1"/>
<line x1="70.5" y1="514.6" x2="75.2" y2="514.6" stroke="#222" stroke-width="1.1"/>
<line x1="380" y1="514.6" x2="375.3" y2="514.6" stroke="#222" stroke-width="1.1"/>
<filter id="blc"><feGaussianBlur stdDeviation="0.8"/></filter>
<filter id="blc2"><feGaussianBlur stdDeviation="1.5"/></filter>
<linearGradient id="vf" x1="0" y1="0" x2="0" y2="1"><stop offset="0" stop-color="#6262f8" stop-opacity="0.95"/><stop offset="0.45" stop-color="#6363f8" stop-opacity="0.9"/><stop offset="0.7" stop-color="#7a7af9" stop-opacity="0.4"/><stop offset="1" stop-color="#9a9afb" stop-opacity="0"/></linearGradient>
<linearGradient id="vf2" x1="0" y1="0" x2="0" y2="1"><stop offset="0" stop-color="#a0a0fb" stop-opacity="0.5"/><stop offset="1" stop-color="#c0c0fd" stop-opacity="0"/></linearGradient>
<rect x="552.8" y="355" width="5.4" height="179" fill="#8a8afa"/>
<rect x="558.2" y="362" width="4.8" height="172" fill="#ababfb"/>
<rect x="563" y="372" width="3.5" height="162" fill="#d4d4fd"/>
<rect x="566.5" y="380" width="6" height="154" fill="#ececfe"/>
<g filter="url(#blc)"><rect x="552.8" y="347.7" width="1.3" height="60.0" fill="url(#vf)"/><rect x="553.8" y="348.7" width="1.3" height="74.5" fill="url(#vf)"/><rect x="554.8" y="349.7" width="1.3" height="59.4" fill="url(#vf)"/><rect x="555.8" y="350.7" width="1.3" height="77.2" fill="url(#vf)"/><rect x="556.8" y="351.7" width="1.3" height="66.1" fill="url(#vf)"/><rect x="556.8" y="383.1" width="1" height="40.4" fill="url(#vf2)"/><rect x="557.8" y="352.7" width="1.3" height="60.6" fill="url(#vf)"/><rect x="558.8" y="353.7" width="1.3" height="50.2" fill="url(#vf)"/><rect x="559.8" y="354.7" width="1.3" height="53.9" fill="url(#vf)"/><rect x="559.8" y="384.1" width="1" height="44.7" fill="url(#vf2)"/><rect x="560.8" y="355.7" width="1.3" height="74.8" fill="url(#vf)"/><rect x="561.8" y="356.7" width="1.3" height="69.6" fill="url(#vf)"/><rect x="562.8" y="357.6" width="1.3" height="44.8" fill="url(#vf)"/><rect x="562.8" y="385.0" width="1" height="94.2" fill="url(#vf2)"/><rect x="563.8" y="358.6" width="1.3" height="45.7" fill="url(#vf)"/><rect x="564.8" y="359.5" width="1.3" height="51.0" fill="url(#vf)"/><rect x="564.8" y="385.4" width="1" height="128.8" fill="url(#vf2)"/><rect x="565.8" y="360.4" width="1.3" height="43.4" fill="url(#vf)"/><rect x="566.8" y="361.3" width="1.3" height="50.1" fill="url(#vf)"/><rect x="567.8" y="362.3" width="1.3" height="46.0" fill="url(#vf)"/><rect x="568.8" y="363.2" width="1.3" height="40.9" fill="url(#vf)"/><rect x="568.8" y="386.1" width="1" height="133.4" fill="url(#vf2)"/><rect x="569.8" y="364.1" width="1.3" height="40.6" fill="url(#vf)"/><rect x="570.8" y="365.0" width="1.3" height="38.7" fill="url(#vf)"/><rect x="571.8" y="366.0" width="1.3" height="51.5" fill="url(#vf)"/><rect x="572.8" y="366.9" width="1.3" height="47.0" fill="url(#vf)"/><rect x="573.8" y="367.8" width="1.3" height="44.6" fill="url(#vf)"/><rect x="573.8" y="387.0" width="1" height="91.0" fill="url(#vf2)"/><rect x="574.8" y="369.0" width="1.3" height="44.8" fill="url(#vf)"/><rect x="574.8" y="387.4" width="1" height="138.4" fill="url(#vf2)"/><rect x="575.8" y="370.2" width="1.3" height="44.3" fill="url(#vf)"/><rect x="576.8" y="371.4" width="1.3" height="33.7" fill="url(#vf)"/><rect x="577.8" y="372.6" width="1.3" height="32.7" fill="url(#vf)"/><rect x="578.8" y="373.8" width="1.3" height="31.4" fill="url(#vf)"/><rect x="578.8" y="389.6" width="1" height="49.7" fill="url(#vf2)"/><rect x="579.8" y="375.0" width="1.3" height="35.1" fill="url(#vf)"/><rect x="580.8" y="376.2" width="1.3" height="30.3" fill="url(#vf)"/><rect x="581.8" y="377.5" width="1.3" height="29.7" fill="url(#vf)"/><rect x="582.8" y="378.6" width="1.3" height="23.9" fill="url(#vf)"/><rect x="583.8" y="379.7" width="1.3" height="27.6" fill="url(#vf)"/><rect x="584.8" y="380.8" width="1.3" height="22.3" fill="url(#vf)"/><rect x="584.8" y="393.4" width="1" height="75.0" fill="url(#vf2)"/><rect x="585.8" y="381.9" width="1.3" height="31.1" fill="url(#vf)"/><rect x="585.8" y="394.2" width="1" height="99.6" fill="url(#vf2)"/><rect x="586.8" y="383.0" width="1.3" height="23.0" fill="url(#vf)"/><rect x="586.8" y="395.1" width="1" height="46.5" fill="url(#vf2)"/><rect x="587.8" y="384.1" width="1.3" height="28.5" fill="url(#vf)"/><rect x="588.8" y="385.2" width="1.3" height="22.8" fill="url(#vf)"/><rect x="589.8" y="386.3" width="1.3" height="25.7" fill="url(#vf)"/><rect x="590.8" y="387.4" width="1.3" height="28.3" fill="url(#vf)"/><rect x="591.8" y="388.4" width="1.3" height="28.4" fill="url(#vf)"/><rect x="592.8" y="389.4" width="1.3" height="23.9" fill="url(#vf)"/><rect x="593.8" y="390.4" width="1.3" height="22.7" fill="url(#vf)"/><rect x="594.8" y="391.4" width="1.3" height="19.9" fill="url(#vf)"/><rect x="595.8" y="392.4" width="1.3" height="18.9" fill="url(#vf)"/><rect x="595.8" y="403.1" width="1" height="113.2" fill="url(#vf2)"/><rect x="596.8" y="393.4" width="1.3" height="25.3" fill="url(#vf)"/><rect x="597.8" y="394.4" width="1.3" height="25.9" fill="url(#vf)"/><rect x="597.8" y="405.0" width="1" height="63.0" fill="url(#vf2)"/><rect x="598.8" y="395.4" width="1.3" height="20.0" fill="url(#vf)"/><rect x="599.8" y="396.4" width="1.3" height="18.6" fill="url(#vf)"/><rect x="599.8" y="407.0" width="1" height="69.4" fill="url(#vf2)"/><rect x="600.8" y="397.6" width="1.3" height="26.1" fill="url(#vf)"/><rect x="601.8" y="398.8" width="1.3" height="24.4" fill="url(#vf)"/><rect x="602.8" y="399.9" width="1.3" height="19.1" fill="url(#vf)"/><rect x="603.8" y="401.1" width="1.3" height="21.8" fill="url(#vf)"/><rect x="604.8" y="402.3" width="1.3" height="16.6" fill="url(#vf)"/><rect x="605.8" y="403.4" width="1.3" height="24.7" fill="url(#vf)"/><rect x="606.8" y="404.6" width="1.3" height="25.0" fill="url(#vf)"/><rect x="607.8" y="405.8" width="1.3" height="20.3" fill="url(#vf)"/><rect x="608.8" y="406.8" width="1.3" height="24.4" fill="url(#vf)"/><rect x="609.8" y="407.9" width="1.3" height="21.2" fill="url(#vf)"/><rect x="610.8" y="408.9" width="1.3" height="23.4" fill="url(#vf)"/><rect x="611.8" y="410.0" width="1.3" height="22.4" fill="url(#vf)"/><rect x="612.8" y="411.0" width="1.3" height="15.8" fill="url(#vf)"/><rect x="613.8" y="412.1" width="1.3" height="21.8" fill="url(#vf)"/><rect x="614.8" y="413.1" width="1.3" height="21.1" fill="url(#vf)"/><rect x="615.8" y="414.2" width="1.3" height="19.3" fill="url(#vf)"/><rect x="616.8" y="415.2" width="1.3" height="24.0" fill="url(#vf)"/><rect x="617.8" y="416.3" width="1.3" height="16.1" fill="url(#vf)"/><rect x="618.8" y="417.3" width="1.3" height="15.4" fill="url(#vf)"/><rect x="619.8" y="418.4" width="1.3" height="16.5" fill="url(#vf)"/><rect x="620.8" y="419.4" width="1.3" height="21.3" fill="url(#vf)"/><rect x="621.8" y="420.5" width="1.3" height="20.1" fill="url(#vf)"/><rect x="622.8" y="421.5" width="1.3" height="19.6" fill="url(#vf)"/><rect x="623.8" y="422.6" width="1.3" height="16.5" fill="url(#vf)"/><rect x="624.8" y="423.6" width="1.3" height="18.4" fill="url(#vf)"/><rect x="625.8" y="424.7" width="1.3" height="20.0" fill="url(#vf)"/><rect x="626.8" y="425.7" width="1.3" height="21.4" fill="url(#vf)"/><rect x="627.8" y="426.8" width="1.3" height="22.0" fill="url(#vf)"/><rect x="628.8" y="427.9" width="1.3" height="14.8" fill="url(#vf)"/><rect x="629.8" y="429.1" width="1.3" height="15.3" fill="url(#vf)"/><rect x="630.8" y="430.3" width="1.3" height="16.3" fill="url(#vf)"/><rect x="631.8" y="431.4" width="1.3" height="16.9" fill="url(#vf)"/><rect x="632.8" y="432.6" width="1.3" height="17.4" fill="url(#vf)"/><rect x="633.8" y="433.8" width="1.3" height="18.1" fill="url(#vf)"/><rect x="634.8" y="435.0" width="1.3" height="22.7" fill="url(#vf)"/><rect x="635.8" y="436.1" width="1.3" height="19.0" fill="url(#vf)"/><rect x="636.8" y="437.3" width="1.3" height="23.0" fill="url(#vf)"/><rect x="637.8" y="438.5" width="1.3" height="19.8" fill="url(#vf)"/><rect x="638.8" y="439.6" width="1.3" height="20.9" fill="url(#vf)"/><rect x="639.8" y="440.7" width="1.3" height="17.1" fill="url(#vf)"/><rect x="640.8" y="441.8" width="1.3" height="18.9" fill="url(#vf)"/></g>
<path d="M637.4,438.0 L656.0,459.0 L675.0,478.0 L675.0,485.0 L656.0,467.5 L637.4,447.0 Z" fill="#6565f8" filter="url(#blc)"/>
<polyline points="672.0,477.0 675.1,485.7 677.3,481.2 680.8,488.1 682.5,486.1 685.6,493.9 688.0,489.2 689.5,496.8 691.9,492.8 694.2,499.8 696.2,496.7 698.5,501.4 701.4,497.4 704.4,504.7 706.4,501.0 708.8,507.2 712.3,504.6 714.7,508.7 717.6,504.0 720.7,509.8 723.7,505.7 726.9,509.8 729.8,506.3" fill="none" stroke="#7070f8" stroke-width="0.9" opacity="0.6" filter="url(#blc)"/>
<path d="M675.0,479.4 L693.6,494.9 L712.0,504.2 L723.0,506.5 L731.0,506.3 L731.0,508.7 L723.0,509.4 L712.0,507.8 L693.6,499.1 L675.0,483.6 Z" fill="#8080fa" opacity="0.35"/>
<line x1="667.4" y1="458" x2="667.4" y2="479" stroke="#6565f8" stroke-width="0.8" opacity="0.7"/>
<polyline points="555,322.3 559.7,324.4 565.7,328.6 571.6,333.4 577.6,339.3 583.5,346.5 593.7,356.8 604.2,367.4 614.7,377.9 625.3,387.4 635.8,396.8 646.3,404.2 656,410.2" fill="none" stroke="#f3a3a3" stroke-width="1.9"/>
<linearGradient id="pkg" x1="0" y1="0" x2="0" y2="1"><stop offset="0" stop-color="#f3a3a3" stop-opacity="1"/><stop offset="0.5" stop-color="#f3a3a3" stop-opacity="0.85"/><stop offset="1" stop-color="#f5b5b5" stop-opacity="0.4"/></linearGradient>
<path d="M531.4,343 L531.7,320.5 L535.9,319.3 L540.7,317.5 L547.8,318.7 L555,319.9 L559.7,322.9 L561,325.5 L555,324.6 L547.8,326.4 L540.7,328.8 L535.9,334.8 L532,345 Z" fill="url(#pkg)" filter="url(#blc)"/>
<line x1="531.8" y1="318.7" x2="531.8" y2="322.7" stroke="#f09a9a" stroke-width="0.8" opacity="0.3"/>
<line x1="548.9" y1="316.6" x2="548.9" y2="319.2" stroke="#f09a9a" stroke-width="0.8" opacity="0.3"/>
<line x1="537.4" y1="318.7" x2="537.4" y2="321.4" stroke="#f09a9a" stroke-width="0.8" opacity="0.3"/>
<line x1="550.4" y1="318.5" x2="550.4" y2="321.2" stroke="#f09a9a" stroke-width="0.8" opacity="0.3"/>
<line x1="545.2" y1="316.9" x2="545.2" y2="321.0" stroke="#f09a9a" stroke-width="0.8" opacity="0.3"/>
<line x1="556.9" y1="318.7" x2="556.9" y2="320.8" stroke="#f09a9a" stroke-width="0.8" opacity="0.3"/>
<line x1="555.5" y1="318.9" x2="555.5" y2="321.9" stroke="#f09a9a" stroke-width="0.8" opacity="0.3"/>
<line x1="539.9" y1="316.5" x2="539.9" y2="323.3" stroke="#f09a9a" stroke-width="0.8" opacity="0.3"/>
<line x1="536.9" y1="317.3" x2="536.9" y2="322.2" stroke="#f09a9a" stroke-width="0.8" opacity="0.3"/>
<line x1="545.5" y1="318.5" x2="545.5" y2="324.7" stroke="#f09a9a" stroke-width="0.8" opacity="0.3"/>
<line x1="540.6" y1="315.8" x2="540.6" y2="322.0" stroke="#f09a9a" stroke-width="0.8" opacity="0.3"/>
<line x1="556.7" y1="318.5" x2="556.7" y2="324.1" stroke="#f09a9a" stroke-width="0.8" opacity="0.3"/>
<line x1="553.6" y1="319.2" x2="553.6" y2="322.3" stroke="#f09a9a" stroke-width="0.8" opacity="0.3"/>
<line x1="551.8" y1="319.0" x2="551.8" y2="322.0" stroke="#f09a9a" stroke-width="0.8" opacity="0.3"/>
<line x1="547.8" y1="316.6" x2="547.8" y2="318.8" stroke="#f09a9a" stroke-width="0.8" opacity="0.3"/>
<line x1="540.1" y1="316.4" x2="540.1" y2="320.4" stroke="#f09a9a" stroke-width="0.8" opacity="0.3"/>
<line x1="548.0" y1="318.5" x2="548.0" y2="325.3" stroke="#f09a9a" stroke-width="0.8" opacity="0.3"/>
<line x1="556.4" y1="321.2" x2="556.4" y2="327.1" stroke="#f09a9a" stroke-width="0.8" opacity="0.3"/>
<line x1="539.3" y1="316.2" x2="539.3" y2="321.3" stroke="#f09a9a" stroke-width="0.8" opacity="0.3"/>
<line x1="545.4" y1="317.7" x2="545.4" y2="320.1" stroke="#f09a9a" stroke-width="0.8" opacity="0.3"/>
<line x1="536.4" y1="319.6" x2="536.4" y2="324.6" stroke="#f09a9a" stroke-width="0.8" opacity="0.3"/>
<line x1="549.2" y1="316.6" x2="549.2" y2="320.5" stroke="#f09a9a" stroke-width="0.8" opacity="0.3"/>
<line x1="554.7" y1="319.4" x2="554.7" y2="326.3" stroke="#f09a9a" stroke-width="0.8" opacity="0.3"/>
<line x1="536.5" y1="318.2" x2="536.5" y2="324.2" stroke="#f09a9a" stroke-width="0.8" opacity="0.3"/>
<line x1="542.8" y1="317.6" x2="542.8" y2="322.4" stroke="#f09a9a" stroke-width="0.8" opacity="0.3"/>
<line x1="534.5" y1="317.8" x2="534.5" y2="324.7" stroke="#f09a9a" stroke-width="0.8" opacity="0.3"/>
<line x1="534.5" y1="318.1" x2="534.5" y2="321.7" stroke="#f09a9a" stroke-width="0.8" opacity="0.3"/>
<line x1="549.7" y1="318.9" x2="549.7" y2="323.3" stroke="#f09a9a" stroke-width="0.8" opacity="0.3"/>
<line x1="544.2" y1="317.8" x2="544.2" y2="321.2" stroke="#f09a9a" stroke-width="0.8" opacity="0.3"/>
<line x1="541.0" y1="316.8" x2="541.0" y2="322.0" stroke="#f09a9a" stroke-width="0.8" opacity="0.3"/>
<line x1="532.5" y1="318.5" x2="532.5" y2="321.2" stroke="#f09a9a" stroke-width="0.8" opacity="0.3"/>
<line x1="550.0" y1="318.5" x2="550.0" y2="325.4" stroke="#f09a9a" stroke-width="0.8" opacity="0.3"/>
<line x1="551.1" y1="317.4" x2="551.1" y2="323.3" stroke="#f09a9a" stroke-width="0.8" opacity="0.3"/>
<line x1="556.6" y1="319.4" x2="556.6" y2="321.4" stroke="#f09a9a" stroke-width="0.8" opacity="0.3"/>
<line x1="541.1" y1="315.9" x2="541.1" y2="318.7" stroke="#f09a9a" stroke-width="0.8" opacity="0.3"/>
<line x1="532.6" y1="318.5" x2="532.6" y2="324.8" stroke="#f09a9a" stroke-width="0.8" opacity="0.3"/>
<line x1="532.8" y1="319.9" x2="532.8" y2="322.9" stroke="#f09a9a" stroke-width="0.8" opacity="0.3"/>
<line x1="536.4" y1="319.3" x2="536.4" y2="322.8" stroke="#f09a9a" stroke-width="0.8" opacity="0.3"/>
<line x1="536.2" y1="318.3" x2="536.2" y2="323.8" stroke="#f09a9a" stroke-width="0.8" opacity="0.3"/>
<line x1="544.9" y1="318.1" x2="544.9" y2="322.1" stroke="#f09a9a" stroke-width="0.8" opacity="0.3"/>
<line x1="531.6" y1="340" x2="531.6" y2="368" stroke="#f3a3a3" stroke-width="1" opacity="0.5"/>
<rect x="524" y="302" width="224.60000000000002" height="232" fill="none" stroke="#111" stroke-width="1.5"/>
<line x1="526.8" y1="534" x2="526.8" y2="529" stroke="#111" stroke-width="1"/>
<line x1="526.8" y1="302" x2="526.8" y2="307" stroke="#111" stroke-width="1"/>
<line x1="548.8" y1="534" x2="548.8" y2="531" stroke="#111" stroke-width="0.8"/>
<line x1="548.8" y1="302" x2="548.8" y2="305" stroke="#111" stroke-width="0.8"/>
<line x1="561.7" y1="534" x2="561.7" y2="531" stroke="#111" stroke-width="0.8"/>
<line x1="561.7" y1="302" x2="561.7" y2="305" stroke="#111" stroke-width="0.8"/>
<line x1="570.9" y1="534" x2="570.9" y2="531" stroke="#111" stroke-width="0.8"/>
<line x1="570.9" y1="302" x2="570.9" y2="305" stroke="#111" stroke-width="0.8"/>
<line x1="578.0" y1="534" x2="578.0" y2="531" stroke="#111" stroke-width="0.8"/>
<line x1="578.0" y1="302" x2="578.0" y2="305" stroke="#111" stroke-width="0.8"/>
<line x1="583.8" y1="534" x2="583.8" y2="531" stroke="#111" stroke-width="0.8"/>
<line x1="583.8" y1="302" x2="583.8" y2="305" stroke="#111" stroke-width="0.8"/>
<line x1="588.7" y1="534" x2="588.7" y2="531" stroke="#111" stroke-width="0.8"/>
<line x1="588.7" y1="302" x2="588.7" y2="305" stroke="#111" stroke-width="0.8"/>
<line x1="592.9" y1="534" x2="592.9" y2="531" stroke="#111" stroke-width="0.8"/>
<line x1="592.9" y1="302" x2="592.9" y2="305" stroke="#111" stroke-width="0.8"/>
<line x1="596.7" y1="534" x2="596.7" y2="531" stroke="#111" stroke-width="0.8"/>
<line x1="596.7" y1="302" x2="596.7" y2="305" stroke="#111" stroke-width="0.8"/>
<line x1="600.0" y1="534" x2="600.0" y2="529" stroke="#111" stroke-width="1"/>
<line x1="600.0" y1="302" x2="600.0" y2="307" stroke="#111" stroke-width="1"/>
<line x1="622.0" y1="534" x2="622.0" y2="531" stroke="#111" stroke-width="0.8"/>
<line x1="622.0" y1="302" x2="622.0" y2="305" stroke="#111" stroke-width="0.8"/>
<line x1="634.9" y1="534" x2="634.9" y2="531" stroke="#111" stroke-width="0.8"/>
<line x1="634.9" y1="302" x2="634.9" y2="305" stroke="#111" stroke-width="0.8"/>
<line x1="644.1" y1="534" x2="644.1" y2="531" stroke="#111" stroke-width="0.8"/>
<line x1="644.1" y1="302" x2="644.1" y2="305" stroke="#111" stroke-width="0.8"/>
<line x1="651.2" y1="534" x2="651.2" y2="531" stroke="#111" stroke-width="0.8"/>
<line x1="651.2" y1="302" x2="651.2" y2="305" stroke="#111" stroke-width="0.8"/>
<line x1="657.0" y1="534" x2="657.0" y2="531" stroke="#111" stroke-width="0.8"/>
<line x1="657.0" y1="302" x2="657.0" y2="305" stroke="#111" stroke-width="0.8"/>
<line x1="661.9" y1="534" x2="661.9" y2="531" stroke="#111" stroke-width="0.8"/>
<line x1="661.9" y1="302" x2="661.9" y2="305" stroke="#111" stroke-width="0.8"/>
<line x1="666.1" y1="534" x2="666.1" y2="531" stroke="#111" stroke-width="0.8"/>
<line x1="666.1" y1="302" x2="666.1" y2="305" stroke="#111" stroke-width="0.8"/>
<line x1="669.9" y1="534" x2="669.9" y2="531" stroke="#111" stroke-width="0.8"/>
<line x1="669.9" y1="302" x2="669.9" y2="305" stroke="#111" stroke-width="0.8"/>
<line x1="673.2" y1="534" x2="673.2" y2="529" stroke="#111" stroke-width="1"/>
<line x1="673.2" y1="302" x2="673.2" y2="307" stroke="#111" stroke-width="1"/>
<line x1="695.2" y1="534" x2="695.2" y2="531" stroke="#111" stroke-width="0.8"/>
<line x1="695.2" y1="302" x2="695.2" y2="305" stroke="#111" stroke-width="0.8"/>
<line x1="708.1" y1="534" x2="708.1" y2="531" stroke="#111" stroke-width="0.8"/>
<line x1="708.1" y1="302" x2="708.1" y2="305" stroke="#111" stroke-width="0.8"/>
<line x1="717.3" y1="534" x2="717.3" y2="531" stroke="#111" stroke-width="0.8"/>
<line x1="717.3" y1="302" x2="717.3" y2="305" stroke="#111" stroke-width="0.8"/>
<line x1="724.4" y1="534" x2="724.4" y2="531" stroke="#111" stroke-width="0.8"/>
<line x1="724.4" y1="302" x2="724.4" y2="305" stroke="#111" stroke-width="0.8"/>
<line x1="730.2" y1="534" x2="730.2" y2="531" stroke="#111" stroke-width="0.8"/>
<line x1="730.2" y1="302" x2="730.2" y2="305" stroke="#111" stroke-width="0.8"/>
<line x1="735.1" y1="534" x2="735.1" y2="531" stroke="#111" stroke-width="0.8"/>
<line x1="735.1" y1="302" x2="735.1" y2="305" stroke="#111" stroke-width="0.8"/>
<line x1="739.3" y1="534" x2="739.3" y2="531" stroke="#111" stroke-width="0.8"/>
<line x1="739.3" y1="302" x2="739.3" y2="305" stroke="#111" stroke-width="0.8"/>
<line x1="743.1" y1="534" x2="743.1" y2="531" stroke="#111" stroke-width="0.8"/>
<line x1="743.1" y1="302" x2="743.1" y2="305" stroke="#111" stroke-width="0.8"/>
<line x1="524" y1="534.0" x2="529" y2="534.0" stroke="#111" stroke-width="1"/>
<line x1="748.6" y1="534.0" x2="743.6" y2="534.0" stroke="#111" stroke-width="1"/>
<line x1="524" y1="520.8" x2="527" y2="520.8" stroke="#111" stroke-width="0.8"/>
<line x1="748.6" y1="520.8" x2="745.6" y2="520.8" stroke="#111" stroke-width="0.8"/>
<line x1="524" y1="513.1" x2="527" y2="513.1" stroke="#111" stroke-width="0.8"/>
<line x1="748.6" y1="513.1" x2="745.6" y2="513.1" stroke="#111" stroke-width="0.8"/>
<line x1="524" y1="507.6" x2="527" y2="507.6" stroke="#111" stroke-width="0.8"/>
<line x1="748.6" y1="507.6" x2="745.6" y2="507.6" stroke="#111" stroke-width="0.8"/>
<line x1="524" y1="503.3" x2="527" y2="503.3" stroke="#111" stroke-width="0.8"/>
<line x1="748.6" y1="503.3" x2="745.6" y2="503.3" stroke="#111" stroke-width="0.8"/>
<line x1="524" y1="499.8" x2="527" y2="499.8" stroke="#111" stroke-width="0.8"/>
<line x1="748.6" y1="499.8" x2="745.6" y2="499.8" stroke="#111" stroke-width="0.8"/>
<line x1="524" y1="496.9" x2="527" y2="496.9" stroke="#111" stroke-width="0.8"/>
<line x1="748.6" y1="496.9" x2="745.6" y2="496.9" stroke="#111" stroke-width="0.8"/>
<line x1="524" y1="494.4" x2="527" y2="494.4" stroke="#111" stroke-width="0.8"/>
<line x1="748.6" y1="494.4" x2="745.6" y2="494.4" stroke="#111" stroke-width="0.8"/>
<line x1="524" y1="492.1" x2="527" y2="492.1" stroke="#111" stroke-width="0.8"/>
<line x1="748.6" y1="492.1" x2="745.6" y2="492.1" stroke="#111" stroke-width="0.8"/>
<line x1="524" y1="490.1" x2="529" y2="490.1" stroke="#111" stroke-width="1"/>
<line x1="748.6" y1="490.1" x2="743.6" y2="490.1" stroke="#111" stroke-width="1"/>
<line x1="524" y1="476.9" x2="527" y2="476.9" stroke="#111" stroke-width="0.8"/>
<line x1="748.6" y1="476.9" x2="745.6" y2="476.9" stroke="#111" stroke-width="0.8"/>
<line x1="524" y1="469.2" x2="527" y2="469.2" stroke="#111" stroke-width="0.8"/>
<line x1="748.6" y1="469.2" x2="745.6" y2="469.2" stroke="#111" stroke-width="0.8"/>
<line x1="524" y1="463.7" x2="527" y2="463.7" stroke="#111" stroke-width="0.8"/>
<line x1="748.6" y1="463.7" x2="745.6" y2="463.7" stroke="#111" stroke-width="0.8"/>
<line x1="524" y1="459.4" x2="527" y2="459.4" stroke="#111" stroke-width="0.8"/>
<line x1="748.6" y1="459.4" x2="745.6" y2="459.4" stroke="#111" stroke-width="0.8"/>
<line x1="524" y1="455.9" x2="527" y2="455.9" stroke="#111" stroke-width="0.8"/>
<line x1="748.6" y1="455.9" x2="745.6" y2="455.9" stroke="#111" stroke-width="0.8"/>
<line x1="524" y1="453.0" x2="527" y2="453.0" stroke="#111" stroke-width="0.8"/>
<line x1="748.6" y1="453.0" x2="745.6" y2="453.0" stroke="#111" stroke-width="0.8"/>
<line x1="524" y1="450.5" x2="527" y2="450.5" stroke="#111" stroke-width="0.8"/>
<line x1="748.6" y1="450.5" x2="745.6" y2="450.5" stroke="#111" stroke-width="0.8"/>
<line x1="524" y1="448.2" x2="527" y2="448.2" stroke="#111" stroke-width="0.8"/>
<line x1="748.6" y1="448.2" x2="745.6" y2="448.2" stroke="#111" stroke-width="0.8"/>
<line x1="524" y1="446.2" x2="529" y2="446.2" stroke="#111" stroke-width="1"/>
<line x1="748.6" y1="446.2" x2="743.6" y2="446.2" stroke="#111" stroke-width="1"/>
<line x1="524" y1="433.0" x2="527" y2="433.0" stroke="#111" stroke-width="0.8"/>
<line x1="748.6" y1="433.0" x2="745.6" y2="433.0" stroke="#111" stroke-width="0.8"/>
<line x1="524" y1="425.3" x2="527" y2="425.3" stroke="#111" stroke-width="0.8"/>
<line x1="748.6" y1="425.3" x2="745.6" y2="425.3" stroke="#111" stroke-width="0.8"/>
<line x1="524" y1="419.8" x2="527" y2="419.8" stroke="#111" stroke-width="0.8"/>
<line x1="748.6" y1="419.8" x2="745.6" y2="419.8" stroke="#111" stroke-width="0.8"/>
<line x1="524" y1="415.5" x2="527" y2="415.5" stroke="#111" stroke-width="0.8"/>
<line x1="748.6" y1="415.5" x2="745.6" y2="415.5" stroke="#111" stroke-width="0.8"/>
<line x1="524" y1="412.0" x2="527" y2="412.0" stroke="#111" stroke-width="0.8"/>
<line x1="748.6" y1="412.0" x2="745.6" y2="412.0" stroke="#111" stroke-width="0.8"/>
<line x1="524" y1="409.1" x2="527" y2="409.1" stroke="#111" stroke-width="0.8"/>
<line x1="748.6" y1="409.1" x2="745.6" y2="409.1" stroke="#111" stroke-width="0.8"/>
<line x1="524" y1="406.6" x2="527" y2="406.6" stroke="#111" stroke-width="0.8"/>
<line x1="748.6" y1="406.6" x2="745.6" y2="406.6" stroke="#111" stroke-width="0.8"/>
<line x1="524" y1="404.3" x2="527" y2="404.3" stroke="#111" stroke-width="0.8"/>
<line x1="748.6" y1="404.3" x2="745.6" y2="404.3" stroke="#111" stroke-width="0.8"/>
<line x1="524" y1="402.3" x2="529" y2="402.3" stroke="#111" stroke-width="1"/>
<line x1="748.6" y1="402.3" x2="743.6" y2="402.3" stroke="#111" stroke-width="1"/>
<line x1="524" y1="389.1" x2="527" y2="389.1" stroke="#111" stroke-width="0.8"/>
<line x1="748.6" y1="389.1" x2="745.6" y2="389.1" stroke="#111" stroke-width="0.8"/>
<line x1="524" y1="381.4" x2="527" y2="381.4" stroke="#111" stroke-width="0.8"/>
<line x1="748.6" y1="381.4" x2="745.6" y2="381.4" stroke="#111" stroke-width="0.8"/>
<line x1="524" y1="375.9" x2="527" y2="375.9" stroke="#111" stroke-width="0.8"/>
<line x1="748.6" y1="375.9" x2="745.6" y2="375.9" stroke="#111" stroke-width="0.8"/>
<line x1="524" y1="371.6" x2="527" y2="371.6" stroke="#111" stroke-width="0.8"/>
<line x1="748.6" y1="371.6" x2="745.6" y2="371.6" stroke="#111" stroke-width="0.8"/>
<line x1="524" y1="368.1" x2="527" y2="368.1" stroke="#111" stroke-width="0.8"/>
<line x1="748.6" y1="368.1" x2="745.6" y2="368.1" stroke="#111" stroke-width="0.8"/>
<line x1="524" y1="365.2" x2="527" y2="365.2" stroke="#111" stroke-width="0.8"/>
<line x1="748.6" y1="365.2" x2="745.6" y2="365.2" stroke="#111" stroke-width="0.8"/>
<line x1="524" y1="362.7" x2="527" y2="362.7" stroke="#111" stroke-width="0.8"/>
<line x1="748.6" y1="362.7" x2="745.6" y2="362.7" stroke="#111" stroke-width="0.8"/>
<line x1="524" y1="360.4" x2="527" y2="360.4" stroke="#111" stroke-width="0.8"/>
<line x1="748.6" y1="360.4" x2="745.6" y2="360.4" stroke="#111" stroke-width="0.8"/>
<line x1="524" y1="358.4" x2="529" y2="358.4" stroke="#111" stroke-width="1"/>
<line x1="748.6" y1="358.4" x2="743.6" y2="358.4" stroke="#111" stroke-width="1"/>
<line x1="524" y1="345.2" x2="527" y2="345.2" stroke="#111" stroke-width="0.8"/>
<line x1="748.6" y1="345.2" x2="745.6" y2="345.2" stroke="#111" stroke-width="0.8"/>
<line x1="524" y1="337.5" x2="527" y2="337.5" stroke="#111" stroke-width="0.8"/>
<line x1="748.6" y1="337.5" x2="745.6" y2="337.5" stroke="#111" stroke-width="0.8"/>
<line x1="524" y1="332.0" x2="527" y2="332.0" stroke="#111" stroke-width="0.8"/>
<line x1="748.6" y1="332.0" x2="745.6" y2="332.0" stroke="#111" stroke-width="0.8"/>
<line x1="524" y1="327.7" x2="527" y2="327.7" stroke="#111" stroke-width="0.8"/>
<line x1="748.6" y1="327.7" x2="745.6" y2="327.7" stroke="#111" stroke-width="0.8"/>
<line x1="524" y1="324.2" x2="527" y2="324.2" stroke="#111" stroke-width="0.8"/>
<line x1="748.6" y1="324.2" x2="745.6" y2="324.2" stroke="#111" stroke-width="0.8"/>
<line x1="524" y1="321.3" x2="527" y2="321.3" stroke="#111" stroke-width="0.8"/>
<line x1="748.6" y1="321.3" x2="745.6" y2="321.3" stroke="#111" stroke-width="0.8"/>
<line x1="524" y1="318.8" x2="527" y2="318.8" stroke="#111" stroke-width="0.8"/>
<line x1="748.6" y1="318.8" x2="745.6" y2="318.8" stroke="#111" stroke-width="0.8"/>
<line x1="524" y1="316.5" x2="527" y2="316.5" stroke="#111" stroke-width="0.8"/>
<line x1="748.6" y1="316.5" x2="745.6" y2="316.5" stroke="#111" stroke-width="0.8"/>
<line x1="524" y1="314.5" x2="529" y2="314.5" stroke="#111" stroke-width="1"/>
<line x1="748.6" y1="314.5" x2="743.6" y2="314.5" stroke="#111" stroke-width="1"/>
<line x1="524" y1="534" x2="534.7" y2="534" stroke="#111" stroke-width="2.2"/>
<line x1="647.5" y1="172.5" x2="652.9" y2="131.7" stroke="#000" stroke-width="2"/>
<path d="M654.8,117.8 L657.8,133.3 L647.9,132.0 Z" fill="#000"/>
<line x1="647.5" y1="172.5" x2="606.0" y2="167.8" stroke="#000" stroke-width="2"/>
<path d="M592.1,166.2 L607.6,162.9 L606.4,172.9 Z" fill="#000"/>
<line x1="647.5" y1="172.5" x2="679.9" y2="141.8" stroke="#c1272d" stroke-width="1.7"/>
<path d="M687.9,134.2 L682.3,145.7 L676.1,139.2 Z" fill="#c1272d"/>
<line x1="647.5" y1="172.5" x2="691.8" y2="176.8" stroke="#2e3192" stroke-width="1.7"/>
<path d="M703.7,178.0 L690.3,181.2 L691.2,172.3 Z" fill="#2e3192"/>
<text x="38.25" y="19.50" font-size="18" stroke="#000" stroke-width="0.3" fill="#000">-5</text>
<text x="38.07" y="56.70" font-size="18" stroke="#000" stroke-width="0.3" fill="#000">-4</text>
<text x="38.25" y="93.90" font-size="18" stroke="#000" stroke-width="0.3" fill="#000">-3</text>
<text x="38.43" y="131.10" font-size="18" stroke="#000" stroke-width="0.3" fill="#000">-2</text>
<text x="38.43" y="168.30" font-size="18" stroke="#000" stroke-width="0.3" fill="#000">-1</text>
<text x="44.24" y="205.50" font-size="18" stroke="#000" stroke-width="0.3" fill="#000">0</text>
<text x="44.42" y="242.70" font-size="18" stroke="#000" stroke-width="0.3" fill="#000">1</text>
<text x="85.71" y="38.60" font-size="21" stroke="#000" stroke-width="0.3" fill="#000" textLength="111.31" lengthAdjust="spacingAndGlyphs">2019 Feb 05</text>
<text x="83.49" y="262.80" font-size="18" stroke="#000" stroke-width="0.3" fill="#000">-10</text>
<text x="133.24" y="262.80" font-size="18" stroke="#000" stroke-width="0.3" fill="#000">0</text>
<text x="169.99" y="262.80" font-size="18" stroke="#000" stroke-width="0.3" fill="#000">10</text>
<text x="211.74" y="262.80" font-size="18" stroke="#000" stroke-width="0.3" fill="#000">20</text>
<text x="253.49" y="262.80" font-size="18" stroke="#000" stroke-width="0.3" fill="#000">30</text>
<text x="295.24" y="262.80" font-size="18" stroke="#000" stroke-width="0.3" fill="#000">40</text>
<text x="336.99" y="262.80" font-size="18" stroke="#000" stroke-width="0.3" fill="#000">50</text>
<text x="378.74" y="262.80" font-size="18" stroke="#000" stroke-width="0.3" fill="#000">60</text>
<text x="420.49" y="262.80" font-size="18" stroke="#000" stroke-width="0.3" fill="#000">70</text>
<text x="462.24" y="262.80" font-size="18" stroke="#000" stroke-width="0.3" fill="#000">80</text>
<text x="503.99" y="262.80" font-size="18" stroke="#000" stroke-width="0.3" fill="#000">90</text>
<text x="540.73" y="262.80" font-size="18" stroke="#000" stroke-width="0.3" fill="#000">100</text>
<text x="583.15" y="262.80" font-size="18" stroke="#000" stroke-width="0.3" fill="#000">110</text>
<text x="624.23" y="262.80" font-size="18" stroke="#000" stroke-width="0.3" fill="#000">120</text>
<text x="665.98" y="262.80" font-size="18" stroke="#000" stroke-width="0.3" fill="#000">130</text>
<text x="707.73" y="262.80" font-size="18" stroke="#000" stroke-width="0.3" fill="#000">140</text>
<text x="-1.26" y="261.70" font-size="18" stroke="#000" stroke-width="0.3" fill="#000" textLength="22.09" lengthAdjust="spacingAndGlyphs">[A]</text>
<text x="378.29" y="288.40" font-size="17" stroke="#000" stroke-width="0.3" fill="#000" textLength="60.27" lengthAdjust="spacingAndGlyphs">[arcsec]</text>
<text transform="translate(17.20,160.26) rotate(-90)" font-size="18" stroke="#000" stroke-width="0.3" fill="#000">1 x 10<tspan font-size="11" dy="-7">4</tspan><tspan dy="7"> [km]</tspan></text>
<text x="281.08" y="103.30" font-size="17.5" stroke="#c8161e" stroke-width="0.3" fill="#c8161e">37</text>
<text x="426.30" y="58.20" font-size="17.5" stroke="#c8161e" stroke-width="0.3" fill="#c8161e">50</text>
<text x="541.02" y="26.30" font-size="17.5" stroke="#c8161e" stroke-width="0.3" fill="#c8161e">60</text>
<text x="580.62" y="26.10" font-size="17.5" stroke="#c8161e" stroke-width="0.3" fill="#c8161e">70</text>
<text x="621.90" y="25.80" font-size="17.5" stroke="#c8161e" stroke-width="0.3" fill="#c8161e">80</text>
<text x="671.10" y="25.80" font-size="17.5" stroke="#c8161e" stroke-width="0.3" fill="#c8161e">90</text>
<text x="713.88" y="24.60" font-size="17.5" stroke="#c8161e" stroke-width="0.3" fill="#c8161e">102</text>
<text x="715.07" y="40.10" font-size="17.5" stroke="#c8161e" stroke-width="0.3" fill="#c8161e">110</text>
<text x="715.07" y="54.40" font-size="17.5" stroke="#c8161e" stroke-width="0.3" fill="#c8161e">120</text>
<text x="715.07" y="69.20" font-size="17.5" stroke="#c8161e" stroke-width="0.3" fill="#c8161e">130</text>
<text transform="translate(337.90,31.46) rotate(90)" font-size="16" stroke="#4ba4a7" stroke-width="0.3" fill="#4ba4a7">5 µm</text>
<text transform="translate(235.50,75.08) rotate(90)" font-size="16" stroke="#4ba4a7" stroke-width="0.3" fill="#4ba4a7">10 µm</text>
<text transform="translate(183.50,105.00) rotate(90)" font-size="16" stroke="#4ba4a7" stroke-width="0.3" fill="#4ba4a7">20 µm</text>
<text transform="translate(153.80,122.36) rotate(90)" font-size="16" stroke="#4ba4a7" stroke-width="0.3" fill="#4ba4a7">50 µm</text>
<text transform="translate(192.80,179.00) rotate(90)" font-size="16" stroke="#4ba4a7" stroke-width="0.3" fill="#4ba4a7">200 µm</text>
<text transform="translate(252.80,167.28) rotate(90)" font-size="16" stroke="#4ba4a7" stroke-width="0.3" fill="#4ba4a7">100 µm</text>
<text transform="translate(368.80,133.76) rotate(90)" font-size="16" stroke="#4ba4a7" stroke-width="0.3" fill="#4ba4a7">50 µm</text>
<text transform="translate(427.80,117.08) rotate(90)" font-size="16" stroke="#4ba4a7" stroke-width="0.3" fill="#4ba4a7">40 µm</text>
<text transform="translate(601.00,65.40) rotate(90)" font-size="16" stroke="#4ba4a7" stroke-width="0.3" fill="#4ba4a7">25 µm</text>
<text transform="translate(699.60,27.90) rotate(90)" font-size="16" stroke="#4ba4a7" stroke-width="0.3" fill="#4ba4a7">20 µm</text>
<text x="648.28" y="111.70" font-size="16.5" stroke="#000" stroke-width="0.3" fill="#000">N</text>
<text x="578.68" y="173.20" font-size="16.5" stroke="#000" stroke-width="0.3" fill="#000">E</text>
<text x="673.94" y="127.90" font-size="16.5" stroke="#c1272d" stroke-width="0.3" fill="#c1272d" textLength="34.89" lengthAdjust="spacingAndGlyphs">-Sun</text>
<text x="707.62" y="179.50" font-size="16.5" stroke="#2e3192" stroke-width="0.3" fill="#2e3192" textLength="17.03" lengthAdjust="spacingAndGlyphs">-V</text>
<text x="37.03" y="348.10" font-size="18" stroke="#000" stroke-width="0.3" fill="#000">-2</text>
<text x="37.03" y="404.80" font-size="18" stroke="#000" stroke-width="0.3" fill="#000">-1</text>
<text x="42.84" y="460.90" font-size="18" stroke="#000" stroke-width="0.3" fill="#000">0</text>
<text x="43.02" y="517.30" font-size="18" stroke="#000" stroke-width="0.3" fill="#000">1</text>
<text x="67.59" y="557.20" font-size="18" stroke="#000" stroke-width="0.3" fill="#000">-10</text>
<text x="146.39" y="557.20" font-size="18" stroke="#000" stroke-width="0.3" fill="#000">0</text>
<text x="204.89" y="557.20" font-size="18" stroke="#000" stroke-width="0.3" fill="#000">10</text>
<text x="268.39" y="557.20" font-size="18" stroke="#000" stroke-width="0.3" fill="#000">20</text>
<text x="333.69" y="557.20" font-size="18" stroke="#000" stroke-width="0.3" fill="#000">30</text>
<text x="194.44" y="386.70" font-size="18" stroke="#d40f1c" stroke-width="0.3" fill="#d40f1c" textLength="34.89" lengthAdjust="spacingAndGlyphs">-Sun</text>
<text x="-1.23" y="583.60" font-size="18" stroke="#000" stroke-width="0.3" fill="#000" textLength="21.53" lengthAdjust="spacingAndGlyphs">[B]</text>
<text x="190.39" y="584.10" font-size="17" stroke="#000" stroke-width="0.3" fill="#000" textLength="60.27" lengthAdjust="spacingAndGlyphs">[arcsec]</text>
<text transform="translate(17.20,460.26) rotate(-90)" font-size="18" stroke="#000" stroke-width="0.3" fill="#000">1 x 10<tspan font-size="11" dy="-7">4</tspan><tspan dy="7"> [km]</tspan></text>
<text x="586.22" y="584.40" font-size="17" stroke="#000" stroke-width="0.3" fill="#000" textLength="125.68" lengthAdjust="spacingAndGlyphs">Grain radius [m]</text>
<text x="440.55" y="583.60" font-size="18" stroke="#000" stroke-width="0.3" fill="#000" textLength="20.96" lengthAdjust="spacingAndGlyphs">[C]</text>
<text transform="translate(459.80,489.21) rotate(-90)" font-size="17.5" stroke="#000" stroke-width="0.3" fill="#000" textLength="138.94" lengthAdjust="spacingAndGlyphs">Number of Grains</text>
<text x="484.34" y="326.2" font-size="18" fill="#000" stroke="#000" stroke-width="0.3">10<tspan font-size="11.5" dy="-7.5">11</tspan></text>
<text x="484.14" y="370.0" font-size="18" fill="#000" stroke="#000" stroke-width="0.3">10<tspan font-size="11.5" dy="-7.5">10</tspan></text>
<text x="490.54" y="413.4" font-size="18" fill="#000" stroke="#000" stroke-width="0.3">10<tspan font-size="11.5" dy="-7.5">9</tspan></text>
<text x="490.54" y="456.9" font-size="18" fill="#000" stroke="#000" stroke-width="0.3">10<tspan font-size="11.5" dy="-7.5">8</tspan></text>
<text x="490.54" y="500.4" font-size="18" fill="#000" stroke="#000" stroke-width="0.3">10<tspan font-size="11.5" dy="-7.5">7</tspan></text>
<text x="490.54" y="543.6" font-size="18" fill="#000" stroke="#000" stroke-width="0.3">10<tspan font-size="11.5" dy="-7.5">6</tspan></text>
<text x="507.54" y="558.2" font-size="18" fill="#000" stroke="#000" stroke-width="0.3">10<tspan font-size="11.5" dy="-7.5">-5</tspan></text>
<text x="590.54" y="558.2" font-size="18" fill="#000" stroke="#000" stroke-width="0.3">10<tspan font-size="11.5" dy="-7.5">-4</tspan></text>
<text x="660.44" y="558.2" font-size="18" fill="#000" stroke="#000" stroke-width="0.3">10<tspan font-size="11.5" dy="-7.5">-3</tspan></text>
<text x="730.34" y="558.2" font-size="18" fill="#000" stroke="#000" stroke-width="0.3">10<tspan font-size="11.5" dy="-7.5">-2</tspan></text>
</svg>
</body></html>
